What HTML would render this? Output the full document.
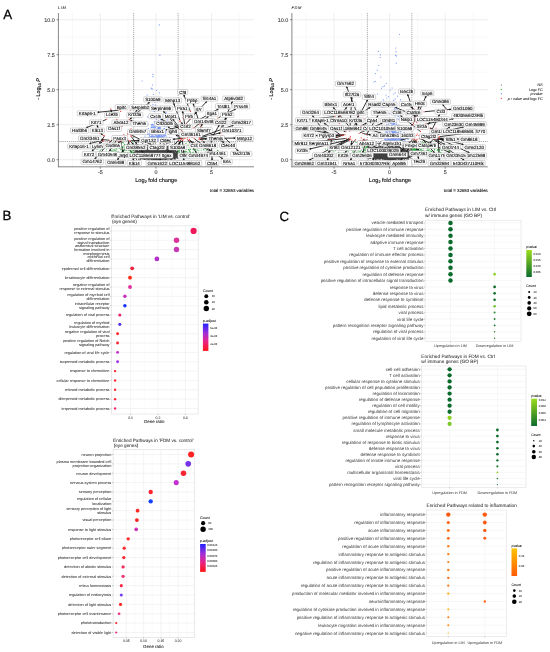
<!DOCTYPE html>
<html lang="en"><head><meta charset="utf-8"><title>Figure</title>
<style>html,body{margin:0;padding:0;background:#fff}svg{display:block}</style></head>
<body>
<svg width="550" height="652" viewBox="0 0 550 652" font-family="'Liberation Sans', sans-serif" text-rendering="geometricPrecision" stroke-width="0.05">
<rect width="550" height="652" fill="#fff"/>
<text x="3.3" y="18.8" font-size="13.3" fill="#000" stroke="#000" stroke-width="0.25">A</text>
<text x="2.5" y="220.0" font-size="13.3" fill="#000" stroke="#000" stroke-width="0.25">B</text>
<text x="279.6" y="220.5" font-size="13.3" fill="#000" stroke="#000" stroke-width="0.25">C</text>
<g>
<line x1="72.50" y1="13.0" x2="72.50" y2="166.8" stroke="#f1f1f1" stroke-width="0.5"/>
<line x1="128.10" y1="13.0" x2="128.10" y2="166.8" stroke="#f1f1f1" stroke-width="0.5"/>
<line x1="183.70" y1="13.0" x2="183.70" y2="166.8" stroke="#f1f1f1" stroke-width="0.5"/>
<line x1="239.30" y1="13.0" x2="239.30" y2="166.8" stroke="#f1f1f1" stroke-width="0.5"/>
<line x1="58.4" y1="142.20" x2="254.0" y2="142.20" stroke="#f1f1f1" stroke-width="0.5"/>
<line x1="58.4" y1="107.20" x2="254.0" y2="107.20" stroke="#f1f1f1" stroke-width="0.5"/>
<line x1="58.4" y1="72.20" x2="254.0" y2="72.20" stroke="#f1f1f1" stroke-width="0.5"/>
<line x1="58.4" y1="37.20" x2="254.0" y2="37.20" stroke="#f1f1f1" stroke-width="0.5"/>
<line x1="100.30" y1="13.0" x2="100.30" y2="166.8" stroke="#e6e6e6" stroke-width="0.7"/>
<line x1="155.90" y1="13.0" x2="155.90" y2="166.8" stroke="#e6e6e6" stroke-width="0.7"/>
<line x1="211.50" y1="13.0" x2="211.50" y2="166.8" stroke="#e6e6e6" stroke-width="0.7"/>
<line x1="58.4" y1="159.70" x2="254.0" y2="159.70" stroke="#e6e6e6" stroke-width="0.7"/>
<line x1="58.4" y1="124.70" x2="254.0" y2="124.70" stroke="#e6e6e6" stroke-width="0.7"/>
<line x1="58.4" y1="89.70" x2="254.0" y2="89.70" stroke="#e6e6e6" stroke-width="0.7"/>
<line x1="58.4" y1="54.70" x2="254.0" y2="54.70" stroke="#e6e6e6" stroke-width="0.7"/>
<line x1="58.4" y1="19.70" x2="254.0" y2="19.70" stroke="#e6e6e6" stroke-width="0.7"/>
<line x1="133.66" y1="13.0" x2="133.66" y2="166.8" stroke="#555" stroke-width="0.5" stroke-dasharray="1.2 0.9"/>
<line x1="178.14" y1="13.0" x2="178.14" y2="166.8" stroke="#555" stroke-width="0.5" stroke-dasharray="1.2 0.9"/>
<line x1="58.4" y1="141.50" x2="254.0" y2="141.50" stroke="#555" stroke-width="0.5" stroke-dasharray="1.2 0.9"/>
<path d="M141.6 154.1h0M142.3 156.2h0M161.5 153.2h0M157.3 157.4h0M173.8 151.3h0M146.7 153.6h0M170.2 158.9h0M159.1 156.2h0M143.6 155.6h0M139.3 156.5h0M149.2 154.4h0M153.2 155.3h0M154.8 157.6h0M137.6 152.0h0M177.8 157.2h0M162.3 148.1h0M167.6 158.8h0M142.0 152.3h0M164.9 154.9h0M156.2 157.2h0M159.2 157.9h0M162.5 153.1h0M162.8 151.8h0M152.3 157.3h0M158.0 155.2h0M159.2 154.8h0M158.8 154.1h0M152.5 157.0h0M158.0 155.5h0M151.2 155.9h0M168.9 155.2h0M146.8 155.7h0M168.9 156.2h0M160.9 157.1h0M174.0 153.4h0M163.0 150.2h0M165.3 145.7h0M146.2 156.2h0M153.4 155.4h0M147.9 156.9h0M155.1 157.8h0M134.6 152.5h0M151.0 148.4h0M165.1 158.1h0M162.7 157.8h0M150.3 158.0h0M150.3 153.3h0M158.1 158.9h0M146.8 147.3h0M147.1 153.6h0M137.1 141.8h0M137.6 152.8h0M154.4 151.5h0M165.3 155.5h0M175.1 151.5h0M161.8 149.0h0M147.8 154.9h0M152.2 157.7h0M141.4 152.1h0M135.1 155.7h0M155.9 158.5h0M147.5 157.6h0M139.8 155.5h0M155.8 158.9h0M152.5 156.5h0M170.1 153.8h0M164.0 155.4h0M159.8 153.7h0M176.5 152.2h0M147.1 157.2h0M133.7 154.3h0M149.0 147.2h0M162.1 154.4h0M158.6 154.2h0M145.7 157.2h0M168.6 158.8h0M152.0 153.0h0M156.5 158.7h0M153.4 158.8h0M156.4 156.9h0M147.2 154.2h0M144.0 149.0h0M152.8 156.2h0M156.6 158.9h0M154.3 156.5h0M145.7 151.8h0M141.1 152.5h0M162.5 149.0h0M172.9 155.8h0M140.2 153.7h0M145.1 152.5h0M164.0 147.1h0M151.3 156.0h0M162.9 151.8h0M161.6 147.6h0M170.2 155.7h0M144.9 147.1h0M153.1 157.6h0M136.9 154.5h0M176.8 157.7h0M158.1 156.5h0M157.4 156.9h0M137.3 154.5h0M145.4 147.0h0M160.6 158.7h0M146.4 157.1h0M146.8 152.9h0M146.5 157.1h0M170.0 149.9h0M174.1 146.4h0M148.9 157.2h0M140.0 159.4h0M169.7 157.0h0M160.6 152.9h0M154.3 157.7h0M154.3 154.0h0M136.3 151.1h0M145.8 158.5h0M136.3 151.2h0M156.4 158.6h0M158.4 151.9h0M145.9 153.9h0M155.2 157.0h0M155.9 156.4h0M145.4 156.6h0M149.1 158.8h0M144.6 152.8h0M165.4 151.9h0M158.0 151.0h0M164.2 156.5h0M163.1 156.0h0M160.7 157.6h0M154.6 155.8h0M161.9 153.8h0M164.2 154.5h0M163.7 157.9h0M136.2 156.7h0M152.9 156.6h0M158.4 158.5h0M140.8 158.5h0M159.1 155.8h0M156.9 155.1h0M143.6 157.1h0M174.0 154.8h0M161.3 153.6h0M149.5 157.5h0M153.8 159.1h0M161.7 150.9h0M147.7 154.6h0M154.6 148.3h0M159.7 150.2h0M175.0 149.7h0M158.1 150.9h0M155.1 157.7h0M154.2 159.4h0M145.4 153.6h0M172.2 155.6h0M147.8 153.0h0M149.9 149.9h0M171.9 155.4h0M155.4 154.6h0M159.7 155.0h0M155.8 148.7h0M172.5 155.7h0M169.9 153.6h0M148.9 158.2h0M152.8 157.8h0M143.4 154.7h0M149.5 155.5h0M147.0 156.4h0M155.3 158.9h0M162.5 157.5h0M136.7 148.9h0M151.3 157.4h0M148.3 158.7h0M150.0 158.5h0M149.5 154.4h0M145.3 154.8h0M155.1 156.0h0M171.9 151.4h0M150.0 155.5h0M141.6 154.5h0M156.1 156.4h0M159.9 159.0h0M141.4 156.1h0M151.5 159.1h0M149.3 152.8h0M146.6 155.0h0M145.2 150.3h0M161.2 157.4h0M141.7 152.8h0M147.9 156.1h0M144.3 151.2h0M149.2 152.7h0M166.7 156.1h0M175.4 153.4h0M168.9 154.7h0M152.0 155.0h0M163.1 156.8h0M164.6 155.9h0M152.6 155.7h0M144.1 152.2h0M169.5 152.2h0M136.4 154.6h0M151.0 153.8h0M162.9 156.7h0M148.5 155.3h0M150.1 156.6h0M160.1 152.7h0M149.2 157.1h0M162.9 156.9h0M141.3 156.8h0M172.5 154.5h0M169.4 154.3h0M160.1 157.8h0M159.9 157.7h0M167.9 151.0h0M156.1 156.1h0M136.2 156.4h0M139.8 145.4h0M141.4 156.6h0M149.2 148.1h0M163.9 151.2h0M163.5 148.9h0M172.0 155.5h0M150.7 150.3h0M150.1 157.2h0M167.2 158.9h0M159.4 154.3h0M159.9 159.0h0M168.6 152.2h0M157.7 157.8h0M133.8 153.9h0M161.7 157.3h0M157.6 151.4h0M157.1 156.4h0M165.1 151.4h0M135.4 154.2h0M154.3 148.8h0M147.9 152.3h0M147.7 159.2h0M175.8 154.6h0M142.0 157.6h0M173.0 158.1h0M169.1 158.0h0M161.2 151.2h0M159.7 156.9h0M154.5 149.4h0M149.4 157.7h0M177.6 154.5h0M158.0 157.7h0M154.8 157.3h0M162.1 155.0h0M159.6 156.1h0M149.2 157.7h0M152.1 155.6h0M151.4 153.5h0M144.6 153.4h0M145.7 153.5h0M164.1 153.2h0M142.7 153.3h0M144.0 157.5h0M176.8 158.0h0M148.7 156.2h0M146.4 157.8h0M142.4 154.1h0M161.8 151.4h0M170.0 154.7h0M145.2 151.2h0M159.2 157.3h0M154.0 156.4h0M164.0 153.7h0M156.9 156.8h0M152.1 157.7h0M143.4 154.8h0M158.2 150.2h0M150.0 155.1h0M141.2 151.1h0M160.1 151.8h0M166.3 158.2h0M152.7 157.4h0M135.4 154.5h0M150.7 156.7h0M168.0 154.9h0M149.4 158.4h0M169.9 156.4h0M159.9 155.8h0M150.5 157.2h0M156.4 153.0h0M143.1 148.2h0M150.1 157.5h0M172.5 149.0h0M142.0 156.3h0M151.1 157.1h0M149.9 148.9h0M136.2 154.5h0M151.5 159.1h0M170.5 142.4h0M150.4 155.1h0M155.0 154.6h0M156.6 158.8h0M149.5 158.5h0M149.4 157.4h0M154.6 153.1h0M153.9 158.2h0M174.0 146.6h0M144.1 156.7h0M148.6 150.3h0M163.2 154.7h0M143.6 155.8h0M154.2 157.8h0M171.2 152.4h0M156.0 155.4h0M161.3 157.9h0M144.2 159.4h0M151.1 153.6h0M151.8 154.7h0M144.1 149.6h0M158.7 155.8h0M157.5 157.0h0M156.3 159.6h0M152.7 155.4h0M172.9 152.2h0M146.3 154.3h0M148.1 158.5h0M177.9 153.5h0M161.6 154.9h0M167.2 147.4h0M160.8 152.6h0M158.6 158.5h0M154.4 155.0h0M168.5 153.4h0M146.7 147.4h0M163.2 157.4h0M154.0 156.4h0M157.5 151.9h0M143.9 151.4h0M148.8 157.2h0M171.4 155.2h0M152.7 157.1h0M142.6 155.5h0M171.1 156.6h0M155.8 150.6h0M151.6 151.2h0M153.2 153.3h0M137.0 155.7h0M168.3 156.5h0M140.1 155.6h0M144.8 150.7h0M157.2 156.5h0M157.1 154.0h0M160.6 150.7h0M147.7 158.1h0M152.8 159.2h0M152.6 152.5h0M158.8 157.1h0M143.4 158.0h0M154.2 150.7h0M168.5 154.2h0M158.1 156.0h0M154.6 158.2h0M145.6 154.7h0M151.6 157.6h0M160.1 156.1h0M147.9 149.1h0M167.0 156.6h0M162.4 146.5h0M136.2 153.8h0M163.8 153.7h0M164.3 156.7h0M163.2 155.2h0M151.8 158.7h0M175.7 155.5h0M157.0 155.7h0M156.6 153.9h0M148.9 154.4h0M153.4 158.5h0M153.5 158.1h0M147.9 148.9h0M165.7 155.0h0M162.2 154.2h0M158.2 155.0h0M149.3 158.4h0M158.8 153.9h0M161.0 156.6h0M172.0 154.7h0M155.6 158.7h0M155.0 154.4h0M153.9 155.6h0M171.5 148.4h0M157.7 151.2h0M166.1 158.0h0M176.8 152.6h0M157.7 153.6h0M149.1 157.3h0M165.1 154.1h0M151.2 154.1h0M167.9 152.9h0M153.2 152.2h0M158.6 155.3h0M146.3 154.6h0M157.4 155.4h0M156.6 158.3h0M145.6 152.6h0M165.6 157.2h0M163.0 156.6h0M141.3 145.3h0M157.5 152.6h0M145.4 157.3h0M148.2 155.6h0M154.6 156.6h0M148.9 157.9h0M156.2 157.4h0M150.0 157.4h0M151.4 152.7h0M167.4 157.8h0M166.9 157.6h0M140.4 157.5h0M151.8 156.2h0M141.8 148.8h0M154.6 152.2h0M140.1 154.2h0M146.0 152.1h0M158.1 152.3h0M145.6 156.1h0M167.4 149.4h0M158.6 158.8h0M145.9 158.5h0M162.5 158.9h0M158.3 152.0h0M170.5 158.1h0M156.8 153.7h0M140.3 155.2h0M170.9 146.7h0M142.0 149.9h0M152.1 151.4h0M177.1 156.6h0M146.1 154.1h0M149.4 155.3h0M147.5 158.3h0M152.6 156.4h0M158.9 158.3h0M170.5 154.5h0M136.7 154.6h0M168.1 148.1h0M164.3 157.2h0M159.3 154.2h0M155.7 151.7h0M146.0 150.0h0M163.1 153.1h0M151.5 151.9h0M157.8 157.0h0M151.8 156.3h0M171.3 155.1h0M162.0 158.0h0M141.5 154.7h0M154.6 157.2h0M151.7 150.6h0M163.5 156.6h0M143.0 156.8h0M148.3 149.5h0M153.5 154.4h0M159.1 145.2h0M150.8 152.6h0M160.3 157.1h0M164.0 157.0h0M163.4 156.6h0M149.9 157.5h0M154.6 156.0h0M149.9 156.7h0M162.4 157.3h0M163.7 157.8h0M143.9 156.5h0M152.7 158.2h0M146.9 153.1h0M177.5 150.0h0M135.2 152.2h0M157.1 158.6h0M159.3 158.0h0M156.1 155.3h0M163.9 157.3h0M170.2 156.1h0M160.9 151.2h0M163.1 149.2h0M161.3 158.1h0M141.0 154.1h0M158.0 158.8h0M157.6 154.6h0M144.1 150.8h0M148.8 155.6h0M164.4 157.0h0M146.1 152.0h0M155.3 153.3h0M158.3 157.5h0M148.6 155.4h0M144.0 158.6h0M163.4 155.1h0M163.9 158.0h0M153.9 156.5h0M143.4 147.6h0M160.4 154.1h0M165.8 152.9h0M150.9 156.1h0M173.4 150.2h0M140.8 159.0h0M165.2 152.0h0M149.7 154.5h0M157.9 152.6h0M152.9 159.1h0M141.1 155.0h0M162.0 157.7h0M175.0 157.7h0M153.0 144.2h0M160.0 156.6h0M147.4 157.5h0M139.6 146.4h0M160.0 152.8h0M177.6 151.4h0M155.8 150.5h0M152.8 152.5h0M136.6 154.1h0M157.0 150.4h0M157.8 152.9h0M157.8 156.7h0M158.5 158.6h0M170.5 152.1h0M160.7 154.0h0M137.2 152.0h0M163.8 158.1h0M169.3 153.3h0M149.8 155.0h0M150.5 155.0h0M153.1 152.4h0M158.5 156.8h0M149.9 159.0h0M170.8 155.7h0M168.5 141.9h0M154.9 154.9h0M150.4 157.2h0M136.6 153.3h0M142.5 154.6h0M145.5 152.6h0M147.5 155.7h0M150.7 149.1h0M155.2 152.8h0M167.1 156.8h0M150.0 152.2h0M150.6 157.0h0M155.8 154.4h0M165.7 149.2h0M150.8 157.8h0M165.3 156.2h0M153.0 152.0h0M147.1 154.6h0M146.0 156.9h0M167.6 156.8h0M145.2 150.4h0M167.8 156.1h0M151.3 155.5h0M158.7 154.9h0M140.7 154.3h0M164.3 151.9h0M155.5 155.8h0M153.5 151.0h0M153.9 159.0h0M147.3 153.4h0M171.7 152.7h0M149.9 158.6h0M159.3 157.6h0M150.4 150.9h0M152.6 158.6h0M141.7 156.0h0M159.1 157.0h0M173.3 146.1h0M142.5 152.7h0M167.6 158.5h0M168.2 149.5h0M154.3 156.6h0M161.5 158.8h0M172.3 154.3h0M167.5 158.0h0M155.5 157.2h0M149.5 153.4h0M177.3 148.4h0M150.1 151.4h0M147.6 154.7h0M148.1 154.6h0M177.0 156.4h0M141.4 157.0h0M156.8 157.3h0M150.6 154.0h0M155.9 153.9h0M146.8 156.1h0M143.8 154.4h0M141.8 156.7h0M160.8 158.6h0M153.3 150.5h0M163.5 155.2h0M153.8 157.2h0M161.0 155.3h0M164.6 150.1h0M174.5 156.5h0M145.4 152.5h0M154.3 158.5h0M156.2 153.1h0M154.9 154.3h0M158.4 153.9h0M146.7 154.8h0M163.5 155.2h0M161.1 157.4h0M148.5 154.0h0M163.3 154.8h0M143.4 153.6h0M172.9 150.3h0M168.1 157.4h0M143.6 147.7h0M151.6 154.1h0M171.1 153.9h0M149.2 157.3h0M161.5 154.8h0M144.4 157.2h0M161.9 154.8h0M153.1 156.0h0M154.0 153.0h0M175.9 153.9h0M153.3 154.0h0M142.9 157.3h0M156.0 157.3h0M157.7 158.3h0M142.4 155.8h0M172.5 146.1h0M157.7 157.2h0M157.4 156.2h0M151.3 157.1h0M134.2 148.8h0M151.8 154.2h0M154.0 155.2h0M154.6 155.7h0M170.3 157.9h0M153.5 155.9h0M146.6 158.6h0M153.5 153.2h0M168.3 148.3h0M144.6 153.4h0M139.2 153.8h0M157.3 155.8h0M166.1 155.6h0M157.2 154.1h0M152.3 147.2h0M146.0 157.2h0M161.3 157.5h0M153.4 157.5h0M168.0 155.4h0M165.9 157.0h0M171.9 156.6h0M170.8 154.4h0M146.8 148.6h0M151.3 158.8h0M161.6 153.5h0M148.2 158.2h0M144.2 156.6h0M141.0 155.2h0M150.1 158.2h0M146.6 150.5h0M173.1 150.5h0M140.3 156.3h0M143.7 152.0h0M168.0 153.3h0M161.5 157.9h0M158.4 159.4h0M164.5 151.7h0M138.7 151.8h0M160.3 158.7h0M177.7 155.8h0M150.4 155.7h0M157.1 155.6h0M145.5 157.0h0M147.7 156.7h0M158.9 156.9h0M135.6 156.7h0M157.2 152.3h0M147.0 157.0h0M159.3 156.1h0M146.9 150.9h0M159.5 153.5h0M156.6 155.9h0M140.0 146.6h0M151.1 156.9h0M158.0 154.7h0M148.9 155.7h0M155.2 153.8h0M169.6 157.7h0M162.5 148.0h0M165.6 155.3h0M167.5 150.5h0M158.1 156.7h0M169.8 150.6h0M145.1 157.9h0M151.9 147.8h0M160.2 155.4h0M153.3 156.6h0M141.6 156.4h0M157.0 153.3h0M163.1 157.8h0M148.7 149.9h0M149.0 159.0h0M147.0 156.0h0M168.7 156.6h0M163.3 154.7h0M156.8 154.6h0M159.6 156.3h0M156.5 158.7h0M160.1 153.3h0M148.7 159.0h0M154.8 158.2h0M147.7 155.3h0M148.6 155.9h0M167.4 153.9h0M143.3 157.1h0M163.2 155.9h0M170.5 150.7h0M164.8 152.0h0M150.0 156.7h0M154.8 157.3h0M147.3 153.2h0M168.3 155.6h0M169.6 158.6h0M141.2 154.6h0M167.5 155.0h0M136.4 147.8h0M151.3 157.9h0M158.0 149.8h0M155.2 148.7h0M142.6 153.3h0M142.5 158.3h0M163.4 154.0h0M158.6 155.8h0M166.6 143.8h0M147.6 149.8h0M163.6 150.9h0M159.8 155.5h0M158.1 158.9h0M144.5 150.3h0M171.8 156.3h0M162.9 151.1h0M172.1 158.5h0M155.3 157.8h0M158.3 150.3h0M144.4 158.3h0M162.7 157.8h0M158.2 151.9h0M151.1 153.6h0M154.8 156.3h0M145.0 147.6h0M171.4 153.5h0M157.5 155.1h0M142.5 158.7h0M165.3 153.7h0M155.6 155.9h0M148.3 157.2h0M159.4 158.7h0M145.7 156.4h0M139.7 153.1h0M140.2 153.2h0M163.2 156.4h0M170.2 158.8h0M156.3 158.0h0M147.1 156.7h0M154.4 155.0h0M145.0 152.0h0M150.8 158.1h0M164.2 156.4h0M150.3 158.0h0M138.6 154.1h0M145.5 151.8h0M173.5 156.8h0M168.4 157.7h0M166.3 156.1h0M140.4 157.8h0M161.8 158.9h0M160.1 149.2h0M145.9 154.5h0M154.9 150.6h0M145.3 156.9h0M146.2 156.7h0M147.5 155.6h0M143.2 155.0h0M145.0 155.6h0M176.2 156.1h0M146.8 151.7h0M151.3 146.7h0M149.8 153.9h0M158.9 150.7h0M166.5 157.0h0M167.9 156.6h0M154.9 152.7h0M159.4 158.2h0M165.5 150.0h0M140.4 152.1h0M155.6 153.1h0M151.7 152.9h0M162.2 158.1h0M147.4 150.2h0M153.6 152.9h0M148.8 158.4h0M169.4 154.0h0M160.1 154.6h0M145.7 154.7h0M171.0 155.3h0M144.1 152.7h0M150.3 151.3h0M161.3 154.9h0M146.8 154.8h0M143.9 154.0h0M147.0 147.9h0M155.9 156.5h0M173.7 151.5h0M154.7 153.6h0M177.1 153.0h0M160.3 151.2h0M143.4 150.1h0M145.9 157.8h0M161.7 152.7h0M164.2 158.9h0M151.0 156.4h0M149.1 154.3h0M168.1 147.5h0M161.1 154.5h0M161.0 148.3h0M157.5 154.9h0M155.2 158.0h0M176.6 152.9h0M151.4 158.5h0M135.5 144.7h0M158.6 158.2h0M173.8 157.8h0M153.4 151.8h0M150.1 154.2h0M145.8 156.9h0M156.0 155.5h0M165.9 157.6h0M155.2 157.1h0M142.2 157.3h0M170.7 151.6h0M146.2 151.8h0M146.0 155.7h0M141.9 156.4h0M161.8 149.0h0M165.7 159.0h0M160.6 152.6h0M164.4 148.3h0M148.6 151.1h0M144.6 156.5h0M158.2 157.8h0M170.3 156.5h0M147.4 149.1h0M160.5 158.3h0M162.5 158.7h0M152.3 157.3h0M167.5 155.2h0M143.0 155.4h0M158.5 153.9h0M147.9 152.7h0M164.1 157.8h0M156.9 157.6h0M141.1 146.5h0M169.3 154.5h0M163.3 150.7h0M158.8 158.6h0M160.9 157.0h0M162.7 153.0h0M152.0 155.3h0M162.5 152.0h0M159.1 158.6h0M139.8 152.3h0M154.3 156.3h0M164.4 158.3h0M171.1 155.7h0M159.2 156.0h0M166.1 150.5h0M148.0 152.7h0M153.1 153.9h0M144.4 157.8h0M158.5 158.6h0M148.7 156.1h0M134.2 152.5h0M142.2 156.8h0M148.0 157.8h0M155.2 157.5h0M163.3 158.1h0M164.9 152.0h0M157.2 151.6h0M158.9 157.0h0M158.6 158.8h0M152.3 158.2h0M164.9 151.8h0M161.4 158.7h0M158.0 157.3h0M151.4 157.1h0M144.9 158.2h0M143.2 155.8h0M152.6 158.9h0M159.6 155.4h0M167.7 154.1h0M142.3 153.0h0M149.1 149.0h0M153.8 155.2h0M159.8 151.1h0M160.5 154.0h0M156.5 157.1h0M154.5 149.5h0M134.2 148.8h0M165.0 151.1h0M163.3 154.5h0M169.7 153.0h0M149.4 156.2h0M149.9 156.9h0M177.3 146.5h0M144.0 153.3h0M160.4 156.3h0M155.6 159.5h0M166.3 158.9h0M172.5 159.0h0M154.1 155.9h0M152.0 148.9h0M146.9 156.6h0M148.5 151.1h0M153.3 156.5h0M163.6 157.7h0M157.5 158.4h0M163.6 151.0h0M141.9 147.7h0M158.5 158.6h0M163.9 151.7h0M162.9 155.7h0M154.2 158.7h0M162.7 159.0h0M149.9 158.2h0M160.7 155.4h0M146.9 150.3h0M141.4 154.0h0M141.9 146.3h0M158.4 152.3h0M169.2 158.3h0M144.7 154.5h0M161.7 157.8h0M141.1 142.5h0M152.7 153.9h0M159.8 153.9h0M144.2 157.6h0M152.1 157.8h0M159.8 156.9h0M140.0 152.6h0M152.8 154.3h0M156.3 158.9h0M149.7 159.2h0M170.9 154.1h0M152.2 156.1h0M152.9 157.9h0M152.6 156.6h0M158.4 158.4h0M156.9 158.1h0M146.2 156.4h0M160.2 152.6h0M147.9 150.4h0M156.8 158.2h0M165.3 152.4h0M161.7 155.9h0M153.0 156.3h0M156.5 155.1h0M149.7 151.2h0M159.8 158.0h0M162.2 153.3h0M148.5 155.7h0M171.6 158.0h0M151.3 152.4h0M157.9 152.4h0M167.6 156.6h0M147.4 155.2h0M149.4 155.3h0M167.9 150.0h0M162.3 154.4h0M155.8 155.3h0M163.8 148.2h0M151.7 157.8h0M140.0 151.2h0M155.3 151.2h0M163.7 155.4h0M158.8 155.4h0M152.6 151.7h0M142.4 151.5h0M158.0 157.3h0M160.1 153.1h0M140.8 156.4h0M167.8 157.4h0M166.8 156.1h0M166.2 154.5h0M157.7 157.4h0M160.1 157.9h0M176.0 143.5h0M147.8 153.4h0M152.6 156.6h0M143.9 154.2h0M150.2 152.4h0M158.2 157.6h0M162.5 157.1h0M151.3 154.1h0M147.2 156.2h0M144.8 148.7h0M170.6 159.3h0M159.2 158.2h0M157.7 152.7h0M143.8 155.8h0M147.1 157.2h0M160.9 157.7h0M140.8 158.3h0M178.0 156.6h0M167.7 148.6h0M164.5 150.1h0M163.3 158.1h0M160.2 155.5h0M167.1 156.2h0M150.7 155.8h0M152.1 150.7h0M143.3 156.9h0M138.8 154.2h0M148.9 153.6h0M167.0 157.2h0M160.6 158.7h0M176.7 156.1h0M151.3 154.9h0M166.1 152.2h0M150.5 157.4h0M175.7 157.6h0M152.5 150.8h0M159.7 154.8h0M155.1 155.3h0M147.8 153.4h0M154.3 150.1h0M173.0 145.1h0M157.9 157.1h0M135.0 152.3h0M163.0 147.7h0M152.1 159.3h0M152.7 153.8h0M138.0 154.1h0M156.4 151.5h0M156.5 157.9h0M143.4 155.0h0M147.0 158.0h0M151.1 155.0h0M149.2 156.8h0M153.1 155.6h0M169.0 158.6h0M163.9 155.4h0M153.4 159.4h0M159.2 153.0h0M145.1 151.2h0M161.7 149.0h0M153.3 151.9h0M140.9 156.1h0M165.6 150.5h0M156.1 152.7h0M159.0 158.4h0M135.8 150.1h0M149.9 157.4h0M136.9 157.5h0M156.9 159.2h0M153.4 148.9h0M155.1 157.5h0M155.4 157.8h0M152.9 159.1h0M153.0 157.0h0M161.4 158.0h0M153.3 152.2h0M149.9 154.4h0M141.5 153.3h0M157.1 155.8h0M146.0 153.3h0M166.0 159.4h0M162.6 156.5h0M157.7 158.3h0M156.9 150.6h0M155.4 157.2h0M174.1 155.9h0M155.5 151.0h0M154.0 153.3h0M148.4 153.0h0M163.8 158.6h0M168.2 148.7h0M151.7 158.0h0M167.3 151.3h0M173.4 154.3h0M148.1 151.5h0M144.7 154.2h0M171.1 151.6h0M148.2 157.9h0M149.7 153.8h0M167.7 158.8h0M157.1 156.0h0M147.2 147.6h0M154.1 152.6h0M153.5 157.6h0M172.5 153.0h0M148.0 152.0h0M176.6 151.7h0M154.0 159.2h0M140.9 149.5h0M155.2 159.2h0M168.0 149.5h0M166.2 158.4h0M167.6 158.6h0M154.0 157.4h0M151.1 157.3h0M137.3 153.7h0M163.5 158.1h0M156.2 158.8h0M163.6 156.1h0M146.8 157.8h0M165.8 157.1h0M163.9 150.2h0M136.5 150.0h0M161.7 157.6h0M174.7 142.8h0M164.2 152.8h0M150.9 156.7h0M146.7 156.9h0M152.6 157.8h0M155.4 156.1h0M147.9 155.5h0M163.8 156.1h0M168.9 155.9h0M153.0 153.7h0M157.0 157.7h0M161.6 153.6h0M173.7 158.1h0M169.8 151.6h0M146.3 150.6h0M143.7 155.6h0M150.2 148.9h0M157.4 154.8h0M171.4 158.7h0M157.8 158.0h0M134.9 149.3h0M156.8 156.1h0M169.3 157.1h0M136.5 148.9h0M162.6 154.0h0M171.6 154.6h0M173.2 156.1h0M147.4 149.2h0M156.1 156.7h0M166.5 155.5h0M164.8 157.9h0M163.9 156.3h0M151.0 156.4h0M143.1 154.4h0M152.0 158.9h0M159.1 155.3h0M156.3 154.6h0M170.7 157.3h0M149.7 146.5h0M157.2 156.2h0M153.0 153.4h0M151.7 154.7h0M175.7 146.9h0M164.4 154.0h0M164.9 150.2h0M156.2 159.2h0M174.1 152.1h0M150.2 158.3h0M160.0 157.0h0M142.9 149.6h0M162.4 156.2h0M153.1 159.0h0M147.1 150.2h0M174.8 150.3h0M158.7 156.1h0M174.5 154.3h0M165.5 158.2h0M176.4 145.5h0M175.5 150.5h0M152.8 157.9h0M169.1 157.4h0M152.0 158.4h0M166.5 154.8h0M154.4 149.7h0M152.2 158.3h0M145.1 157.1h0M151.8 159.1h0M166.7 156.8h0M163.4 151.8h0M149.4 158.2h0M164.2 152.6h0M153.4 158.4h0M135.4 150.3h0M148.3 157.5h0M144.7 155.0h0M158.0 156.4h0M176.8 153.0h0M157.1 158.8h0M156.3 152.7h0M155.7 155.6h0M151.1 151.1h0M167.9 151.2h0M139.5 146.7h0M155.1 152.4h0M158.4 158.3h0M156.2 157.3h0M168.2 152.2h0M138.2 146.8h0M172.5 144.7h0M170.9 154.5h0M150.8 154.5h0M156.2 152.4h0M154.4 156.2h0M147.5 153.8h0M142.4 155.7h0M139.3 154.7h0M147.8 158.2h0M151.8 152.8h0M148.9 157.3h0M163.1 157.3h0M158.1 156.5h0M148.8 158.0h0M142.7 153.8h0M148.5 156.0h0M152.8 155.8h0M136.9 155.6h0M147.2 154.1h0M154.5 156.2h0M169.5 155.3h0M147.6 156.1h0M171.4 155.9h0M140.7 152.0h0M155.1 152.7h0M139.4 154.9h0M170.6 152.8h0M162.9 153.8h0M168.3 150.0h0M154.2 156.5h0M160.9 158.5h0M140.1 155.4h0M161.5 155.0h0M159.8 157.3h0M141.3 155.4h0M147.5 154.9h0M148.3 156.2h0M158.3 158.1h0M146.3 159.0h0M157.3 154.2h0M148.4 156.0h0M135.4 153.6h0M158.5 145.5h0M151.3 155.5h0M139.6 155.6h0M161.7 155.3h0M145.0 156.0h0M141.3 156.5h0M174.2 156.7h0M158.0 159.6h0M159.8 156.0h0M162.0 153.0h0M162.9 159.3h0M165.5 156.9h0M172.5 154.4h0M134.3 149.7h0M156.6 154.8h0M176.3 149.7h0M160.1 153.2h0M153.6 153.0h0M156.3 156.4h0M152.7 155.7h0M139.2 150.8h0M136.3 142.6h0M148.6 159.3h0M152.6 157.8h0M168.5 155.8h0M154.2 150.9h0M166.5 150.7h0M146.8 154.5h0M149.4 149.1h0M156.1 150.9h0M165.5 154.9h0M147.1 155.8h0M136.3 150.8h0M136.8 154.6h0M151.0 157.3h0M171.6 154.7h0M145.1 157.8h0M156.1 159.1h0M149.3 158.2h0M155.6 154.6h0M145.8 154.7h0M137.7 152.9h0M166.6 155.4h0M147.5 146.9h0M155.4 156.7h0M162.0 157.1h0M154.6 158.9h0M154.0 158.0h0M163.7 156.5h0M156.8 155.9h0M160.8 152.5h0M157.6 157.9h0M140.4 156.7h0M146.0 153.0h0M136.9 151.8h0M158.4 151.7h0M156.0 157.3h0M156.1 152.7h0M146.2 155.7h0M149.9 150.9h0M151.7 155.2h0M141.0 153.5h0M158.3 150.1h0M168.4 157.2h0M150.0 154.8h0M142.9 154.7h0M154.8 159.1h0M155.5 158.6h0M164.8 155.6h0M145.9 149.1h0M161.9 154.2h0M146.0 153.4h0M151.7 152.3h0M155.7 157.9h0M140.1 153.8h0M173.1 153.9h0M161.0 157.0h0M140.9 153.6h0M154.3 157.9h0M148.1 157.4h0M140.0 150.1h0M155.4 154.0h0M146.7 154.0h0M155.8 157.2h0M137.0 156.3h0M169.0 153.3h0M150.3 148.6h0M160.8 155.3h0M152.9 156.2h0M162.3 154.9h0M150.3 155.3h0M151.7 157.5h0M144.7 152.1h0M169.9 146.7h0M142.5 155.9h0M149.0 155.1h0M175.4 158.9h0M144.0 154.2h0M151.5 156.8h0M157.4 152.6h0M168.2 157.3h0M145.1 146.9h0M156.6 153.3h0M160.3 158.5h0M153.6 153.4h0M153.6 157.7h0M160.3 155.6h0M154.6 157.3h0M136.5 157.5h0M171.5 154.8h0M164.5 154.5h0M158.9 153.4h0M154.0 158.4h0M139.1 153.2h0M142.7 156.5h0M170.5 156.7h0M145.2 155.8h0M148.0 154.0h0M165.3 158.3h0M157.0 153.9h0M158.7 153.5h0M155.3 159.5h0M153.6 157.3h0M146.7 154.7h0M146.5 153.0h0M143.6 157.6h0M164.1 156.8h0M162.6 152.9h0M141.2 151.4h0M167.2 157.5h0M156.0 158.5h0M153.9 152.9h0M164.8 153.4h0M171.0 152.3h0M145.8 154.4h0M149.7 157.7h0M159.8 153.8h0M139.4 150.4h0M168.1 147.8h0M143.0 158.8h0M155.1 156.4h0M172.2 154.8h0M155.6 147.3h0M137.0 154.0h0M154.3 157.6h0M155.7 152.9h0M155.6 156.5h0M143.9 154.5h0M143.4 153.2h0M167.6 155.7h0M150.1 156.9h0M167.6 149.2h0M161.1 151.6h0M160.7 154.5h0M162.6 157.7h0M156.6 155.7h0M174.7 144.3h0M151.4 157.9h0M142.9 149.3h0M140.2 153.9h0M175.0 151.6h0M171.5 155.8h0M170.3 155.2h0M156.3 156.6h0M148.4 157.8h0M143.5 151.6h0M154.2 157.8h0M156.4 150.0h0M164.6 157.0h0M149.6 150.4h0M168.6 159.0h0M171.6 155.8h0M151.6 158.5h0M146.1 158.5h0M163.4 154.1h0M140.9 154.7h0M148.8 155.8h0M160.4 152.3h0M160.3 152.7h0M176.5 156.9h0M154.2 152.6h0M158.2 157.3h0M135.9 147.8h0M145.5 157.9h0M161.3 157.6h0M155.5 159.0h0M141.2 151.9h0M160.6 158.7h0M154.3 158.4h0M146.6 153.1h0M160.3 157.7h0M172.9 152.6h0M159.3 152.2h0M159.0 157.2h0M147.1 155.7h0M174.7 156.5h0M177.0 151.5h0M143.1 154.5h0M152.1 156.7h0M144.9 152.3h0M166.8 156.2h0M170.7 156.0h0M154.0 159.2h0M161.7 157.7h0M148.1 157.6h0M149.0 152.3h0M162.8 154.7h0M151.7 152.7h0M162.9 157.0h0M167.5 154.2h0M158.7 156.4h0M151.8 157.3h0M149.0 157.4h0M147.9 148.4h0M160.9 156.5h0M142.8 153.3h0M147.8 158.0h0M159.4 158.3h0M176.4 148.9h0M174.3 146.1h0M167.4 158.4h0M154.3 157.8h0M168.6 157.4h0M158.9 147.6h0M134.9 157.6h0M156.3 150.9h0M155.2 155.0h0M150.9 157.5h0M155.8 153.8h0M135.1 149.1h0M149.1 150.7h0M169.6 153.9h0M142.2 154.2h0M153.6 156.3h0M148.9 151.1h0M163.9 158.3h0M141.9 153.3h0M169.6 151.1h0M169.4 153.6h0M145.4 154.3h0M162.6 151.3h0M160.4 159.4h0M158.3 149.8h0M157.9 153.5h0M153.2 152.4h0M160.4 157.5h0M151.8 152.1h0M153.2 154.9h0M164.1 146.1h0M142.5 150.2h0M154.4 155.6h0M160.1 155.6h0M153.0 157.1h0M147.5 150.9h0M135.1 157.6h0M170.0 150.6h0M148.4 152.9h0M160.4 158.1h0M162.2 158.5h0M136.0 154.4h0M153.9 158.2h0M139.8 155.1h0M164.4 156.4h0M152.3 157.0h0M138.2 146.7h0M161.2 157.5h0M141.0 149.9h0M136.4 147.2h0M164.0 155.4h0M148.2 156.9h0M155.0 159.0h0M162.4 155.9h0M174.7 152.9h0M167.9 154.6h0M150.8 158.9h0M142.0 155.2h0M165.4 156.8h0M160.7 151.2h0M157.7 156.3h0M162.4 153.6h0M140.7 157.4h0M140.1 155.0h0M147.4 157.9h0M151.8 156.2h0M164.2 158.2h0M165.2 149.3h0M160.6 157.7h0M150.5 152.9h0M167.6 151.0h0M166.3 157.7h0M166.7 159.1h0M161.5 156.7h0M166.2 150.7h0M148.2 157.9h0M174.4 155.7h0M136.2 143.5h0M150.4 156.9h0M142.9 155.0h0M177.4 158.2h0M171.9 158.9h0M163.6 145.7h0M154.9 152.3h0M165.0 156.1h0M142.8 156.4h0M175.2 152.9h0M160.2 156.8h0M154.3 158.1h0M151.8 159.2h0M157.3 155.5h0M142.1 156.3h0M145.2 153.0h0M155.9 157.7h0M149.0 157.3h0M160.5 156.8h0M166.5 156.2h0M153.1 153.0h0M147.6 149.3h0M160.0 158.4h0M153.7 156.3h0M171.9 151.1h0M149.7 153.6h0M171.5 152.2h0M161.6 156.8h0M152.3 153.2h0M174.7 154.6h0M166.0 155.6h0M175.7 151.0h0M156.1 157.6h0M141.2 146.6h0M149.7 158.4h0M149.8 152.4h0M143.9 156.5h0M163.9 156.7h0M151.7 155.0h0M150.3 151.4h0M138.5 155.3h0M154.5 154.8h0M164.1 155.8h0M145.9 156.0h0M160.1 152.6h0M159.6 157.9h0M170.7 151.4h0M171.9 151.6h0M145.5 153.2h0M164.7 156.7h0M144.4 152.3h0M156.3 159.6h0M165.0 154.6h0M135.4 156.8h0M143.1 151.5h0M154.0 152.6h0M166.8 155.9h0M149.2 155.0h0M140.7 153.5h0M147.6 155.6h0M153.8 155.8h0M160.9 157.7h0M176.2 155.4h0M155.5 156.2h0M170.0 158.9h0M160.3 157.6h0M147.8 159.0h0M176.5 145.5h0M161.3 158.0h0M157.4 159.0h0M138.0 144.6h0M161.6 154.9h0M157.5 150.6h0M142.4 153.2h0M153.5 158.9h0M168.5 152.3h0M173.9 155.2h0M148.8 150.0h0M167.4 154.9h0M166.1 158.5h0M159.4 151.7h0M140.8 150.3h0M153.2 154.1h0M153.3 143.7h0M137.1 153.9h0M138.4 154.6h0M159.3 157.1h0M150.2 150.5h0M167.5 152.3h0M165.5 151.9h0M169.6 149.6h0M170.0 148.7h0M151.4 152.5h0M144.6 157.2h0M161.8 154.6h0M151.2 147.1h0M145.8 156.7h0M163.1 153.1h0M162.7 158.6h0M156.9 158.7h0M147.6 154.3h0M161.4 155.7h0M143.5 150.7h0M167.8 155.9h0M141.5 155.3h0M144.3 153.5h0M152.7 156.6h0M152.0 147.0h0M177.8 146.5h0M142.8 151.8h0M169.1 155.6h0M149.3 152.9h0M144.7 155.4h0M157.1 156.2h0M154.7 146.7h0M164.6 154.8h0M152.5 157.8h0M143.2 154.5h0M149.0 158.7h0M149.9 153.5h0M143.9 157.2h0M152.8 158.4h0M155.9 153.0h0M158.0 146.3h0M145.6 155.3h0M154.9 156.3h0M148.0 155.8h0M145.8 157.1h0M146.6 151.9h0M145.4 155.8h0M147.2 156.1h0M156.6 157.6h0M175.3 150.0h0M145.2 155.0h0M162.3 153.5h0M140.9 156.1h0M174.3 153.5h0M170.2 153.9h0M155.5 154.4h0M139.4 155.3h0M166.2 154.9h0M152.1 152.3h0M146.5 157.8h0M160.8 155.7h0M153.0 152.6h0M145.3 151.8h0M146.3 154.6h0M161.1 150.2h0M159.0 157.6h0M156.9 156.9h0M151.7 156.4h0M141.8 156.3h0M140.9 150.9h0M149.9 149.8h0M152.2 157.7h0M139.0 156.4h0M165.2 157.4h0M155.7 152.5h0M152.5 156.6h0M141.6 156.4h0M161.0 157.8h0M169.1 156.0h0M167.9 155.3h0M164.3 156.7h0M153.7 158.5h0M146.6 154.0h0M151.4 153.7h0M161.7 153.2h0M138.7 153.9h0M162.3 147.8h0M151.9 154.3h0M161.5 149.5h0M140.6 157.1h0M150.2 157.7h0M153.1 149.1h0M165.7 154.2h0M136.2 148.4h0M158.9 158.0h0M148.5 149.6h0M168.3 151.7h0M152.3 153.7h0M174.1 149.5h0M157.8 151.0h0M146.0 158.3h0M145.0 154.1h0M156.9 152.3h0M158.6 155.9h0M143.6 154.4h0M164.9 158.5h0M154.5 159.4h0M171.1 155.6h0M161.4 159.1h0M154.4 151.3h0M161.1 157.4h0M142.9 154.2h0M146.8 148.0h0M150.2 153.3h0M151.1 155.6h0M158.2 152.4h0M149.1 149.6h0M171.6 155.1h0M142.7 156.4h0M155.6 154.0h0M157.6 153.6h0M145.8 144.6h0M168.7 155.5h0M148.1 155.4h0M134.1 157.1h0M167.1 153.9h0M145.1 157.3h0M154.3 154.2h0M165.8 157.4h0M153.2 157.1h0M152.1 155.5h0M151.1 151.5h0M158.9 159.0h0M169.1 153.6h0M149.0 155.0h0M153.6 153.1h0M161.0 155.7h0M134.2 152.6h0M173.4 149.1h0M136.0 154.7h0M138.9 157.6h0M154.8 159.0h0M164.4 150.0h0M156.1 157.3h0M160.8 157.4h0M157.8 156.9h0M154.0 152.4h0M148.5 157.3h0M154.0 159.3h0M155.7 159.3h0M154.4 152.1h0M150.5 158.4h0M155.2 157.1h0M166.8 157.1h0M149.5 154.5h0M141.4 149.3h0M162.3 153.2h0M174.4 150.2h0M152.8 157.7h0M173.5 158.1h0M149.1 154.0h0M157.2 156.6h0M140.5 151.5h0M143.9 155.0h0M148.9 153.8h0M152.9 154.9h0M163.8 158.8h0M145.8 155.0h0M161.2 155.2h0M147.5 156.6h0M167.9 151.7h0M164.8 157.6h0M148.2 154.0h0M133.9 152.3h0M161.5 153.4h0M152.7 152.2h0M161.0 158.5h0M152.6 151.5h0M155.9 158.2h0M163.9 154.2h0M151.3 153.1h0M150.0 158.6h0M156.0 156.7h0M156.9 158.8h0M149.3 154.6h0M147.3 157.5h0M134.4 148.7h0M152.3 151.4h0M161.8 157.9h0M157.2 158.7h0M134.5 149.5h0M156.6 157.8h0M143.5 155.9h0M166.1 155.6h0M154.1 156.4h0M177.7 153.4h0M150.5 154.2h0M153.4 156.8h0M165.4 151.6h0M172.6 156.8h0M161.5 156.6h0M152.5 158.8h0M148.6 150.0h0M162.4 158.1h0M148.7 156.1h0M155.9 159.2h0M162.7 155.9h0M162.2 151.7h0M153.6 153.3h0M141.8 146.2h0M160.5 152.6h0M165.6 157.0h0M142.2 154.1h0M160.2 156.3h0M144.2 158.5h0M151.5 158.4h0M153.5 157.6h0M147.8 155.7h0M175.3 147.6h0M157.3 154.1h0M148.6 157.9h0M170.9 152.8h0M161.6 153.1h0M151.8 155.1h0M135.4 153.1h0M177.1 157.1h0M148.7 158.7h0M157.8 152.4h0M166.3 155.6h0M160.7 159.0h0M160.3 155.7h0M162.4 155.0h0M157.5 156.4h0M168.9 154.9h0M146.9 156.4h0M142.2 157.2h0M150.0 147.8h0M176.6 153.6h0M158.3 156.4h0M162.8 155.2h0M155.7 157.0h0M162.6 156.6h0M153.7 150.6h0M139.5 153.5h0M160.5 152.2h0M156.6 150.9h0M151.0 157.6h0M160.9 154.1h0M142.9 157.6h0M155.5 157.2h0M160.0 156.9h0M154.9 152.3h0M152.2 155.4h0M150.3 158.3h0M149.3 155.6h0M158.3 157.6h0M164.9 154.8h0M145.7 153.5h0M156.5 159.2h0M149.2 156.4h0M150.0 157.7h0M173.3 154.3h0M154.3 158.8h0M166.8 150.3h0M175.2 155.1h0M157.4 159.0h0M157.9 156.1h0M151.4 154.3h0M143.2 154.8h0M144.1 157.0h0M160.9 152.3h0M168.9 156.6h0M161.6 154.6h0M153.8 142.3h0M144.5 152.5h0M159.1 149.4h0M140.3 155.7h0M163.0 157.8h0M140.9 151.1h0M161.9 154.9h0M155.1 153.7h0M161.6 157.0h0M148.7 158.0h0M152.4 157.6h0M154.6 155.6h0M149.7 152.4h0M160.3 143.4h0M153.0 155.4h0M153.2 153.7h0M153.5 159.1h0M157.0 157.2h0M139.3 147.9h0M143.4 156.4h0M151.8 158.6h0M138.4 142.1h0M152.7 155.1h0M161.2 154.9h0M150.8 156.7h0M158.2 155.4h0M173.7 146.1h0M176.0 151.4h0M165.5 157.0h0M148.7 157.3h0M157.6 156.3h0M174.1 158.9h0M163.9 157.8h0M161.5 158.0h0M154.6 158.3h0M151.5 154.2h0M140.1 157.5h0M151.1 156.6h0M158.5 152.0h0M177.6 154.0h0M154.7 158.8h0M159.1 158.6h0M168.6 158.7h0M162.8 158.7h0M150.5 155.1h0M153.6 156.6h0M145.7 157.5h0M159.9 149.9h0M152.7 158.1h0M166.1 147.1h0M146.0 150.0h0M161.1 157.0h0M152.1 154.5h0M164.4 152.9h0M141.5 153.4h0M163.2 151.4h0M163.9 152.5h0M169.1 150.0h0M151.4 151.4h0M144.7 156.8h0M153.2 148.3h0M137.4 150.5h0M162.8 151.0h0M143.8 153.7h0M153.7 154.5h0M163.1 152.7h0M156.7 158.1h0M168.5 148.3h0M152.6 157.7h0M164.4 144.3h0M157.4 159.4h0M141.7 154.6h0M159.2 156.5h0M143.2 157.7h0M156.4 156.4h0M147.2 158.0h0M159.3 157.6h0M144.0 157.2h0M157.8 159.2h0M165.2 157.3h0M138.4 154.8h0M154.6 157.8h0M153.9 153.8h0M160.7 158.0h0M171.8 153.0h0M149.5 156.8h0M146.4 157.5h0M155.1 155.4h0M157.2 148.1h0M154.1 153.8h0M147.4 154.2h0M153.3 159.3h0M165.9 154.4h0M176.0 149.3h0M146.7 156.1h0M164.3 156.2h0M163.3 150.1h0M164.6 149.2h0M143.8 155.5h0M146.1 153.9h0M174.5 151.9h0M149.0 155.2h0M147.6 152.5h0M155.3 159.1h0M149.3 150.6h0M160.0 147.2h0M140.2 152.4h0M159.0 156.0h0M164.4 154.6h0M157.6 158.4h0M169.6 156.7h0M162.3 156.4h0M174.0 149.0h0M155.0 158.8h0M151.2 156.6h0M165.4 153.6h0M157.1 156.8h0M151.5 153.2h0M154.8 155.9h0M163.8 157.6h0M152.3 158.7h0M147.6 158.0h0M160.5 153.6h0M145.2 150.1h0M161.5 158.1h0M161.7 158.9h0M160.5 157.3h0M163.7 150.4h0M137.5 154.1h0M167.4 156.5h0M149.1 152.5h0M151.9 154.4h0M159.3 158.2h0M154.4 158.7h0M149.7 155.2h0M170.8 156.2h0M147.7 156.0h0M154.0 158.7h0M149.1 157.1h0M152.5 153.0h0M139.6 151.8h0M173.5 152.3h0M165.4 150.4h0M157.3 158.2h0M173.2 155.4h0M149.2 151.8h0M154.1 153.0h0M163.2 153.7h0M169.5 153.5h0M172.1 152.2h0M145.1 155.1h0M147.4 155.1h0M144.0 156.4h0M150.3 149.2h0M153.7 156.1h0M159.5 157.7h0M167.6 154.6h0M133.8 153.8h0M146.8 159.0h0M150.6 158.3h0M151.2 150.5h0M157.7 155.6h0M137.7 150.3h0M151.2 155.2h0M156.6 159.3h0M150.8 156.1h0M149.5 150.7h0M176.9 152.3h0M164.2 152.5h0M145.9 156.0h0M173.1 157.3h0M169.5 152.3h0M156.9 156.6h0M165.9 148.9h0M140.4 152.2h0M143.4 158.0h0M161.8 159.2h0M157.5 158.7h0M147.5 158.1h0M173.0 158.2h0M154.6 157.2h0M158.9 153.4h0M146.1 155.4h0M159.3 154.9h0M168.5 155.8h0M154.1 156.5h0M157.5 159.4h0M149.4 155.7h0M142.1 153.9h0M149.3 147.3h0M150.8 153.6h0M163.1 154.3h0M155.3 153.6h0M144.5 154.0h0M173.9 153.7h0M138.6 152.0h0M138.4 154.9h0M148.2 158.0h0M154.8 145.2h0M157.4 156.0h0M151.1 155.7h0M146.9 150.7h0M152.4 153.0h0M162.5 149.6h0M165.1 150.4h0M171.3 152.2h0M174.1 150.2h0M160.0 158.2h0M158.4 156.5h0M161.2 149.9h0M140.5 151.4h0M148.4 155.9h0M162.1 152.1h0M159.2 150.9h0M143.1 155.5h0M170.3 156.5h0M168.2 149.8h0M159.4 158.5h0M139.6 157.9h0M151.6 158.2h0M155.0 156.1h0M136.2 143.0h0M169.5 154.3h0M164.5 152.9h0M157.4 158.4h0M173.5 155.6h0M135.9 153.5h0M161.8 150.8h0M146.5 153.6h0M145.4 155.5h0M157.3 152.1h0M174.7 155.1h0M142.2 156.6h0M162.4 157.9h0M177.7 147.6h0M146.6 155.8h0M144.2 150.9h0M146.9 154.2h0M169.9 155.6h0M158.7 158.9h0M166.4 154.1h0M169.4 154.0h0M147.5 153.7h0M161.1 155.2h0M146.4 152.8h0M166.1 151.3h0M145.9 158.4h0M160.2 158.3h0M161.9 154.7h0M162.5 158.5h0M142.3 149.6h0M159.1 155.9h0M168.4 156.9h0M163.7 157.0h0M166.4 155.9h0M155.7 158.4h0M158.5 155.3h0M158.8 155.2h0M151.6 155.7h0M165.7 156.5h0M164.2 157.3h0M175.6 155.1h0M165.9 154.9h0M167.3 155.1h0M156.4 150.0h0M146.4 157.8h0M155.8 153.4h0M161.6 158.2h0M142.7 155.3h0M155.6 156.4h0M156.1 151.5h0M148.9 155.5h0M142.5 151.3h0M139.7 153.5h0M156.5 155.6h0M150.1 153.9h0M135.9 153.5h0M161.4 152.9h0M149.0 151.2h0M150.5 157.1h0M155.7 159.1h0M168.8 156.1h0M153.6 158.4h0M172.9 157.8h0M170.3 151.8h0M164.9 153.1h0M145.8 156.5h0M141.0 155.9h0M152.8 157.9h0M174.6 149.0h0M160.4 151.3h0M152.1 158.2h0M157.8 156.1h0M170.5 152.8h0M170.9 153.5h0M167.0 149.0h0M160.8 158.5h0M164.1 149.4h0M174.6 153.4h0M156.6 159.3h0M142.6 156.2h0M156.7 159.3h0M139.2 151.9h0M140.0 154.1h0M159.2 152.9h0M164.2 157.6h0M153.2 154.9h0M167.4 158.1h0M175.3 154.2h0M160.0 156.1h0M166.4 155.7h0M149.1 154.8h0M158.4 150.6h0M158.0 158.1h0M161.0 150.2h0M169.6 152.8h0M136.0 157.9h0M144.2 151.8h0M143.3 155.2h0M165.7 154.9h0M138.8 148.2h0M171.5 155.2h0M151.8 155.1h0M167.0 153.5h0M135.5 150.6h0M143.8 156.9h0M172.4 156.0h0M170.0 155.7h0M148.0 158.2h0M157.4 156.0h0M162.4 155.8h0M174.0 151.8h0M160.6 150.8h0M155.5 159.5h0M168.5 155.9h0M151.6 158.4h0M166.6 153.3h0M162.2 155.7h0M160.9 149.7h0M163.9 158.7h0M141.0 156.9h0M136.0 156.5h0M139.8 152.7h0M155.6 154.9h0M154.3 153.3h0M158.2 149.7h0M145.1 159.0h0M134.4 154.5h0M155.2 150.2h0M137.5 153.8h0M151.7 152.7h0M145.7 149.6h0M156.8 157.1h0M147.7 151.4h0M152.1 159.0h0M169.7 156.6h0M144.2 150.4h0M161.8 146.3h0M161.3 154.0h0M159.8 158.6h0M155.4 156.9h0M161.4 154.2h0M159.1 156.0h0M156.5 154.3h0M162.6 157.4h0M142.9 156.7h0M153.5 156.6h0M161.2 154.7h0M155.7 152.8h0M158.3 155.1h0M155.2 153.4h0M153.4 157.6h0M134.3 155.9h0M154.8 156.8h0M150.1 153.3h0M162.3 155.4h0M172.0 142.0h0M156.3 159.3h0M172.6 155.4h0M142.8 156.2h0M155.9 150.0h0M151.5 150.0h0M168.9 149.0h0M163.5 159.2h0M161.7 159.0h0M174.9 156.7h0M144.2 155.3h0M163.0 157.9h0M143.6 156.9h0M162.0 153.7h0M165.0 157.2h0M165.5 155.9h0M138.5 159.2h0M142.4 154.4h0M167.4 157.0h0M157.7 155.1h0M153.7 150.8h0M147.7 153.0h0M141.0 155.5h0M160.9 156.8h0M148.0 157.3h0M159.4 153.7h0M154.9 157.6h0M152.9 154.4h0M161.5 155.4h0M151.0 155.9h0M136.5 157.4h0M172.1 157.4h0M149.6 156.5h0M141.7 155.5h0M158.4 158.5h0M143.9 150.6h0M154.5 156.3h0M151.4 154.1h0M145.0 156.4h0M165.3 146.6h0M152.1 155.3h0M149.4 153.9h0M166.9 157.5h0M147.8 155.2h0M149.9 156.9h0M160.7 150.9h0M165.4 150.2h0M141.1 149.9h0M164.3 154.6h0M137.6 155.3h0M152.0 151.1h0M144.0 149.9h0M162.3 153.9h0M172.5 157.2h0M147.8 155.8h0M161.2 148.6h0M148.1 153.3h0M157.7 158.2h0M177.6 157.0h0M150.5 156.9h0M162.8 148.4h0M159.3 151.2h0M162.4 154.6h0M157.9 156.5h0M160.3 156.1h0M157.2 157.3h0M152.5 157.2h0M152.2 158.3h0M174.3 156.8h0M149.7 158.0h0M173.9 158.0h0M158.3 156.3h0M173.0 151.8h0M162.1 154.4h0M145.8 152.5h0M152.5 153.7h0M148.4 156.5h0M158.8 148.5h0M145.8 154.9h0M169.8 154.6h0M154.2 155.4h0M160.0 158.7h0M145.4 147.3h0M143.8 156.2h0M152.4 156.4h0M164.6 144.2h0M149.7 156.6h0M168.0 148.7h0M148.6 154.8h0M151.6 158.1h0M150.8 157.3h0M157.8 156.2h0M156.0 155.2h0M170.0 155.1h0M169.0 146.3h0M176.8 153.8h0M151.4 151.0h0M163.1 146.9h0M156.8 153.4h0M157.4 152.6h0M172.1 156.6h0M158.2 158.9h0M174.8 147.8h0M163.5 153.6h0M146.1 154.3h0M156.9 157.9h0M149.4 158.0h0M155.4 158.8h0M146.0 151.3h0M171.0 152.0h0M158.5 155.5h0M160.4 152.4h0M145.1 158.0h0M140.0 153.8h0M167.0 152.7h0M135.0 151.4h0M157.2 152.6h0M142.9 156.6h0M151.0 155.0h0M154.8 156.5h0M144.2 155.2h0M151.7 147.2h0M169.1 151.6h0M161.4 158.3h0M168.2 145.7h0M156.6 159.3h0M162.7 155.3h0M148.2 154.3h0M159.9 158.6h0M151.3 150.3h0M155.4 158.5h0M146.5 154.9h0M168.9 156.3h0M147.1 156.8h0M166.8 154.5h0M145.5 156.9h0M142.4 151.1h0M135.1 149.1h0M152.4 151.9h0M149.7 148.7h0M172.4 157.6h0M147.3 149.7h0M160.0 155.0h0M164.5 151.4h0M137.7 154.9h0M168.2 145.7h0M140.9 158.7h0M156.3 158.0h0M159.4 155.9h0M147.2 156.2h0M156.1 155.8h0M167.6 153.2h0M158.3 158.0h0M151.9 156.9h0M158.1 158.0h0M163.9 152.5h0M154.2 148.1h0M144.5 152.0h0M172.9 156.2h0M165.5 154.5h0M150.1 154.1h0M162.0 150.8h0M156.8 156.3h0M161.3 157.1h0M151.4 147.2h0M150.8 158.3h0M174.2 152.1h0M152.6 157.3h0M171.5 154.1h0M153.2 152.0h0M163.8 148.0h0M164.5 153.6h0M153.5 157.0h0M160.5 153.6h0M164.4 154.0h0M137.4 151.6h0M160.4 156.4h0M150.3 156.2h0M158.3 154.5h0M162.9 158.2h0M144.1 153.4h0M146.1 153.8h0M163.4 153.9h0M142.5 158.0h0M164.1 157.6h0M165.5 147.2h0M134.6 153.9h0M161.9 156.7h0M160.1 158.6h0M166.9 150.6h0M139.9 149.8h0M145.8 155.7h0M135.5 149.3h0M159.7 153.6h0M173.6 154.3h0M146.0 151.7h0M165.3 154.1h0M146.0 156.6h0M144.1 156.0h0M151.4 158.5h0M169.0 158.4h0M161.4 146.7h0M143.4 155.5h0M165.6 156.2h0M161.9 154.2h0M165.9 153.3h0M166.1 154.6h0M146.6 156.0h0M155.2 159.4h0M156.5 155.0h0M173.1 147.3h0M144.0 156.8h0M153.4 155.4h0M159.5 152.0h0M140.8 155.2h0M170.0 155.7h0M155.7 156.7h0M153.8 157.3h0M175.4 154.9h0M157.2 153.7h0M149.0 155.7h0M156.9 155.6h0M142.0 153.6h0M160.9 153.8h0M159.5 153.2h0M151.6 157.2h0M159.0 152.6h0M154.1 158.8h0M156.0 156.3h0M162.1 157.2h0M159.4 151.7h0M157.2 154.0h0M150.4 156.8h0M136.2 156.0h0M156.7 155.8h0M153.3 153.6h0M166.9 157.9h0M157.5 155.6h0M143.8 157.7h0M161.5 154.7h0M165.9 157.2h0M161.6 150.5h0M150.2 150.1h0M152.5 154.7h0M177.7 155.1h0M165.9 154.8h0M165.7 157.3h0M168.6 155.7h0M168.6 152.3h0M167.2 146.8h0M145.9 156.2h0M145.2 155.9h0M159.1 157.2h0M157.3 157.6h0M160.5 155.0h0M162.0 152.0h0M158.3 158.8h0M145.2 155.3h0M157.9 148.2h0M159.0 157.3h0M159.2 153.6h0M162.3 156.9h0M147.5 155.6h0M135.1 157.3h0M167.3 150.2h0M162.6 155.0h0M135.8 146.4h0M154.6 158.9h0M147.0 155.7h0M143.4 155.9h0M154.2 153.4h0M164.6 157.9h0M153.8 154.1h0M142.7 154.2h0M160.8 157.4h0M149.2 157.9h0M150.0 155.6h0M154.3 154.8h0M158.2 155.3h0M165.8 153.8h0M177.3 153.9h0M156.0 157.9h0M158.3 158.2h0M141.2 154.1h0M143.5 155.4h0M163.3 156.3h0M142.0 154.7h0M163.8 157.0h0M177.2 158.1h0M153.0 153.8h0M165.3 153.2h0M137.3 153.9h0M158.8 155.8h0M137.4 152.1h0M167.6 150.5h0M150.2 148.5h0M159.9 156.1h0M165.8 156.5h0M150.8 150.9h0M171.1 156.8h0M167.1 150.5h0M172.2 150.2h0M148.5 157.0h0M146.9 149.4h0M142.0 158.6h0M171.5 157.3h0M166.7 150.5h0M148.2 156.8h0M151.4 155.8h0M171.7 154.6h0M159.6 151.1h0M156.2 159.1h0M160.7 158.0h0M141.5 154.8h0M153.1 158.1h0M174.3 156.1h0M156.8 156.8h0M146.6 156.2h0M137.1 155.7h0M139.2 153.1h0M159.2 154.4h0M150.5 153.5h0M156.3 154.9h0M149.0 155.9h0M147.1 145.4h0M164.3 155.9h0M157.7 156.2h0M158.5 149.3h0M154.2 158.6h0M159.0 158.0h0M168.5 156.9h0M163.8 149.1h0M145.0 154.0h0M134.1 154.4h0M149.6 156.7h0M167.0 152.0h0M166.1 157.3h0M142.7 153.0h0M164.7 157.5h0M154.9 158.7h0M170.2 152.6h0M169.7 155.5h0M144.3 153.3h0M173.4 150.9h0M165.6 159.0h0M162.7 156.3h0M160.7 151.6h0M136.8 156.0h0M158.0 153.6h0M152.9 150.4h0M166.6 158.2h0M172.8 146.8h0M140.5 157.2h0M140.3 154.3h0M154.0 156.7h0M165.5 157.0h0M165.4 151.8h0M163.3 143.7h0M152.4 156.2h0M155.1 154.4h0M142.7 152.3h0M168.7 150.1h0M160.8 155.2h0M166.9 151.2h0M160.9 153.4h0M134.3 145.5h0M159.6 156.3h0M154.5 159.0h0M157.9 157.3h0M158.4 157.2h0M170.5 148.1h0M150.2 148.8h0M137.6 150.3h0M160.1 154.9h0M165.4 157.3h0M169.3 156.9h0M167.0 152.8h0M149.8 151.4h0M144.0 155.9h0M160.6 155.3h0M163.9 156.4h0M155.8 154.6h0M146.3 157.7h0M162.8 155.3h0M166.6 148.8h0M142.3 149.6h0M174.5 158.8h0M166.0 149.2h0M169.1 152.5h0M142.5 146.4h0M158.1 157.3h0M156.4 149.3h0M140.8 153.2h0M149.9 158.5h0M163.6 155.5h0M171.9 157.2h0M159.1 150.6h0M152.8 158.8h0M134.0 156.4h0M169.7 157.0h0M161.3 158.4h0M147.7 156.4h0M165.2 157.1h0M157.0 146.5h0M157.3 153.6h0M160.8 155.8h0M164.7 157.6h0M138.5 153.8h0M164.9 146.8h0M167.4 154.9h0M151.9 155.3h0M166.4 154.3h0M170.5 155.0h0M159.8 158.6h0M157.0 152.6h0M160.3 158.3h0M162.5 156.1h0M174.8 155.4h0M160.4 152.8h0M162.6 147.3h0M166.4 156.5h0M146.9 157.1h0M168.9 150.7h0M168.5 156.2h0M152.2 149.3h0M162.7 156.2h0M145.3 152.6h0M160.2 153.4h0M166.8 154.9h0M142.9 149.1h0M150.8 156.6h0M140.7 153.0h0M164.6 157.4h0M161.7 155.3h0M161.8 155.8h0M171.8 155.1h0M139.4 153.9h0M151.1 151.6h0M165.9 158.4h0M153.5 157.9h0M155.3 158.2h0M148.6 155.6h0M144.7 149.3h0M139.8 152.7h0M166.1 156.0h0M156.8 149.0h0M141.5 154.3h0M167.2 156.9h0M136.2 152.9h0M143.3 156.9h0M160.4 154.4h0M151.4 154.9h0M156.2 156.2h0M152.7 149.4h0M139.3 157.4h0M150.3 157.8h0M144.0 156.7h0M148.2 157.3h0M165.6 157.4h0M160.0 153.9h0M145.4 152.4h0M146.9 152.8h0M142.7 145.3h0M147.2 150.9h0M169.2 156.0h0M140.8 152.8h0M162.3 151.8h0M157.4 153.9h0M166.1 153.8h0M136.5 159.3h0M152.2 153.3h0M159.3 157.3h0M164.2 157.1h0M152.5 150.6h0M160.0 157.2h0M136.3 151.5h0M151.1 158.4h0M160.3 158.5h0M154.2 152.4h0M163.1 157.8h0M136.1 153.9h0M140.3 150.2h0M147.9 158.7h0M154.8 151.1h0M163.8 158.7h0M152.0 157.5h0M147.2 151.3h0M147.8 156.2h0M167.0 158.8h0M168.3 155.1h0M172.7 155.8h0M150.1 156.6h0M156.3 158.4h0M159.5 152.1h0M157.0 154.8h0M165.6 158.9h0M150.5 153.5h0M161.0 157.8h0M140.3 148.7h0M145.8 154.2h0M152.1 153.2h0M147.2 155.6h0M169.3 156.5h0M162.0 154.6h0M160.2 154.9h0M153.0 157.4h0M156.8 159.0h0M155.6 158.2h0M160.2 158.9h0M165.3 157.0h0M156.2 159.2h0M145.4 151.2h0M154.7 158.5h0M163.9 151.9h0M145.6 154.7h0M172.8 157.9h0M142.3 154.3h0M150.8 154.2h0M145.1 154.3h0M156.6 157.5h0M137.4 156.1h0M140.8 145.0h0M161.7 149.6h0M175.6 154.0h0M167.2 157.3h0M141.9 153.9h0M151.3 155.8h0M174.2 158.1h0M142.9 155.5h0M142.6 151.9h0M147.3 154.7h0M168.9 151.6h0M159.9 155.3h0M177.5 155.4h0M161.3 157.3h0M144.3 153.7h0M150.3 154.0h0M162.0 156.3h0M160.8 153.6h0M169.8 157.9h0M147.8 154.6h0M151.1 158.8h0M171.9 146.9h0M154.2 152.6h0M145.8 156.6h0M155.9 152.5h0M147.7 159.2h0M151.6 156.7h0M137.8 156.3h0M163.1 155.7h0M173.5 155.0h0M170.6 154.1h0M136.8 155.7h0M143.5 154.3h0M154.1 156.4h0M155.8 158.5h0M139.1 151.3h0M141.9 152.0h0M168.2 155.5h0M144.3 156.4h0M155.6 155.8h0M153.9 158.9h0M162.2 158.1h0M156.3 158.6h0M154.0 159.1h0M137.4 147.7h0M153.3 156.0h0M175.4 154.1h0M151.1 154.3h0M157.6 158.0h0M155.9 157.8h0M157.5 158.0h0M162.3 155.0h0M160.7 157.1h0M177.3 154.4h0M143.7 153.9h0M173.0 151.9h0M153.2 155.7h0M153.3 159.3h0M165.1 158.0h0M168.2 157.3h0M150.0 156.2h0M168.2 154.9h0M149.3 155.6h0M161.5 158.3h0M154.9 156.6h0M141.9 158.1h0M146.4 158.2h0M133.7 157.3h0M158.5 155.0h0M173.6 152.6h0M151.7 156.0h0M165.3 157.0h0M150.5 155.7h0M147.9 149.8h0M139.6 150.6h0M162.2 157.8h0M163.0 155.9h0M155.4 154.1h0M144.7 152.4h0M146.6 153.6h0M164.4 154.3h0M156.5 155.4h0M153.1 152.4h0M161.0 155.2h0M151.4 159.4h0M157.4 159.6h0M152.7 153.5h0M168.6 154.0h0M176.7 152.8h0M166.9 147.0h0M165.0 156.3h0M159.8 149.7h0M168.7 153.4h0M167.2 157.7h0M165.5 155.1h0M171.3 151.0h0M149.6 153.7h0M159.5 155.2h0M156.8 157.1h0M139.3 154.1h0M156.9 149.0h0M152.5 157.6h0M165.3 158.4h0M159.7 159.3h0M157.0 157.4h0M161.3 157.0h0M143.3 153.5h0M150.4 155.7h0M155.8 157.5h0M155.9 159.3h0M161.0 158.6h0M159.2 154.7h0M148.6 150.8h0M170.6 151.5h0M146.3 156.3h0M160.6 158.8h0M162.6 153.8h0M166.3 157.0h0M150.1 158.4h0M153.1 154.8h0M168.3 153.6h0M149.4 153.6h0M158.3 158.5h0M161.7 156.1h0M164.6 154.3h0M165.2 149.8h0M161.2 158.5h0M161.6 156.6h0M155.6 153.4h0M156.4 154.7h0M174.1 151.7h0M148.6 145.4h0M162.2 158.7h0M145.1 158.6h0M152.8 145.6h0M139.0 152.3h0M162.2 150.8h0M156.3 153.7h0M153.0 148.7h0M157.1 154.7h0M162.7 156.5h0M144.1 155.4h0M155.2 154.4h0M166.2 155.5h0M152.5 156.4h0M156.2 157.7h0M145.5 152.1h0M157.6 155.3h0M154.4 159.1h0M164.4 153.2h0M170.2 156.5h0M172.6 153.7h0M150.3 152.8h0M154.5 158.9h0M143.5 148.8h0M150.8 155.9h0M165.2 155.6h0M155.1 153.9h0M146.9 155.0h0M151.0 157.3h0M164.9 156.9h0M162.3 156.7h0M154.2 156.7h0M138.1 151.5h0M158.0 152.5h0M153.2 155.6h0M152.9 158.6h0M168.0 152.1h0M166.7 156.9h0M165.2 151.0h0M152.2 158.8h0M177.5 145.8h0M169.2 156.9h0M171.1 155.4h0M146.6 156.0h0M166.0 156.1h0M165.8 149.5h0M152.9 152.8h0M154.6 156.3h0M153.8 156.7h0M177.7 147.7h0M140.3 145.7h0M163.5 155.5h0M142.0 155.2h0M157.1 154.6h0M165.8 154.2h0M148.7 157.8h0M155.0 154.6h0M153.4 154.8h0M137.8 153.1h0M155.4 156.6h0M140.2 150.8h0M161.8 151.9h0M150.1 158.6h0M163.2 151.3h0M160.2 157.8h0M153.1 157.0h0M149.4 157.8h0M154.9 153.3h0M146.4 155.9h0M167.5 152.2h0M151.1 158.0h0M157.4 157.5h0M167.5 155.0h0M168.1 157.5h0M148.9 149.7h0M145.0 156.1h0M164.3 157.6h0M145.9 156.1h0M155.9 156.5h0M168.2 146.1h0M156.3 155.2h0M170.6 152.7h0M167.5 154.7h0M142.7 152.8h0M146.8 153.1h0M154.5 156.1h0M150.3 153.5h0M171.6 153.6h0M162.5 150.2h0M175.2 151.8h0M166.4 157.3h0M153.5 156.3h0M157.6 158.4h0M175.6 156.1h0M148.9 158.0h0M173.2 146.6h0M158.0 159.4h0M152.0 157.0h0M150.5 157.8h0M160.5 157.7h0M171.3 156.8h0M145.7 153.7h0M168.7 152.9h0M165.8 157.8h0M137.9 151.5h0M157.9 157.3h0M149.9 153.9h0M161.0 158.7h0M149.2 158.4h0M136.5 153.0h0M147.2 156.3h0M151.8 154.4h0M162.1 156.4h0M151.0 158.3h0M149.7 155.1h0M158.5 158.2h0M160.7 156.5h0M159.9 156.8h0M147.3 156.4h0M148.1 157.1h0M150.1 157.7h0M165.5 156.1h0M145.2 155.9h0M133.8 150.4h0M172.4 152.5h0M145.3 155.6h0M167.4 143.0h0M137.6 151.3h0M140.7 149.6h0M142.0 148.8h0M161.0 148.2h0M158.6 153.5h0M156.6 157.1h0M165.1 154.7h0M140.6 153.9h0M157.3 159.5h0M137.4 156.7h0M156.6 159.5h0M163.5 147.2h0M155.2 156.4h0M156.2 156.2h0M159.8 158.4h0M140.5 154.4h0M153.8 156.4h0M155.5 155.3h0M159.7 152.3h0M134.4 154.6h0M160.4 151.0h0M146.4 157.4h0M154.0 155.1h0M144.0 142.0h0M135.8 153.7h0M175.3 148.5h0M148.3 156.0h0M150.2 154.4h0M162.6 150.4h0M161.5 157.8h0M155.5 157.9h0M157.6 158.9h0M150.2 152.3h0M160.5 156.1h0M157.5 154.6h0M175.3 156.7h0M151.9 151.0h0M159.9 158.0h0M153.0 155.9h0M159.1 153.9h0M161.4 157.6h0M176.8 154.8h0M159.4 159.6h0M165.0 149.5h0M142.6 149.2h0M139.2 151.2h0M146.1 157.5h0M169.4 154.0h0M146.2 152.7h0M148.1 154.0h0M166.8 156.3h0M165.2 158.1h0M161.5 159.2h0M153.3 159.0h0M140.7 152.6h0M152.3 153.7h0M173.1 153.4h0M157.8 159.0h0M152.6 159.2h0M166.6 158.6h0M160.7 156.2h0M149.3 155.5h0M159.2 146.8h0M161.9 157.1h0M155.0 155.9h0M171.4 156.8h0M168.3 149.8h0M133.7 150.0h0M169.3 157.1h0M165.1 149.6h0M162.3 157.9h0M159.6 156.9h0M143.2 154.5h0M147.5 145.3h0M150.2 153.5h0M143.4 156.7h0M160.4 153.1h0M146.3 157.2h0M161.7 156.2h0M141.3 152.0h0M158.3 151.2h0M149.5 154.1h0M159.5 158.1h0M161.4 158.6h0M145.6 156.3h0M157.9 158.5h0M152.7 153.2h0M164.6 155.0h0M159.5 153.5h0M159.9 158.4h0M150.3 156.2h0M143.4 150.0h0M170.6 150.9h0M170.5 153.4h0M168.4 157.2h0M160.5 150.0h0M156.5 158.7h0M162.0 156.1h0M168.1 150.3h0M146.7 156.3h0M161.1 153.0h0M169.5 153.1h0M176.6 148.1h0M149.7 158.7h0M169.8 156.3h0M165.9 158.3h0M167.8 155.6h0M153.2 157.4h0M139.5 151.6h0M143.0 150.4h0M154.3 157.8h0M155.7 158.4h0M166.9 156.6h0M154.1 156.3h0M161.9 151.8h0M137.9 155.8h0M161.5 153.7h0M145.6 152.1h0M143.9 156.3h0M150.6 157.5h0M145.7 154.2h0M161.1 156.4h0M169.9 153.6h0M169.3 154.7h0M169.1 153.2h0M157.7 158.1h0M170.2 156.5h0M167.4 152.9h0M171.4 154.3h0M172.1 154.4h0M164.9 159.4h0M142.9 157.6h0M148.5 150.6h0M149.4 156.4h0M143.2 152.5h0M166.6 151.6h0M139.6 152.7h0M163.4 155.3h0M154.0 159.3h0M162.1 152.8h0M160.5 157.8h0M154.0 151.1h0M166.1 158.6h0M164.7 154.1h0M147.7 152.8h0M134.0 158.5h0M161.3 156.4h0M154.0 156.1h0M147.1 155.3h0M160.4 155.3h0M160.3 155.8h0M166.5 154.3h0M151.0 154.3h0M160.4 156.4h0M154.9 158.7h0M150.2 156.9h0M165.2 155.8h0M151.3 151.2h0M140.2 154.6h0M135.1 153.8h0M138.4 154.1h0M167.1 156.3h0M146.3 157.3h0M155.9 158.2h0M153.1 153.4h0M162.2 151.2h0M171.0 149.5h0M153.3 154.4h0M166.6 151.2h0M155.9 150.6h0M160.9 153.9h0M154.4 154.9h0M162.2 157.1h0M157.2 158.9h0M152.5 158.2h0M154.7 154.7h0M165.0 155.0h0M140.7 158.9h0M172.5 155.4h0M160.9 157.5h0M156.6 157.8h0M164.3 155.6h0M144.9 154.6h0M150.8 157.2h0M161.8 149.2h0M144.6 156.5h0M149.8 157.8h0M164.5 156.9h0M168.4 155.6h0M166.0 156.9h0M134.0 148.6h0M160.8 156.8h0M143.2 156.0h0M170.7 153.5h0M152.9 154.5h0M142.3 146.0h0M151.6 151.8h0M163.6 159.2h0M161.7 153.8h0M168.9 154.2h0M155.7 159.0h0M166.8 158.3h0M153.1 154.7h0M141.4 153.0h0M167.9 156.5h0M160.9 154.4h0M161.2 156.2h0M158.2 150.6h0M162.4 155.4h0M145.2 159.3h0M144.6 152.8h0M177.0 157.2h0M161.7 151.0h0M159.1 154.1h0M155.9 158.4h0M158.1 158.9h0M160.7 157.7h0M156.6 154.6h0M155.4 153.9h0M148.5 157.9h0M162.1 154.6h0M167.8 157.8h0M145.5 147.4h0M169.9 154.9h0M142.9 153.4h0M156.7 154.8h0M172.2 155.8h0M151.5 149.8h0M139.4 154.7h0M144.1 152.6h0M165.0 154.4h0M168.9 148.3h0M153.8 153.2h0M172.3 152.7h0M139.4 157.5h0M166.5 149.4h0M151.5 156.4h0M140.0 150.4h0M167.5 146.5h0M168.9 151.8h0M167.5 158.3h0M162.0 157.3h0M167.8 155.4h0M158.2 151.2h0M160.9 156.1h0M145.1 156.0h0M165.8 154.1h0M146.9 158.7h0M148.8 151.8h0M145.7 157.9h0M161.5 155.9h0M148.3 154.2h0M166.8 156.7h0M147.5 159.0h0M138.4 157.2h0M146.3 152.7h0M144.5 151.9h0M167.7 153.4h0M169.9 154.1h0M160.2 153.4h0M155.0 155.7h0M177.8 155.2h0M174.1 147.7h0M150.0 155.8h0M167.6 157.1h0M170.1 155.4h0M140.1 156.5h0M173.4 149.4h0M142.4 155.7h0M162.5 150.8h0M162.0 147.9h0M156.1 153.5h0M156.0 156.9h0M151.0 158.3h0M176.9 146.3h0M157.3 152.2h0M166.6 151.5h0M148.2 146.8h0M156.9 157.2h0M168.4 150.0h0M161.4 153.4h0M150.9 153.7h0M156.5 157.9h0M140.4 156.5h0M161.4 151.1h0M166.7 154.0h0M158.3 154.7h0M151.4 154.6h0M161.6 151.9h0M154.0 159.0h0M153.9 154.6h0M142.8 151.2h0M148.1 153.6h0M145.3 151.7h0M152.6 155.3h0M158.0 157.2h0M136.1 158.4h0M147.9 152.5h0M171.3 151.0h0M151.7 150.0h0M151.6 154.5h0M171.0 149.2h0M157.8 152.1h0M169.5 155.6h0M149.1 148.7h0M149.7 157.3h0M158.0 156.3h0M155.1 155.3h0M135.7 150.9h0M156.3 151.9h0M164.8 154.3h0M154.3 158.3h0M163.0 158.0h0M150.1 148.3h0M172.3 154.5h0M142.7 155.5h0M160.2 156.8h0M135.7 153.4h0M157.2 157.7h0M171.1 158.5h0M141.8 152.1h0M156.2 154.6h0M142.3 150.4h0M136.7 152.8h0M142.3 155.9h0M152.0 157.0h0M157.7 157.5h0M155.6 153.9h0M140.9 152.3h0M165.3 159.0h0M152.7 157.7h0M149.3 153.1h0M142.0 155.4h0M166.2 154.6h0M164.3 154.9h0M143.5 159.0h0M168.0 153.6h0M148.3 156.9h0M164.3 150.2h0M164.2 157.1h0M154.6 152.1h0M154.2 157.9h0M178.0 154.1h0M165.7 153.9h0M147.3 154.6h0M153.2 158.8h0M165.6 153.4h0M165.8 142.1h0M155.7 155.7h0M165.2 153.5h0M144.7 153.6h0M158.1 152.3h0M141.5 154.9h0M165.1 157.8h0M159.9 153.8h0M157.9 159.2h0M151.7 158.1h0M150.2 154.4h0M162.9 156.3h0M146.8 149.5h0M142.1 157.2h0M159.4 157.6h0M135.5 154.1h0M138.7 156.2h0M177.4 158.3h0M151.8 156.3h0M176.5 154.1h0M158.2 146.0h0M140.4 157.1h0M151.7 152.0h0M151.8 152.4h0M169.2 151.2h0M160.7 155.9h0M151.8 149.5h0M157.9 155.4h0M159.8 152.5h0M142.1 152.3h0M146.6 154.4h0M138.4 149.4h0M154.4 157.5h0M172.0 152.1h0M151.3 155.7h0M149.9 152.4h0M156.2 154.6h0M147.7 154.1h0M153.8 150.9h0M168.8 153.8h0M168.9 157.6h0M140.1 151.4h0M169.8 155.2h0M154.0 157.1h0M165.3 155.3h0M159.9 155.1h0M160.0 153.0h0M157.7 158.6h0M136.6 155.1h0M161.7 153.4h0M154.0 157.3h0M156.5 157.8h0M145.5 154.7h0M167.9 154.4h0M148.4 157.5h0M146.2 153.7h0M159.7 150.8h0M153.5 156.9h0M152.0 155.8h0M153.6 156.1h0M141.0 154.9h0M176.5 154.7h0M165.0 155.6h0M160.7 153.9h0M153.1 156.3h0M152.4 156.8h0M163.9 156.5h0M171.1 157.4h0M158.3 154.5h0M140.1 157.7h0M160.2 156.4h0M158.2 149.4h0M154.1 152.2h0M151.1 158.5h0M136.4 150.7h0M168.7 155.2h0M136.2 146.5h0M160.6 157.6h0M170.8 149.6h0M155.6 155.4h0M165.9 154.0h0M177.0 155.8h0M171.6 149.3h0M151.8 156.3h0M167.8 150.6h0M152.4 157.3h0M145.6 156.1h0M141.5 156.0h0M164.4 152.5h0M163.2 155.6h0M139.6 156.4h0M159.7 152.1h0M151.4 154.5h0M153.6 150.8h0M164.9 155.5h0M148.7 155.0h0M159.4 158.5h0M167.0 156.9h0M154.2 157.7h0M169.0 148.0h0M148.9 158.1h0M144.8 155.0h0M156.9 157.7h0M173.9 152.7h0M162.4 147.2h0M149.0 156.5h0M151.3 147.6h0M145.5 150.4h0M151.8 156.3h0M160.6 150.0h0M177.5 152.9h0M163.1 156.1h0M169.2 149.0h0M162.5 150.3h0M166.9 156.1h0M157.0 156.5h0M169.9 154.3h0M156.4 153.7h0M171.8 151.8h0M165.9 155.9h0M149.3 157.7h0M160.3 157.9h0M168.7 156.7h0M156.8 151.5h0M166.3 158.0h0M151.4 156.0h0M149.5 157.3h0M167.7 156.7h0M154.3 155.6h0M157.5 159.2h0M167.9 154.3h0M140.3 158.1h0M157.9 155.4h0M160.7 158.3h0M161.8 157.9h0M162.1 152.6h0M160.4 156.0h0M167.2 157.6h0M153.8 155.7h0M154.8 158.4h0M156.2 152.9h0M160.8 150.7h0M164.9 157.9h0M146.2 154.8h0M171.8 152.7h0M163.9 159.0h0M168.2 154.6h0M143.4 152.6h0M161.0 155.2h0M140.5 158.1h0M154.8 157.1h0M145.0 157.2h0M142.3 157.4h0M151.5 152.8h0M136.1 154.4h0M142.9 153.3h0M145.1 149.8h0M152.4 158.6h0M141.4 148.7h0M150.0 152.7h0M159.4 149.4h0M166.4 152.7h0M143.7 151.8h0M167.8 157.5h0M142.0 158.8h0M151.8 154.1h0M155.5 157.6h0M175.6 151.4h0M147.0 152.2h0M175.0 147.4h0M170.8 155.1h0M169.8 151.1h0M152.8 154.7h0M159.2 157.1h0M152.6 158.4h0M144.8 157.7h0M169.2 147.6h0M159.1 156.9h0M164.6 155.1h0M152.0 157.3h0M152.1 155.6h0M141.2 155.3h0M138.6 154.8h0M144.6 154.4h0M150.1 154.4h0M139.3 150.7h0M170.5 156.4h0M177.1 156.9h0M175.5 147.4h0M144.8 152.5h0M159.5 149.6h0M167.4 152.0h0M164.8 154.5h0M162.5 159.0h0M139.8 154.9h0M171.5 159.1h0M144.3 158.3h0M170.8 155.5h0M161.7 158.0h0M162.9 151.8h0M152.9 158.9h0M151.5 157.7h0M146.4 152.8h0M145.8 158.6h0M169.0 153.5h0M138.3 155.1h0M152.1 154.9h0M161.8 154.4h0M150.9 151.8h0M152.8 154.0h0M153.2 155.6h0M159.9 148.2h0M142.3 153.2h0M155.8 156.5h0M164.0 154.6h0M177.9 155.8h0M154.5 157.5h0M154.0 156.3h0M171.5 159.0h0M175.5 153.8h0M135.8 147.3h0M159.4 159.1h0M171.2 153.3h0M174.6 146.6h0M156.4 158.1h0M165.5 155.7h0M154.5 152.8h0M146.5 154.1h0M164.1 154.4h0M167.7 151.6h0M146.7 157.7h0M162.2 157.7h0M164.1 158.0h0M173.6 155.3h0M161.4 158.2h0M143.1 155.9h0M151.3 158.1h0M143.6 150.1h0M139.8 154.7h0M158.4 154.6h0M162.8 157.6h0M157.7 155.6h0M151.9 158.1h0M170.5 152.7h0M166.3 154.8h0M135.7 153.2h0M157.0 155.3h0M143.6 154.3h0M161.4 154.3h0M144.1 154.9h0M176.8 153.9h0M161.5 153.4h0M166.9 156.1h0M154.7 157.5h0M149.2 150.4h0M156.6 157.2h0M162.0 155.0h0M161.5 157.3h0M139.9 148.5h0M155.9 156.8h0M157.5 156.9h0M156.3 154.1h0M173.9 153.4h0M164.5 152.4h0M151.1 155.6h0M161.1 154.9h0M155.8 158.0h0M169.6 155.4h0M163.7 156.0h0M152.2 155.6h0M162.0 157.8h0M137.4 155.5h0M154.1 158.4h0M176.1 153.0h0M152.2 153.4h0M146.9 155.0h0M159.9 155.7h0M144.6 155.4h0M155.4 143.0h0M162.6 156.6h0M141.1 155.8h0M162.7 157.1h0M145.9 146.6h0M138.2 152.2h0M155.9 159.0h0M142.9 155.8h0M150.3 158.6h0M135.7 148.6h0M155.7 156.9h0M154.0 159.0h0M148.6 153.4h0M149.0 155.6h0M149.5 157.9h0M139.3 156.5h0M140.2 157.5h0M164.7 151.5h0M141.2 154.3h0M154.4 159.1h0M150.1 153.1h0M170.8 155.7h0M140.6 156.1h0M138.9 154.3h0M164.6 157.0h0M168.6 152.3h0M143.3 150.5h0M157.8 156.7h0M159.6 149.3h0M164.5 152.3h0M155.0 149.6h0M166.3 153.0h0M150.4 157.2h0M159.0 155.0h0M144.1 150.6h0M171.2 155.1h0M155.7 152.7h0M166.3 153.1h0M166.6 154.4h0M156.8 152.4h0M174.4 153.3h0M156.6 155.5h0M162.5 153.3h0M145.4 154.0h0M164.4 154.5h0M150.1 152.3h0M157.0 154.6h0M151.4 156.4h0M146.1 156.7h0M171.5 159.4h0M159.9 152.1h0M154.7 155.3h0M152.2 156.5h0M137.7 151.3h0M149.0 152.2h0M143.6 157.1h0M146.1 158.8h0M147.0 154.1h0M177.1 153.8h0M149.9 156.2h0M156.9 156.0h0M174.4 158.0h0M160.7 153.8h0M144.7 151.6h0M158.0 154.7h0M138.7 154.9h0M154.1 157.3h0M154.4 158.9h0M175.4 151.4h0M154.3 157.5h0M157.7 159.0h0M145.3 154.3h0M142.3 151.4h0M150.3 157.2h0M158.9 158.2h0M167.6 155.8h0M145.9 157.1h0M163.5 158.3h0M164.3 155.7h0M142.1 152.7h0M172.6 152.8h0M156.5 156.6h0M164.2 153.4h0M160.2 155.9h0M158.8 157.5h0M158.6 153.1h0M171.8 155.2h0M154.9 154.2h0M144.1 155.0h0M158.7 152.1h0M163.3 155.5h0M172.5 150.6h0M163.4 150.2h0M136.8 149.6h0M162.7 152.8h0M156.0 156.4h0M141.7 150.8h0M159.1 155.5h0M160.1 156.9h0M160.4 154.7h0M170.3 154.3h0M174.5 150.1h0M143.3 150.7h0M156.6 152.8h0M154.2 150.9h0M160.6 150.1h0M144.8 156.8h0M150.6 156.9h0M166.7 152.4h0M165.0 152.5h0M150.5 156.6h0M173.4 153.4h0M172.9 151.3h0M151.3 155.5h0M162.0 154.0h0M150.5 157.3h0M149.8 153.7h0M157.3 156.8h0M160.9 149.8h0M160.1 158.0h0M141.1 149.6h0M141.3 152.7h0M171.5 155.5h0M138.8 157.7h0M168.1 150.2h0M133.9 154.0h0M146.5 154.3h0M159.2 157.3h0M159.3 153.4h0M146.5 154.8h0M161.6 159.1h0M165.4 153.0h0M162.6 157.6h0M168.6 156.2h0M136.3 149.9h0M150.1 154.4h0M152.1 158.3h0M154.4 156.1h0M165.9 154.6h0M169.5 155.8h0M139.6 156.7h0M142.1 153.8h0M165.5 154.9h0M155.0 157.5h0M138.7 153.4h0M156.9 156.3h0M169.4 157.4h0M155.2 151.2h0M155.0 153.5h0M170.4 151.5h0M154.6 158.4h0M158.2 159.5h0M150.0 150.4h0M161.9 146.2h0M134.4 157.4h0M149.9 155.7h0M174.9 155.3h0M149.7 158.2h0M147.6 155.5h0M156.3 154.1h0M150.6 155.3h0M156.8 159.1h0M146.2 157.3h0M154.4 153.9h0M156.7 159.4h0M167.7 153.1h0M139.9 152.8h0M172.5 153.0h0M160.8 156.0h0M159.6 151.3h0M168.9 156.9h0M142.5 150.2h0M152.8 156.6h0M157.5 153.9h0M141.9 155.9h0M152.3 154.5h0M143.5 154.7h0M166.9 158.0h0M165.2 150.0h0M147.3 159.2h0M148.7 155.9h0M150.9 158.2h0M150.0 154.7h0M164.9 155.5h0M142.8 143.5h0M147.6 156.2h0M152.4 158.1h0M151.2 154.5h0M168.7 150.8h0M171.1 157.9h0M158.7 152.9h0M165.3 149.9h0M162.2 156.2h0M146.7 157.9h0M150.1 158.9h0M171.1 156.2h0M168.8 154.3h0M152.0 155.2h0M144.3 155.5h0M156.1 154.6h0M160.3 154.8h0M156.6 158.2h0M141.7 154.1h0M166.6 156.9h0M153.6 155.4h0M149.4 156.7h0M155.7 155.7h0M151.2 157.6h0M160.6 157.9h0M172.0 157.2h0M152.1 155.0h0M142.9 149.6h0M166.4 157.4h0M157.0 157.7h0M155.8 149.1h0M172.4 156.7h0M170.7 149.3h0M163.5 149.3h0M138.3 151.2h0M172.2 147.8h0M136.7 148.0h0M151.1 156.5h0M164.6 153.1h0M170.7 150.5h0M162.4 157.5h0M142.5 149.5h0M165.1 150.9h0M147.3 155.3h0M142.6 149.2h0M162.0 156.6h0M156.4 159.1h0M151.9 155.3h0M169.0 142.9h0M160.5 155.8h0M156.5 157.2h0M171.6 154.9h0M144.9 153.7h0M150.1 155.4h0M163.6 153.8h0M155.2 159.3h0M150.1 152.2h0M150.9 148.0h0M167.7 152.6h0M169.6 157.6h0M149.9 151.8h0M168.9 150.1h0M156.9 158.4h0M160.3 154.1h0M142.8 149.6h0M143.6 153.5h0M154.9 157.5h0M136.5 147.9h0M143.9 152.2h0M157.5 153.5h0M168.5 156.6h0M167.6 158.3h0M175.9 153.0h0M155.2 155.0h0M151.1 151.3h0M173.9 153.9h0M161.3 158.8h0M159.5 159.1h0M155.9 157.5h0M160.7 153.9h0M166.3 158.2h0M163.5 150.3h0" stroke="#262626" stroke-width="1.15" stroke-linecap="round" fill="none" opacity="0.88"/>
<path d="M116.3 151.7h0M132.9 142.9h0M119.6 148.4h0M129.9 144.6h0M130.4 146.6h0M131.1 151.9h0M132.2 152.1h0M104.1 153.7h0M127.5 152.7h0M124.6 147.3h0M128.3 153.6h0M122.0 147.4h0M129.6 154.1h0M131.3 149.0h0M99.2 155.7h0M111.6 150.7h0M121.8 154.2h0M126.2 150.5h0M109.8 147.1h0M92.6 149.3h0M122.9 153.1h0M109.9 154.8h0M108.0 147.3h0M125.8 149.3h0M132.5 150.0h0M123.0 147.8h0M130.3 149.8h0M133.0 145.2h0M91.1 147.7h0M128.1 153.6h0M129.3 150.5h0M97.0 148.9h0M122.7 146.8h0M114.1 146.2h0M129.3 146.4h0M127.0 144.3h0M132.9 149.3h0M122.5 142.5h0M130.5 151.7h0M110.3 147.5h0M130.8 147.6h0M118.1 151.2h0M121.3 152.9h0M133.4 149.5h0M129.5 148.2h0M125.7 147.6h0M101.8 155.8h0M133.0 152.8h0M102.1 149.4h0M123.9 145.8h0M124.6 144.4h0M119.4 146.5h0M124.7 150.2h0M124.0 152.2h0M133.5 152.4h0M125.4 153.8h0M116.8 154.8h0M123.4 151.6h0M133.4 147.5h0M132.3 148.3h0M133.1 148.3h0M119.9 147.8h0M113.2 154.2h0M121.8 152.3h0M120.7 149.3h0M123.5 142.8h0M123.1 150.0h0M106.6 149.7h0M132.9 150.0h0M112.3 150.0h0M99.6 151.2h0M129.6 148.0h0M113.9 149.9h0M133.4 150.4h0M126.6 147.2h0M124.5 149.3h0M128.1 148.1h0M116.5 148.9h0M124.7 147.5h0M129.7 148.7h0M125.4 152.3h0M114.6 150.1h0M120.9 149.7h0M102.3 148.9h0M116.2 148.9h0M128.8 150.1h0M100.5 150.9h0M104.2 153.9h0M115.8 150.3h0M116.7 149.0h0M119.9 152.4h0M113.1 151.6h0M112.0 151.6h0M126.2 147.5h0M131.7 148.8h0M130.2 152.1h0M112.8 143.0h0M133.4 149.4h0M132.8 152.0h0M130.7 151.0h0M133.6 150.2h0M129.0 149.6h0M209.1 155.5h0M190.3 152.3h0M190.0 151.6h0M179.5 150.8h0M186.0 151.4h0M188.4 149.4h0M179.5 152.5h0M178.7 151.3h0M189.6 151.1h0M178.9 147.5h0M184.6 148.8h0M178.9 148.4h0M179.0 149.7h0M189.0 153.3h0M183.8 147.5h0M219.7 153.4h0M193.2 152.0h0M178.6 144.5h0M198.8 150.7h0M179.7 146.7h0M189.3 149.9h0M183.7 152.0h0M185.2 152.1h0M201.3 154.1h0M195.9 149.9h0M182.6 153.0h0M189.9 154.3h0M186.0 143.4h0M178.6 149.9h0M201.7 146.7h0M197.5 150.0h0M203.7 149.5h0M217.9 150.4h0M217.4 150.7h0M205.1 148.5h0M191.0 145.9h0M197.3 154.7h0M182.9 145.2h0M182.5 146.1h0M190.1 145.0h0M187.9 145.0h0M189.8 153.2h0M193.8 146.2h0M204.4 155.1h0M182.7 144.3h0M198.7 153.6h0M191.9 154.5h0M194.1 147.9h0M200.9 153.1h0M183.3 152.2h0M178.7 153.5h0M188.8 149.8h0M190.3 152.6h0M204.0 150.0h0M180.0 149.4h0M181.3 145.5h0M184.1 146.4h0M190.3 152.7h0M207.0 150.5h0M187.0 152.0h0M192.8 152.5h0M191.5 147.4h0M183.9 149.0h0M190.5 149.6h0M210.7 154.6h0M179.8 142.8h0M195.7 149.4h0M180.6 149.0h0M193.1 149.5h0M196.4 147.0h0M192.6 146.5h0M211.7 145.7h0M201.3 150.0h0M210.8 150.5h0M189.9 142.8h0M183.5 149.9h0M178.1 152.8h0M194.0 149.7h0M191.2 146.5h0M198.2 153.0h0M186.2 149.4h0M179.1 151.3h0M178.8 148.9h0M193.0 154.0h0M183.7 147.7h0" stroke="#18a528" stroke-width="1.15" stroke-linecap="round" fill="none" opacity="0.95"/>
<path d="M157.0 139.3h0M157.1 141.1h0M160.4 137.9h0M166.5 106.3h0M157.6 138.1h0M160.3 140.8h0M155.2 141.2h0M156.8 125.0h0M152.4 132.2h0M162.6 137.1h0M150.8 139.4h0M160.8 139.8h0M149.8 138.9h0M150.8 140.1h0M155.0 131.9h0M163.0 137.6h0M159.6 140.8h0M160.1 140.5h0M150.3 132.2h0M159.3 132.7h0M157.0 137.9h0M156.6 138.4h0M153.8 141.2h0M152.3 134.7h0M162.1 139.7h0M162.3 134.0h0M147.9 124.0h0M156.0 122.2h0M148.5 134.0h0M154.7 138.7h0M155.8 123.8h0M154.3 141.2h0M160.1 137.7h0M155.9 140.7h0M151.9 126.0h0M155.8 139.9h0M161.2 139.0h0M155.7 141.2h0M157.8 136.4h0M157.2 128.9h0M168.4 134.3h0M148.7 139.2h0M158.9 133.9h0M152.7 140.6h0M150.0 141.4h0M157.0 135.5h0M156.6 132.6h0M156.0 131.7h0M157.0 134.3h0M160.2 115.5h0M158.0 141.2h0M164.9 133.9h0M152.1 131.3h0M165.7 139.1h0M152.0 139.3h0M163.0 138.3h0M152.1 138.3h0M159.2 135.6h0M149.4 135.6h0M161.8 138.3h0M151.4 136.7h0M163.9 141.5h0M153.5 133.0h0M155.0 141.4h0M155.9 140.8h0M158.3 136.0h0M157.8 137.9h0M157.4 136.1h0M151.1 127.7h0M154.3 121.3h0M155.4 139.9h0M157.3 137.7h0M158.2 134.4h0M171.3 138.0h0M153.0 141.1h0M159.0 134.3h0M156.4 140.1h0M160.2 132.2h0M149.4 141.2h0M157.9 136.3h0M151.5 137.5h0M160.3 140.3h0M167.7 138.4h0M155.0 139.4h0M153.4 137.4h0M159.2 137.5h0M147.5 141.3h0M166.4 137.1h0M165.6 131.1h0M158.7 139.2h0M158.0 132.4h0M154.6 111.2h0M158.5 128.3h0M159.3 134.6h0M156.9 123.3h0M149.0 138.2h0M152.9 137.9h0M152.8 137.2h0M152.6 127.7h0M151.5 127.4h0M155.5 138.7h0M157.1 138.7h0M154.8 139.2h0M158.0 130.6h0M159.1 127.4h0M163.1 138.3h0M156.3 132.2h0M158.2 131.5h0M157.3 125.7h0M154.7 140.6h0M159.1 136.0h0M152.1 136.9h0M160.0 133.7h0M153.8 136.2h0M145.2 132.6h0M160.2 130.0h0M158.9 141.1h0M157.7 124.9h0M161.6 141.3h0M158.9 129.3h0M160.5 133.0h0M158.2 133.0h0M162.7 122.2h0M160.2 128.4h0M145.0 136.1h0M160.5 119.6h0M152.0 135.4h0M153.3 124.9h0M149.9 136.9h0M157.0 138.9h0M148.7 141.2h0M167.6 131.9h0M159.9 136.5h0M163.7 137.6h0M165.7 140.7h0M145.8 139.6h0M155.4 127.0h0M160.0 140.0h0M159.4 140.9h0M155.9 137.0h0M153.9 138.1h0M166.4 140.5h0M155.8 134.3h0M162.5 137.3h0M159.4 139.1h0M149.8 139.6h0M164.9 135.3h0M150.1 131.3h0M159.4 138.7h0M161.0 134.7h0M154.0 139.1h0M159.3 129.5h0M163.5 132.7h0M162.6 131.2h0M155.0 134.3h0M154.6 137.7h0M155.1 140.6h0M159.4 131.6h0M164.3 139.8h0M147.3 116.9h0M162.1 110.4h0M161.1 138.1h0M155.8 135.3h0M154.7 140.5h0M153.9 140.2h0M164.4 136.2h0M165.2 123.8h0M158.6 136.0h0M158.9 137.6h0M160.5 134.0h0M157.4 141.4h0M154.9 133.8h0M156.9 132.9h0M161.3 133.3h0M161.2 137.6h0M162.3 140.1h0M157.4 141.3h0M158.6 136.8h0M160.6 138.4h0M161.3 140.5h0M155.4 122.8h0M156.7 132.7h0M160.8 137.4h0M156.6 140.6h0M154.5 140.7h0M149.8 134.3h0M155.0 138.6h0M151.4 126.0h0M152.8 126.1h0M154.1 111.4h0M151.8 132.4h0M152.7 124.4h0M157.9 137.0h0M151.0 134.3h0M152.7 138.7h0M159.2 128.5h0M151.6 138.3h0M158.6 129.1h0M148.4 128.7h0M155.7 140.9h0M156.4 137.7h0M154.9 140.1h0M166.2 126.8h0M159.6 139.4h0M153.0 138.8h0M157.7 128.8h0M157.1 139.1h0M164.8 135.6h0M150.1 136.9h0M165.7 135.7h0M156.4 126.2h0M156.7 136.1h0M159.6 137.6h0M149.9 131.1h0M163.6 121.7h0M152.5 139.8h0M164.9 114.9h0M159.1 127.8h0M166.3 141.0h0M154.5 126.9h0M150.3 139.8h0M162.4 137.7h0M153.1 138.3h0M155.5 125.0h0M157.1 141.2h0M146.0 138.5h0M170.0 123.2h0M156.0 139.9h0M142.5 138.5h0M162.0 138.1h0M157.5 139.3h0M146.4 137.9h0M162.0 132.9h0M162.0 135.4h0M159.2 110.0h0M152.2 133.9h0M161.0 140.9h0M159.0 137.2h0M159.4 133.1h0M158.3 130.0h0M149.3 137.7h0M163.0 139.0h0M148.1 140.6h0M155.5 104.8h0M160.6 139.9h0M158.6 120.8h0M151.6 131.9h0M157.6 109.0h0M157.8 133.2h0M162.4 136.4h0M163.9 133.1h0M154.5 140.7h0M156.1 140.9h0M158.3 137.1h0M167.7 119.9h0M151.9 141.0h0M168.6 139.4h0M149.5 137.3h0M153.5 139.9h0M157.6 140.2h0M158.3 129.4h0M151.9 117.0h0M152.6 138.6h0M153.2 141.2h0M174.0 139.4h0M164.6 141.0h0M164.2 131.5h0M160.1 127.3h0M147.0 98.6h0M159.8 136.0h0M169.6 137.4h0M158.9 135.3h0M152.0 134.2h0M163.3 140.6h0M157.0 138.0h0M164.5 126.5h0M165.1 139.4h0M161.6 137.1h0M154.8 126.7h0M153.5 127.4h0M159.2 136.9h0M154.9 141.1h0M154.7 133.7h0M163.6 135.3h0M150.7 141.4h0M157.6 141.3h0M157.9 140.0h0M151.9 137.6h0M150.0 130.8h0M156.0 141.2h0M153.2 138.5h0M154.3 126.1h0M151.0 136.8h0M152.3 132.4h0M152.3 139.8h0M160.2 140.7h0M160.8 137.2h0M157.2 140.8h0M161.9 139.2h0M153.1 129.8h0M158.9 129.1h0M163.5 128.8h0M155.3 116.1h0M151.1 141.2h0M160.7 138.9h0M158.5 135.3h0M150.7 140.9h0M149.1 137.0h0M160.4 140.5h0M152.8 137.5h0M157.4 138.9h0M157.4 140.4h0M150.4 134.2h0M163.8 134.5h0M163.1 136.7h0M157.0 131.5h0M154.5 136.3h0M159.2 135.9h0M155.1 138.1h0M165.3 132.9h0M161.6 138.7h0M159.1 139.9h0M153.2 137.9h0M162.4 121.6h0M155.2 139.6h0M154.5 129.0h0M156.8 139.1h0M167.2 140.7h0M150.6 131.9h0M157.2 140.3h0M150.4 140.1h0M154.7 138.7h0M165.8 140.9h0M147.4 124.8h0M156.9 130.2h0M163.5 131.4h0M160.5 128.1h0M150.5 133.3h0M148.9 133.9h0M161.8 139.2h0M165.9 112.4h0M157.4 131.2h0M156.6 119.2h0M147.4 134.4h0M161.9 136.8h0M154.0 127.1h0M162.3 138.1h0M146.2 129.4h0M164.8 140.0h0M155.4 139.6h0M159.1 140.2h0M151.7 124.7h0M157.8 138.0h0M157.9 138.8h0M160.3 134.5h0M154.5 122.8h0M159.7 132.0h0M158.0 123.6h0M149.9 134.3h0M165.2 134.1h0M161.9 137.2h0M163.3 140.3h0M159.2 136.6h0M159.5 140.7h0M159.8 130.1h0M164.6 128.5h0M152.3 140.1h0M152.6 130.0h0M159.4 135.8h0M151.3 141.0h0M161.2 123.0h0M158.1 138.4h0M166.3 139.2h0M151.0 136.9h0M160.9 135.1h0M151.6 139.3h0M161.1 136.0h0M161.3 132.2h0M158.0 140.0h0M162.1 133.2h0M154.9 140.2h0M153.8 141.1h0M168.6 131.9h0M157.2 137.2h0M158.2 115.5h0M154.9 139.9h0M153.0 136.2h0M152.5 139.9h0M143.7 131.7h0M153.4 134.3h0M160.0 141.1h0M155.4 139.6h0M155.1 127.8h0M163.1 132.6h0M155.9 135.9h0M150.4 139.9h0M154.4 140.0h0M155.9 135.8h0M159.7 135.0h0M161.6 139.4h0M161.7 141.2h0M154.3 140.6h0M159.8 130.0h0M162.6 140.3h0M153.3 127.6h0M165.6 131.9h0M150.0 131.1h0M145.6 139.9h0M145.0 139.4h0M158.0 127.4h0M157.4 140.6h0M150.1 141.5h0M151.6 136.2h0M150.6 139.8h0M161.9 139.7h0M153.3 130.3h0M152.4 137.8h0M151.7 138.9h0M152.2 134.2h0M162.0 138.1h0M159.4 24.9h0M159.9 55.2h0M152.9 74.4h0M152.9 76.7h0M142.1 81.0h0M152.5 85.1h0M151.3 88.2h0M152.2 88.9h0M159.4 92.8h0M147.2 95.0h0M153.3 94.3h0M152.9 104.3h0M156.5 90.5h0M150.2 97.8h0M158.0 100.2h0M154.6 101.9h0" stroke="#2258f8" stroke-width="1.2" stroke-linecap="round" fill="none" opacity="0.62"/>
<path d="M210.6 151.1L189.8 140.9M97.5 112.3L117.9 110.3M137.4 110.0L131.2 116.2M149.6 102.2L129.5 119.4M163.4 111.2L179.1 129.0M111.4 112.2L110.9 109.6M131.6 117.7L129.7 119.3M161.0 119.0L179.2 128.5M97.1 125.2L99.7 132.8M132.3 121.0L130.7 120.5M167.9 126.5L181.2 137.6M86.2 127.8L106.0 119.6M100.8 133.3L103.0 135.2M165.6 130.1L179.4 126.9M101.3 139.5L109.1 140.2M139.5 140.4L131.1 140.7M173.0 139.3L183.4 138.2M89.4 143.7L103.1 140.1M99.3 143.7L104.3 136.3M118.1 142.8L120.9 141.4M133.4 144.7L130.4 141.1M151.4 144.7L131.4 135.2M92.0 151.2L102.6 141.5M109.4 151.2L118.8 136.6M122.7 152.2L120.9 140.7M143.1 152.8L131.5 136.9M169.6 152.8L182.8 140.2M94.8 158.9L112.8 139.1M117.5 159.9L129.4 141.7M133.5 160.2L127.9 139.9M159.8 160.2L178.6 140.3M183.8 94.8L190.1 110.8M173.7 103.2L179.8 120.1M193.2 103.7L199.8 124.1M206.8 101.3L186.9 122.8M232.4 101.3L220.9 128.6M182.6 111.2L184.9 125.7M196.3 112.0L190.4 119.0M218.4 109.0L196.0 121.4M235.7 109.0L218.5 117.7M172.8 119.2L181.8 130.7M208.5 116.3L194.4 127.5M226.2 117.7L220.9 132.5M202.3 124.0L197.4 132.9M219.2 125.2L211.2 138.8M233.4 125.2L200.2 137.0M182.7 124.0L180.4 121.9M198.9 132.8L196.9 134.0M220.5 132.8L199.9 137.8M175.9 134.7L180.3 138.4M206.8 138.9L199.7 139.6M235.4 138.1L200.8 138.4M192.5 142.8L189.8 139.9M204.6 142.8L202.6 141.0M224.1 142.8L202.0 127.5M178.8 144.7L181.2 139.4M183.9 152.8L182.4 141.0M196.4 152.8L187.7 139.6M238.4 151.1L222.8 136.0M184.0 160.2L179.1 141.2M212.1 160.2L211.1 135.9M222.8 158.9L194.6 139.0" stroke="#111" stroke-width="0.85" fill="none"/>
<path d="M210.6 151.1L208.9 151.1L209.6 149.7ZM97.5 112.3L98.9 111.3L99.1 112.9ZM137.4 110.0L136.9 111.6L135.8 110.4ZM149.6 102.2L149.0 103.7L147.9 102.5ZM163.4 111.2L165.0 111.8L163.8 112.9ZM111.4 112.2L110.4 110.8L111.9 110.5ZM131.6 117.7L131.0 119.2L130.0 118.0ZM161.0 119.0L162.7 119.0L162.0 120.5ZM97.1 125.2L98.4 126.4L96.9 126.9ZM132.3 121.0L130.6 121.3L131.2 119.8ZM167.9 126.5L169.6 126.9L168.5 128.1ZM86.2 127.8L87.3 126.5L87.9 128.0ZM100.8 133.3L102.5 133.7L101.4 134.9ZM165.6 130.1L166.9 129.0L167.2 130.5ZM101.3 139.5L102.8 138.9L102.7 140.5ZM139.5 140.4L138.0 141.2L137.9 139.6ZM173.0 139.3L174.4 138.3L174.6 139.9ZM89.4 143.7L90.7 142.5L91.1 144.0ZM99.3 143.7L99.5 142.0L100.8 142.9ZM118.1 142.8L119.1 141.5L119.8 142.9ZM133.4 144.7L131.8 144.0L133.0 143.0ZM151.4 144.7L149.7 144.7L150.4 143.3ZM92.0 151.2L92.5 149.6L93.6 150.8ZM109.4 151.2L109.5 149.6L110.9 150.4ZM122.7 152.2L121.6 150.9L123.2 150.6ZM143.1 152.8L141.6 152.1L142.9 151.2ZM169.6 152.8L170.1 151.2L171.2 152.4ZM94.8 158.9L95.2 157.3L96.4 158.4ZM117.5 159.9L117.6 158.3L119.0 159.1ZM133.5 160.2L132.4 159.0L133.9 158.6ZM159.8 160.2L160.2 158.6L161.4 159.7ZM183.8 94.8L185.1 95.8L183.6 96.4ZM173.7 103.2L175.0 104.3L173.5 104.8ZM193.2 103.7L194.4 104.8L192.9 105.3ZM206.8 101.3L206.4 103.0L205.2 101.9ZM232.4 101.3L232.6 103.0L231.1 102.4ZM182.6 111.2L183.7 112.6L182.1 112.9ZM196.3 112.0L196.0 113.7L194.7 112.7ZM218.4 109.0L217.5 110.4L216.7 109.0ZM235.7 109.0L234.8 110.3L234.0 108.9ZM172.8 119.2L174.4 119.8L173.1 120.8ZM208.5 116.3L207.8 117.9L206.8 116.6ZM226.2 117.7L226.5 119.3L225.0 118.8ZM202.3 124.0L202.3 125.6L200.9 124.9ZM219.2 125.2L219.1 126.9L217.7 126.1ZM233.4 125.2L232.3 126.5L231.7 125.0ZM182.7 124.0L181.0 123.6L182.2 122.4ZM198.9 132.8L197.9 134.3L197.2 132.9ZM220.5 132.8L219.2 134.0L218.8 132.4ZM175.9 134.7L177.6 135.0L176.5 136.2ZM206.8 138.9L205.4 139.8L205.2 138.2ZM235.4 138.1L233.9 138.9L233.9 137.3ZM192.5 142.8L190.9 142.3L192.1 141.2ZM204.6 142.8L203.0 142.4L204.1 141.2ZM224.1 142.8L222.4 142.7L223.3 141.3ZM178.8 144.7L178.7 143.0L180.2 143.6ZM183.9 152.8L182.9 151.5L184.5 151.3ZM196.4 152.8L194.9 152.0L196.2 151.2ZM238.4 151.1L236.7 150.6L237.8 149.4ZM184.0 160.2L182.8 159.0L184.4 158.6ZM212.1 160.2L211.2 158.8L212.8 158.7ZM222.8 158.9L221.1 158.7L222.0 157.4Z" fill="#111" stroke="#111" stroke-width="0.3"/>
<path d="M189.1 140.6h0M118.6 110.2h0M120.7 111.4h0M130.7 116.7h0M129.0 119.8h0M179.5 129.5h0M110.8 108.9h0M129.2 119.7h0M179.9 128.8h0M99.9 133.5h0M116.8 119.4h0M130.1 120.2h0M181.7 138.0h0M106.7 119.3h0M103.6 135.6h0M122.1 126.5h0M131.0 128.7h0M180.1 126.8h0M109.8 140.3h0M118.3 141.2h0M130.4 140.7h0M184.1 138.2h0M103.8 139.9h0M104.7 135.8h0M121.5 141.1h0M130.0 140.6h0M130.8 134.9h0M103.1 141.0h0M119.2 136.0h0M120.8 140.0h0M131.1 136.4h0M183.3 139.7h0M113.3 138.5h0M129.8 141.1h0M127.7 139.3h0M179.1 139.8h0M190.4 111.4h0M180.1 120.8h0M200.0 124.8h0M186.4 123.3h0M220.6 129.2h0M185.0 126.4h0M189.9 119.5h0M195.3 121.7h0M217.8 118.0h0M182.2 131.3h0M182.9 117.8h0M193.9 127.9h0M220.7 133.2h0M197.1 133.5h0M210.9 139.4h0M199.5 137.2h0M179.9 121.4h0M196.3 134.3h0M199.3 138.0h0M180.8 138.9h0M187.5 137.3h0M199.0 139.6h0M200.1 138.4h0M189.4 139.4h0M202.1 140.5h0M201.5 127.1h0M181.5 138.8h0M182.3 140.3h0M187.3 139.0h0M222.3 135.5h0M178.9 140.6h0M211.1 135.2h0M194.1 138.6h0M127.8 134.6h0M123.8 134.5h0M130.7 134.9h0M127.4 133.3h0M131.8 130.8h0M130.1 110.2h0M193.9 135.8h0M192.0 137.2h0M185.2 138.2h0M191.5 132.8h0M188.0 134.4h0" stroke="#ee2a24" stroke-width="1.15" stroke-linecap="round" fill="none" opacity="0.95"/>
<rect x="204.93" y="151.25" width="22.54" height="5.1" rx="0.9" fill="#fff" stroke="#a8a8a8" stroke-width="0.5"/>
<text x="216.20" y="155.35" font-size="4.45" text-anchor="middle" fill="#000" stroke="#000" stroke-width="0.1" >Gm14461</text>
<rect x="77.27" y="110.75" width="20.07" height="5.1" rx="0.9" fill="#fff" stroke="#a8a8a8" stroke-width="0.5"/>
<text x="87.30" y="114.85" font-size="4.45" text-anchor="middle" fill="#000" stroke="#000" stroke-width="0.1" >Krtap6-1</text>
<rect x="115.15" y="104.65" width="12.89" height="5.1" rx="0.9" fill="#fff" stroke="#a8a8a8" stroke-width="0.5"/>
<text x="121.60" y="108.75" font-size="4.45" text-anchor="middle" fill="#000" stroke="#000" stroke-width="0.1" >Bpifc</text>
<rect x="129.79" y="104.65" width="20.81" height="5.1" rx="0.9" fill="#fff" stroke="#a8a8a8" stroke-width="0.5"/>
<text x="140.20" y="108.75" font-size="4.45" text-anchor="middle" fill="#000" stroke="#000" stroke-width="0.1" >Serpinb2</text>
<rect x="143.63" y="96.85" width="18.34" height="5.1" rx="0.9" fill="#fff" stroke="#a8a8a8" stroke-width="0.5"/>
<text x="152.80" y="100.95" font-size="4.45" text-anchor="middle" fill="#000" stroke="#000" stroke-width="0.1" >S100a9</text>
<rect x="149.36" y="105.95" width="23.29" height="5.1" rx="0.9" fill="#fff" stroke="#a8a8a8" stroke-width="0.5"/>
<text x="161.00" y="110.05" font-size="4.45" text-anchor="middle" fill="#000" stroke="#000" stroke-width="0.1" >Serpinb9b</text>
<rect x="104.44" y="112.35" width="15.12" height="5.1" rx="0.9" fill="#fff" stroke="#a8a8a8" stroke-width="0.5"/>
<text x="112.00" y="116.45" font-size="4.45" text-anchor="middle" fill="#000" stroke="#000" stroke-width="0.1" >Lce3b</text>
<rect x="126.74" y="112.35" width="16.11" height="5.1" rx="0.9" fill="#fff" stroke="#a8a8a8" stroke-width="0.5"/>
<text x="134.80" y="116.45" font-size="4.45" text-anchor="middle" fill="#000" stroke="#000" stroke-width="0.1" >Krt33a</text>
<rect x="148.64" y="113.75" width="14.13" height="5.1" rx="0.9" fill="#fff" stroke="#a8a8a8" stroke-width="0.5"/>
<text x="155.70" y="117.85" font-size="4.45" text-anchor="middle" fill="#000" stroke="#000" stroke-width="0.1" >Cxcl5</text>
<rect x="89.38" y="119.95" width="13.64" height="5.1" rx="0.9" fill="#fff" stroke="#a8a8a8" stroke-width="0.5"/>
<text x="96.20" y="124.05" font-size="4.45" text-anchor="middle" fill="#000" stroke="#000" stroke-width="0.1" >Krt71</text>
<rect x="111.95" y="119.95" width="18.09" height="5.1" rx="0.9" fill="#fff" stroke="#a8a8a8" stroke-width="0.5"/>
<text x="121.00" y="124.05" font-size="4.45" text-anchor="middle" fill="#000" stroke="#000" stroke-width="0.1" >Abca12</text>
<rect x="130.98" y="121.25" width="16.85" height="5.1" rx="0.9" fill="#fff" stroke="#a8a8a8" stroke-width="0.5"/>
<text x="139.40" y="125.35" font-size="4.45" text-anchor="middle" fill="#000" stroke="#000" stroke-width="0.1" >Them5</text>
<rect x="154.81" y="121.25" width="19.58" height="5.1" rx="0.9" fill="#fff" stroke="#a8a8a8" stroke-width="0.5"/>
<text x="164.60" y="125.35" font-size="4.45" text-anchor="middle" fill="#000" stroke="#000" stroke-width="0.1" >Cd300lb</text>
<rect x="70.43" y="128.05" width="18.34" height="5.1" rx="0.9" fill="#fff" stroke="#a8a8a8" stroke-width="0.5"/>
<text x="79.60" y="132.15" font-size="4.45" text-anchor="middle" fill="#000" stroke="#000" stroke-width="0.1" >Hsd3b6</text>
<rect x="90.33" y="128.05" width="14.13" height="5.1" rx="0.9" fill="#fff" stroke="#a8a8a8" stroke-width="0.5"/>
<text x="97.40" y="132.15" font-size="4.45" text-anchor="middle" fill="#000" stroke="#000" stroke-width="0.1" >Klk13</text>
<rect x="106.56" y="126.35" width="14.87" height="5.1" rx="0.9" fill="#fff" stroke="#a8a8a8" stroke-width="0.5"/>
<text x="114.00" y="130.45" font-size="4.45" text-anchor="middle" fill="#000" stroke="#000" stroke-width="0.1" >Oas1f</text>
<rect x="127.57" y="129.35" width="20.07" height="5.1" rx="0.9" fill="#fff" stroke="#a8a8a8" stroke-width="0.5"/>
<text x="137.60" y="133.45" font-size="4.45" text-anchor="middle" fill="#000" stroke="#000" stroke-width="0.1" >Gm9457</text>
<rect x="149.79" y="129.35" width="15.62" height="5.1" rx="0.9" fill="#fff" stroke="#a8a8a8" stroke-width="0.5"/>
<text x="157.60" y="133.45" font-size="4.45" text-anchor="middle" fill="#000" stroke="#000" stroke-width="0.1" >Bbox1</text>
<rect x="78.53" y="135.95" width="22.54" height="5.1" rx="0.9" fill="#fff" stroke="#a8a8a8" stroke-width="0.5"/>
<text x="89.80" y="140.05" font-size="4.45" text-anchor="middle" fill="#000" stroke="#000" stroke-width="0.1" >Gm33461</text>
<rect x="111.79" y="135.45" width="15.62" height="5.1" rx="0.9" fill="#fff" stroke="#a8a8a8" stroke-width="0.5"/>
<text x="119.60" y="139.55" font-size="4.45" text-anchor="middle" fill="#000" stroke="#000" stroke-width="0.1" >Panx3</text>
<rect x="139.68" y="137.45" width="17.84" height="5.1" rx="0.9" fill="#fff" stroke="#a8a8a8" stroke-width="0.5"/>
<text x="148.60" y="141.55" font-size="4.45" text-anchor="middle" fill="#000" stroke="#000" stroke-width="0.1" >Gpr132</text>
<rect x="158.41" y="137.45" width="14.38" height="5.1" rx="0.9" fill="#fff" stroke="#a8a8a8" stroke-width="0.5"/>
<text x="165.60" y="141.55" font-size="4.45" text-anchor="middle" fill="#000" stroke="#000" stroke-width="0.1" >Cidec</text>
<rect x="67.63" y="143.85" width="22.54" height="5.1" rx="0.9" fill="#fff" stroke="#a8a8a8" stroke-width="0.5"/>
<text x="78.90" y="147.95" font-size="4.45" text-anchor="middle" fill="#000" stroke="#000" stroke-width="0.1" >Krtap16-1</text>
<rect x="90.54" y="143.85" width="13.72" height="5.1" rx="0.9" fill="#fff" stroke="#a8a8a8" stroke-width="0.5"/>
<text x="97.40" y="147.95" font-size="4.45" text-anchor="middle" fill="#000" stroke="#000" stroke-width="0.1" >Ly6m</text>
<rect x="104.03" y="143.05" width="17.34" height="5.1" rx="0.9" fill="#fff" stroke="#a8a8a8" stroke-width="0.5"/>
<text x="112.70" y="147.15" font-size="4.45" text-anchor="middle" fill="#000" stroke="#000" stroke-width="0.1" >Gsdma</text>
<rect x="124.43" y="144.85" width="22.54" height="5.1" rx="0.9" fill="#fff" stroke="#a8a8a8" stroke-width="0.5"/>
<text x="135.70" y="148.95" font-size="4.45" text-anchor="middle" fill="#000" stroke="#000" stroke-width="0.1" >Gm38552</text>
<rect x="148.03" y="144.85" width="18.34" height="5.1" rx="0.9" fill="#fff" stroke="#a8a8a8" stroke-width="0.5"/>
<text x="157.20" y="148.95" font-size="4.45" text-anchor="middle" fill="#000" stroke="#000" stroke-width="0.1" >Ctag2l2</text>
<rect x="82.18" y="151.45" width="13.64" height="5.1" rx="0.9" fill="#fff" stroke="#a8a8a8" stroke-width="0.5"/>
<text x="89.00" y="155.55" font-size="4.45" text-anchor="middle" fill="#000" stroke="#000" stroke-width="0.1" >Krt72</text>
<rect x="96.33" y="151.45" width="22.54" height="5.1" rx="0.9" fill="#fff" stroke="#a8a8a8" stroke-width="0.5"/>
<text x="107.60" y="155.55" font-size="4.45" text-anchor="middle" fill="#000" stroke="#000" stroke-width="0.1" >Gm40548</text>
<rect x="116.90" y="152.45" width="12.40" height="5.1" rx="0.9" fill="#fff" stroke="#a8a8a8" stroke-width="0.5"/>
<text x="123.10" y="156.55" font-size="4.45" text-anchor="middle" fill="#000" stroke="#000" stroke-width="0.1" >Jmjd</text>
<rect x="128.05" y="153.05" width="34.09" height="5.1" rx="0.9" fill="#fff" stroke="#a8a8a8" stroke-width="0.5"/>
<text x="145.10" y="157.15" font-size="4.45" text-anchor="middle" fill="#000" stroke="#000" stroke-width="0.1" >LOC118568777</text>
<rect x="160.38" y="153.05" width="12.65" height="5.1" rx="0.9" fill="#fff" stroke="#a8a8a8" stroke-width="0.5"/>
<text x="166.70" y="157.15" font-size="4.45" text-anchor="middle" fill="#000" stroke="#000" stroke-width="0.1" >Itgax</text>
<rect x="81.03" y="159.15" width="22.54" height="5.1" rx="0.9" fill="#fff" stroke="#a8a8a8" stroke-width="0.5"/>
<text x="92.30" y="163.25" font-size="4.45" text-anchor="middle" fill="#000" stroke="#000" stroke-width="0.1" >Gm14762</text>
<rect x="105.67" y="160.15" width="20.07" height="5.1" rx="0.9" fill="#fff" stroke="#a8a8a8" stroke-width="0.5"/>
<text x="115.70" y="164.25" font-size="4.45" text-anchor="middle" fill="#000" stroke="#000" stroke-width="0.1" >Gm6498</text>
<rect x="127.23" y="160.45" width="14.13" height="5.1" rx="0.9" fill="#fff" stroke="#a8a8a8" stroke-width="0.5"/>
<text x="134.30" y="164.55" font-size="4.45" text-anchor="middle" fill="#000" stroke="#000" stroke-width="0.1" >Klk14</text>
<rect x="145.93" y="160.45" width="22.54" height="5.1" rx="0.9" fill="#fff" stroke="#a8a8a8" stroke-width="0.5"/>
<text x="157.20" y="164.55" font-size="4.45" text-anchor="middle" fill="#000" stroke="#000" stroke-width="0.1" >Gm51622</text>
<rect x="177.74" y="89.45" width="9.92" height="5.1" rx="0.9" fill="#fff" stroke="#a8a8a8" stroke-width="0.5"/>
<text x="182.70" y="93.55" font-size="4.45" text-anchor="middle" fill="#000" stroke="#000" stroke-width="0.1" >Cfd</text>
<rect x="163.78" y="97.85" width="17.84" height="5.1" rx="0.9" fill="#fff" stroke="#a8a8a8" stroke-width="0.5"/>
<text x="172.70" y="101.95" font-size="4.45" text-anchor="middle" fill="#000" stroke="#000" stroke-width="0.1" >Mmp13</text>
<rect x="185.60" y="98.35" width="13.39" height="5.1" rx="0.9" fill="#fff" stroke="#a8a8a8" stroke-width="0.5"/>
<text x="192.30" y="102.45" font-size="4.45" text-anchor="middle" fill="#000" stroke="#000" stroke-width="0.1" >Ppbp</text>
<rect x="201.10" y="96.05" width="16.61" height="5.1" rx="0.9" fill="#fff" stroke="#a8a8a8" stroke-width="0.5"/>
<text x="209.40" y="100.15" font-size="4.45" text-anchor="middle" fill="#000" stroke="#000" stroke-width="0.1" >Slc4a1</text>
<rect x="222.70" y="96.05" width="21.80" height="5.1" rx="0.9" fill="#fff" stroke="#a8a8a8" stroke-width="0.5"/>
<text x="233.60" y="100.15" font-size="4.45" text-anchor="middle" fill="#000" stroke="#000" stroke-width="0.1" >Atp6v0d2</text>
<rect x="175.51" y="105.95" width="13.39" height="5.1" rx="0.9" fill="#fff" stroke="#a8a8a8" stroke-width="0.5"/>
<text x="182.20" y="110.05" font-size="4.45" text-anchor="middle" fill="#000" stroke="#000" stroke-width="0.1" >Pira1</text>
<rect x="194.11" y="106.75" width="9.18" height="5.1" rx="0.9" fill="#fff" stroke="#a8a8a8" stroke-width="0.5"/>
<text x="198.70" y="110.85" font-size="4.45" text-anchor="middle" fill="#000" stroke="#000" stroke-width="0.1" >Il7r</text>
<rect x="215.47" y="103.65" width="15.86" height="5.1" rx="0.9" fill="#fff" stroke="#a8a8a8" stroke-width="0.5"/>
<text x="223.40" y="107.75" font-size="4.45" text-anchor="middle" fill="#000" stroke="#000" stroke-width="0.1" >Tcstb1</text>
<rect x="232.78" y="103.65" width="16.85" height="5.1" rx="0.9" fill="#fff" stroke="#a8a8a8" stroke-width="0.5"/>
<text x="241.20" y="107.75" font-size="4.45" text-anchor="middle" fill="#000" stroke="#000" stroke-width="0.1" >Prss46</text>
<rect x="163.14" y="113.85" width="15.12" height="5.1" rx="0.9" fill="#fff" stroke="#a8a8a8" stroke-width="0.5"/>
<text x="170.70" y="117.95" font-size="4.45" text-anchor="middle" fill="#000" stroke="#000" stroke-width="0.1" >Mcpt1</text>
<rect x="183.54" y="113.85" width="10.91" height="5.1" rx="0.9" fill="#fff" stroke="#a8a8a8" stroke-width="0.5"/>
<text x="189.00" y="117.95" font-size="4.45" text-anchor="middle" fill="#000" stroke="#000" stroke-width="0.1" >Pirb</text>
<rect x="205.55" y="111.05" width="12.90" height="5.1" rx="0.9" fill="#fff" stroke="#a8a8a8" stroke-width="0.5"/>
<text x="212.00" y="115.15" font-size="4.45" text-anchor="middle" fill="#000" stroke="#000" stroke-width="0.1" >Itga1</text>
<rect x="220.51" y="112.35" width="13.39" height="5.1" rx="0.9" fill="#fff" stroke="#a8a8a8" stroke-width="0.5"/>
<text x="227.20" y="116.45" font-size="4.45" text-anchor="middle" fill="#000" stroke="#000" stroke-width="0.1" >Pira2</text>
<rect x="192.53" y="118.65" width="22.54" height="5.1" rx="0.9" fill="#fff" stroke="#a8a8a8" stroke-width="0.5"/>
<text x="203.80" y="122.75" font-size="4.45" text-anchor="middle" fill="#000" stroke="#000" stroke-width="0.1" >Gm14548</text>
<rect x="213.61" y="119.95" width="14.38" height="5.1" rx="0.9" fill="#fff" stroke="#a8a8a8" stroke-width="0.5"/>
<text x="220.80" y="124.05" font-size="4.45" text-anchor="middle" fill="#000" stroke="#000" stroke-width="0.1" >Ccl22</text>
<rect x="229.93" y="119.95" width="22.54" height="5.1" rx="0.9" fill="#fff" stroke="#a8a8a8" stroke-width="0.5"/>
<text x="241.20" y="124.05" font-size="4.45" text-anchor="middle" fill="#000" stroke="#000" stroke-width="0.1" >Gm52817</text>
<rect x="178.81" y="124.25" width="13.38" height="5.1" rx="0.9" fill="#fff" stroke="#a8a8a8" stroke-width="0.5"/>
<text x="185.50" y="128.35" font-size="4.45" text-anchor="middle" fill="#000" stroke="#000" stroke-width="0.1" >Ccrl2</text>
<rect x="195.38" y="127.55" width="16.85" height="5.1" rx="0.9" fill="#fff" stroke="#a8a8a8" stroke-width="0.5"/>
<text x="203.80" y="131.65" font-size="4.45" text-anchor="middle" fill="#000" stroke="#000" stroke-width="0.1" >Slamf7</text>
<rect x="220.53" y="127.55" width="22.54" height="5.1" rx="0.9" fill="#fff" stroke="#a8a8a8" stroke-width="0.5"/>
<text x="231.80" y="131.65" font-size="4.45" text-anchor="middle" fill="#000" stroke="#000" stroke-width="0.1" >Gm10371</text>
<rect x="166.87" y="129.35" width="11.66" height="5.1" rx="0.9" fill="#fff" stroke="#a8a8a8" stroke-width="0.5"/>
<text x="172.70" y="133.45" font-size="4.45" text-anchor="middle" fill="#000" stroke="#000" stroke-width="0.1" >Ighd</text>
<rect x="179.73" y="132.15" width="22.54" height="5.1" rx="0.9" fill="#fff" stroke="#a8a8a8" stroke-width="0.5"/>
<text x="191.00" y="136.25" font-size="4.45" text-anchor="middle" fill="#000" stroke="#000" stroke-width="0.1" >Gm36161</text>
<rect x="207.01" y="135.45" width="17.59" height="5.1" rx="0.9" fill="#fff" stroke="#a8a8a8" stroke-width="0.5"/>
<text x="215.80" y="139.55" font-size="4.45" text-anchor="middle" fill="#000" stroke="#000" stroke-width="0.1" >Themis</text>
<rect x="235.58" y="135.45" width="17.84" height="5.1" rx="0.9" fill="#fff" stroke="#a8a8a8" stroke-width="0.5"/>
<text x="244.50" y="139.55" font-size="4.45" text-anchor="middle" fill="#000" stroke="#000" stroke-width="0.1" >Mmp12</text>
<rect x="188.95" y="143.05" width="11.90" height="5.1" rx="0.9" fill="#fff" stroke="#a8a8a8" stroke-width="0.5"/>
<text x="194.90" y="147.15" font-size="4.45" text-anchor="middle" fill="#000" stroke="#000" stroke-width="0.1" >Ccl2</text>
<rect x="197.57" y="143.05" width="20.07" height="5.1" rx="0.9" fill="#fff" stroke="#a8a8a8" stroke-width="0.5"/>
<text x="207.60" y="147.15" font-size="4.45" text-anchor="middle" fill="#000" stroke="#000" stroke-width="0.1" >Gm8618</text>
<rect x="219.57" y="143.05" width="16.85" height="5.1" rx="0.9" fill="#fff" stroke="#a8a8a8" stroke-width="0.5"/>
<text x="228.00" y="147.15" font-size="4.45" text-anchor="middle" fill="#000" stroke="#000" stroke-width="0.1" >Clec4d</text>
<rect x="168.43" y="144.85" width="18.34" height="5.1" rx="0.9" fill="#fff" stroke="#a8a8a8" stroke-width="0.5"/>
<text x="177.60" y="148.95" font-size="4.45" text-anchor="middle" fill="#000" stroke="#000" stroke-width="0.1" >S100a8</text>
<rect x="177.88" y="153.05" width="12.64" height="5.1" rx="0.9" fill="#fff" stroke="#a8a8a8" stroke-width="0.5"/>
<text x="184.20" y="157.15" font-size="4.45" text-anchor="middle" fill="#000" stroke="#000" stroke-width="0.1" >Olfr9</text>
<rect x="186.93" y="153.05" width="22.54" height="5.1" rx="0.9" fill="#fff" stroke="#a8a8a8" stroke-width="0.5"/>
<text x="198.20" y="157.15" font-size="4.45" text-anchor="middle" fill="#000" stroke="#000" stroke-width="0.1" >Gm34974</text>
<rect x="230.55" y="151.25" width="21.30" height="5.1" rx="0.9" fill="#fff" stroke="#a8a8a8" stroke-width="0.5"/>
<text x="241.20" y="155.35" font-size="4.45" text-anchor="middle" fill="#000" stroke="#000" stroke-width="0.1" >Tas2r135</text>
<rect x="167.65" y="160.45" width="34.09" height="5.1" rx="0.9" fill="#fff" stroke="#a8a8a8" stroke-width="0.5"/>
<text x="184.70" y="164.55" font-size="4.45" text-anchor="middle" fill="#000" stroke="#000" stroke-width="0.1" >LOC115488162</text>
<rect x="205.51" y="160.45" width="13.39" height="5.1" rx="0.9" fill="#fff" stroke="#a8a8a8" stroke-width="0.5"/>
<text x="212.20" y="164.55" font-size="4.45" text-anchor="middle" fill="#000" stroke="#000" stroke-width="0.1" >Ctla4</text>
<rect x="221.12" y="159.15" width="11.16" height="5.1" rx="0.9" fill="#fff" stroke="#a8a8a8" stroke-width="0.5"/>
<text x="226.70" y="163.25" font-size="4.45" text-anchor="middle" fill="#000" stroke="#000" stroke-width="0.1" >Icos</text>
<line x1="58.4" y1="13.0" x2="58.4" y2="167.20000000000002" stroke="#606060" stroke-width="0.75"/>
<line x1="58.0" y1="166.8" x2="254.0" y2="166.8" stroke="#606060" stroke-width="0.75"/>
<line x1="56.5" y1="159.70" x2="58.4" y2="159.70" stroke="#444" stroke-width="0.6"/>
<text x="54.90" y="161.65" font-size="5.45" text-anchor="end" fill="#454545" stroke="#454545" stroke-width="0.12" >0.0</text>
<line x1="56.5" y1="124.70" x2="58.4" y2="124.70" stroke="#444" stroke-width="0.6"/>
<text x="54.90" y="126.65" font-size="5.45" text-anchor="end" fill="#454545" stroke="#454545" stroke-width="0.12" >2.5</text>
<line x1="56.5" y1="89.70" x2="58.4" y2="89.70" stroke="#444" stroke-width="0.6"/>
<text x="54.90" y="91.65" font-size="5.45" text-anchor="end" fill="#454545" stroke="#454545" stroke-width="0.12" >5.0</text>
<line x1="56.5" y1="54.70" x2="58.4" y2="54.70" stroke="#444" stroke-width="0.6"/>
<text x="54.90" y="56.65" font-size="5.45" text-anchor="end" fill="#454545" stroke="#454545" stroke-width="0.12" >7.5</text>
<line x1="56.5" y1="19.70" x2="58.4" y2="19.70" stroke="#444" stroke-width="0.6"/>
<text x="54.90" y="21.65" font-size="5.45" text-anchor="end" fill="#454545" stroke="#454545" stroke-width="0.12" >10.0</text>
<line x1="100.30" y1="166.8" x2="100.30" y2="168.70000000000002" stroke="#444" stroke-width="0.6"/>
<text x="100.30" y="174.30" font-size="5.45" text-anchor="middle" fill="#454545" stroke="#454545" stroke-width="0.12" >-5</text>
<line x1="155.90" y1="166.8" x2="155.90" y2="168.70000000000002" stroke="#444" stroke-width="0.6"/>
<text x="155.90" y="174.30" font-size="5.45" text-anchor="middle" fill="#454545" stroke="#454545" stroke-width="0.12" >0</text>
<line x1="211.50" y1="166.8" x2="211.50" y2="168.70000000000002" stroke="#444" stroke-width="0.6"/>
<text x="211.50" y="174.30" font-size="5.45" text-anchor="middle" fill="#454545" stroke="#454545" stroke-width="0.12" >5</text>
<text x="58.00" y="8.70" font-size="4.0" text-anchor="start" fill="#222" stroke="#222" font-style="italic" letter-spacing="0.55">LIM</text>
<g fill="#111" stroke="#111" stroke-width="0.12"><text x="135.17" y="181.9" font-size="5.65">Log</text><text x="144.69" y="183.0" font-size="3.7">2</text><text x="148.22" y="181.9" font-size="5.65">fold change</text></g>
<g transform="translate(39.50 89.0) rotate(-90)" fill="#111" stroke="#111" stroke-width="0.16"><text x="-10.87" y="0" font-size="5.5">- Log</text><text x="1.77" y="1.1" font-size="3.6">10</text><text x="7.20" y="0" font-size="5.5" font-style="italic">P</text></g>
<text x="254.00" y="191.50" font-size="4.36" text-anchor="end" fill="#111" stroke="#111" stroke-width="0.1" >total = 32653 variables</text>
</g>
<g>
<line x1="306.20" y1="13.0" x2="306.20" y2="166.8" stroke="#f1f1f1" stroke-width="0.5"/>
<line x1="361.80" y1="13.0" x2="361.80" y2="166.8" stroke="#f1f1f1" stroke-width="0.5"/>
<line x1="417.40" y1="13.0" x2="417.40" y2="166.8" stroke="#f1f1f1" stroke-width="0.5"/>
<line x1="473.00" y1="13.0" x2="473.00" y2="166.8" stroke="#f1f1f1" stroke-width="0.5"/>
<line x1="291.9" y1="142.20" x2="487.8" y2="142.20" stroke="#f1f1f1" stroke-width="0.5"/>
<line x1="291.9" y1="107.20" x2="487.8" y2="107.20" stroke="#f1f1f1" stroke-width="0.5"/>
<line x1="291.9" y1="72.20" x2="487.8" y2="72.20" stroke="#f1f1f1" stroke-width="0.5"/>
<line x1="291.9" y1="37.20" x2="487.8" y2="37.20" stroke="#f1f1f1" stroke-width="0.5"/>
<line x1="334.00" y1="13.0" x2="334.00" y2="166.8" stroke="#e6e6e6" stroke-width="0.7"/>
<line x1="389.60" y1="13.0" x2="389.60" y2="166.8" stroke="#e6e6e6" stroke-width="0.7"/>
<line x1="445.20" y1="13.0" x2="445.20" y2="166.8" stroke="#e6e6e6" stroke-width="0.7"/>
<line x1="291.9" y1="159.70" x2="487.8" y2="159.70" stroke="#e6e6e6" stroke-width="0.7"/>
<line x1="291.9" y1="124.70" x2="487.8" y2="124.70" stroke="#e6e6e6" stroke-width="0.7"/>
<line x1="291.9" y1="89.70" x2="487.8" y2="89.70" stroke="#e6e6e6" stroke-width="0.7"/>
<line x1="291.9" y1="54.70" x2="487.8" y2="54.70" stroke="#e6e6e6" stroke-width="0.7"/>
<line x1="291.9" y1="19.70" x2="487.8" y2="19.70" stroke="#e6e6e6" stroke-width="0.7"/>
<line x1="367.36" y1="13.0" x2="367.36" y2="166.8" stroke="#555" stroke-width="0.5" stroke-dasharray="1.2 0.9"/>
<line x1="411.84" y1="13.0" x2="411.84" y2="166.8" stroke="#555" stroke-width="0.5" stroke-dasharray="1.2 0.9"/>
<line x1="291.9" y1="141.50" x2="487.8" y2="141.50" stroke="#555" stroke-width="0.5" stroke-dasharray="1.2 0.9"/>
<path d="M403.1 154.7h0M383.5 158.9h0M381.8 157.5h0M394.5 158.4h0M377.3 154.3h0M387.1 157.8h0M375.1 153.3h0M400.5 156.5h0M379.3 153.0h0M387.7 157.5h0M386.5 152.7h0M385.0 157.0h0M380.0 150.9h0M393.6 158.1h0M387.2 152.7h0M384.1 155.0h0M382.8 150.4h0M389.3 157.2h0M383.8 150.2h0M396.3 156.9h0M401.0 157.8h0M396.1 150.8h0M399.2 146.7h0M409.0 157.2h0M400.8 158.3h0M401.2 156.5h0M401.0 155.4h0M369.0 155.8h0M367.5 151.9h0M376.0 147.8h0M403.7 153.4h0M381.9 149.5h0M390.3 155.4h0M391.6 153.0h0M392.2 157.1h0M382.2 152.4h0M389.9 147.3h0M376.1 156.4h0M377.4 156.1h0M389.4 159.2h0M391.0 156.6h0M394.7 152.2h0M378.0 157.8h0M385.4 153.4h0M375.2 156.0h0M382.2 149.2h0M406.2 150.4h0M392.5 151.8h0M387.0 155.2h0M380.1 146.7h0M380.3 154.2h0M374.9 157.8h0M388.7 157.5h0M387.6 149.6h0M399.6 155.8h0M378.1 154.8h0M388.3 149.8h0M406.1 158.7h0M392.9 155.6h0M403.1 151.7h0M388.7 154.5h0M388.3 157.4h0M385.6 156.1h0M395.9 158.0h0M384.7 156.9h0M371.6 155.3h0M392.4 150.0h0M380.9 156.9h0M408.8 153.1h0M380.5 156.2h0M378.6 151.9h0M398.6 155.5h0M374.9 150.4h0M400.9 156.2h0M390.4 153.4h0M386.2 158.4h0M370.1 152.4h0M382.1 157.1h0M383.5 154.6h0M396.3 152.0h0M373.7 156.2h0M369.3 147.1h0M383.0 155.1h0M395.8 154.8h0M392.5 158.9h0M408.5 154.7h0M385.0 156.0h0M386.2 158.1h0M375.1 158.6h0M401.6 156.9h0M383.3 155.2h0M389.6 152.8h0M393.1 154.3h0M388.5 155.5h0M369.8 155.5h0M392.0 158.9h0M379.0 146.4h0M409.6 147.0h0M406.4 153.3h0M407.7 151.7h0M405.5 155.6h0M387.5 152.6h0M375.2 150.7h0M387.8 151.5h0M392.7 156.7h0M405.6 156.3h0M389.7 159.7h0M390.5 153.0h0M394.5 152.7h0M392.8 154.7h0M392.5 157.8h0M381.9 151.8h0M395.1 149.7h0M393.6 156.9h0M405.5 156.8h0M368.4 156.2h0M374.4 154.2h0M396.6 150.0h0M372.0 150.7h0M378.6 158.8h0M396.8 156.7h0M399.3 155.6h0M381.2 158.4h0M389.0 156.7h0M376.8 151.7h0M388.7 153.9h0M386.9 157.5h0M369.1 156.3h0M383.9 154.3h0M400.6 147.6h0M387.7 157.1h0M391.8 152.1h0M405.2 153.4h0M395.7 155.5h0M377.8 151.8h0M374.1 152.3h0M380.9 156.7h0M400.1 158.5h0M401.3 155.7h0M407.8 152.4h0M395.0 156.2h0M383.1 155.6h0M367.9 153.5h0M403.2 153.2h0M388.6 147.9h0M376.9 143.1h0M400.9 150.8h0M388.4 155.0h0M370.3 154.3h0M382.4 155.0h0M392.7 158.4h0M398.9 153.9h0M386.3 157.2h0M382.1 152.4h0M371.3 154.3h0M401.4 149.9h0M389.4 155.6h0M392.5 150.4h0M401.6 150.1h0M387.4 158.2h0M385.8 147.8h0M381.8 156.4h0M385.4 156.9h0M400.6 154.8h0M405.1 156.0h0M392.7 155.6h0M397.1 152.7h0M391.0 157.2h0M389.1 159.5h0M393.7 156.3h0M383.3 156.1h0M395.9 157.8h0M392.5 158.5h0M394.0 151.9h0M376.4 153.6h0M380.8 156.2h0M386.3 157.4h0M387.1 151.0h0M396.0 157.7h0M389.7 156.9h0M398.2 153.6h0M368.3 159.0h0M406.2 157.6h0M373.3 155.6h0M401.4 158.7h0M387.0 158.5h0M403.8 155.4h0M401.1 148.7h0M384.6 158.4h0M399.7 152.3h0M405.7 157.2h0M391.5 156.1h0M392.9 158.0h0M377.5 153.4h0M396.3 157.5h0M381.3 158.5h0M393.5 157.7h0M398.3 157.5h0M407.1 150.2h0M410.3 156.9h0M389.1 157.8h0M397.8 157.7h0M377.1 148.6h0M403.5 147.8h0M389.2 158.6h0M381.3 158.4h0M381.5 153.3h0M376.6 154.0h0M397.6 149.6h0M394.6 153.9h0M401.1 155.1h0M390.5 149.5h0M385.2 154.5h0M404.6 157.1h0M401.6 154.3h0M391.2 158.2h0M391.9 154.8h0M382.4 157.5h0M383.9 154.9h0M389.7 155.2h0M395.8 158.1h0M388.2 155.2h0M392.8 156.2h0M375.8 155.1h0M383.7 156.8h0M372.9 151.9h0M395.6 158.3h0M405.6 154.8h0M384.8 152.9h0M370.0 149.5h0M393.6 155.0h0M383.6 150.4h0M396.8 154.8h0M390.3 157.1h0M396.5 156.0h0M385.0 152.8h0M395.8 152.3h0M388.4 156.0h0M379.5 153.5h0M389.5 156.0h0M396.0 155.7h0M370.6 154.6h0M384.1 154.1h0M400.2 154.6h0M385.1 154.4h0M390.5 151.6h0M382.3 151.4h0M393.5 153.1h0M381.9 154.6h0M378.3 149.6h0M378.7 154.2h0M380.7 154.1h0M382.7 158.3h0M375.4 157.3h0M401.0 152.2h0M377.8 158.3h0M384.2 154.7h0M390.3 158.0h0M382.4 155.0h0M392.2 155.9h0M387.3 155.6h0M390.0 157.9h0M368.9 145.7h0M399.8 151.0h0M396.6 150.6h0M393.2 157.6h0M380.9 154.1h0M377.0 157.8h0M391.0 156.8h0M391.4 159.1h0M402.2 156.9h0M402.6 158.0h0M391.3 153.3h0M391.0 152.1h0M389.7 153.4h0M387.6 154.2h0M393.8 144.5h0M370.3 143.1h0M395.7 154.6h0M381.1 155.0h0M393.8 157.2h0M391.6 158.0h0M398.5 156.7h0M403.6 152.6h0M384.6 155.2h0M389.9 158.7h0M393.0 158.5h0M391.8 151.2h0M370.9 156.8h0M404.8 151.3h0M408.9 150.8h0M397.0 154.8h0M374.4 156.8h0M395.7 155.3h0M393.3 158.1h0M382.6 154.0h0M388.4 156.6h0M373.8 157.8h0M385.1 147.0h0M372.6 153.7h0M398.4 150.6h0M395.6 154.5h0M403.8 148.7h0M381.9 154.3h0M378.9 155.7h0M386.2 158.9h0M397.4 156.4h0M392.6 154.0h0M372.9 155.2h0M397.8 158.3h0M383.2 153.4h0M410.8 158.0h0M388.3 149.6h0M386.1 158.6h0M373.5 152.4h0M392.6 158.3h0M385.0 156.2h0M375.0 157.9h0M397.8 156.6h0M394.7 156.0h0M388.1 158.8h0M397.7 149.7h0M387.6 150.2h0M375.4 152.6h0M385.2 156.0h0M375.1 158.4h0M391.8 159.0h0M398.6 151.8h0M373.2 156.2h0M406.9 152.3h0M395.6 155.1h0M387.7 156.6h0M378.6 153.0h0M396.5 154.0h0M392.8 156.2h0M380.1 154.5h0M405.0 155.8h0M381.0 156.1h0M375.9 153.9h0M401.3 159.0h0M384.0 157.2h0M388.8 155.0h0M390.1 155.9h0M385.2 158.3h0M396.4 155.6h0M370.4 156.6h0M385.5 157.0h0M383.2 151.2h0M397.2 157.8h0M388.6 150.5h0M392.5 156.2h0M369.3 150.8h0M395.0 149.5h0M396.6 157.6h0M376.1 157.3h0M377.9 153.8h0M375.3 155.5h0M402.6 149.9h0M386.3 156.7h0M389.4 159.4h0M389.3 148.8h0M368.1 152.0h0M389.0 153.9h0M392.9 157.8h0M408.8 156.5h0M372.3 156.2h0M394.1 153.6h0M396.4 155.7h0M393.5 155.4h0M403.2 157.3h0M382.6 158.0h0M402.3 156.6h0M408.6 155.0h0M395.9 153.9h0M383.6 155.8h0M402.4 153.8h0M382.0 154.4h0M388.5 156.0h0M395.9 150.3h0M410.5 154.3h0M395.0 157.0h0M394.1 157.0h0M385.2 153.7h0M381.2 148.8h0M385.9 154.0h0M387.5 156.0h0M388.7 157.0h0M375.1 152.4h0M380.6 151.9h0M401.0 153.9h0M373.5 152.3h0M379.8 154.5h0M386.1 152.8h0M375.7 157.8h0M387.8 158.0h0M392.4 157.6h0M401.2 155.8h0M379.4 147.1h0M410.0 156.8h0M373.2 144.9h0M379.3 157.3h0M387.9 157.2h0M401.2 156.9h0M407.2 148.9h0M377.8 156.7h0M381.5 158.5h0M387.4 159.2h0M403.3 156.9h0M394.7 153.5h0M409.4 154.6h0M376.6 155.3h0M382.8 150.5h0M400.2 156.3h0M390.3 156.3h0M388.5 150.1h0M389.8 158.8h0M385.8 154.7h0M401.5 156.5h0M375.1 155.1h0M388.4 152.8h0M407.9 157.9h0M397.0 156.1h0M383.1 151.6h0M387.1 156.6h0M386.1 144.6h0M367.4 145.7h0M399.8 153.6h0M384.0 155.8h0M382.6 157.2h0M395.4 155.4h0M382.5 146.5h0M398.3 157.8h0M385.2 154.1h0M385.1 155.4h0M379.9 153.7h0M390.3 153.0h0M391.8 157.8h0M405.2 148.7h0M396.6 156.4h0M398.0 155.8h0M378.9 156.7h0M403.3 155.9h0M383.6 153.4h0M396.5 157.5h0M372.0 155.9h0M394.4 156.2h0M383.9 149.1h0M391.3 150.9h0M387.9 150.6h0M376.6 157.1h0M393.3 152.4h0M389.2 154.4h0M382.0 147.1h0M401.6 155.4h0M385.9 157.3h0M378.4 153.5h0M377.0 156.9h0M408.6 153.5h0M389.5 156.6h0M405.1 157.8h0M372.8 148.1h0M390.3 158.9h0M392.7 158.4h0M396.3 157.5h0M396.7 158.7h0M385.8 159.0h0M401.7 150.4h0M376.6 156.0h0M396.0 153.1h0M387.5 157.7h0M396.1 155.4h0M376.3 159.2h0M403.1 145.9h0M387.5 155.3h0M374.9 156.1h0M388.8 153.5h0M377.9 151.4h0M399.0 153.7h0M395.6 155.2h0M372.1 156.3h0M381.9 158.0h0M385.6 156.0h0M392.8 158.6h0M382.6 156.2h0M394.8 154.0h0M382.9 156.1h0M397.7 154.5h0M391.8 157.3h0M394.5 156.4h0M383.8 157.0h0M403.4 150.9h0M388.7 159.2h0M387.1 158.0h0M376.5 152.6h0M367.4 157.5h0M387.1 155.9h0M398.4 153.4h0M378.1 157.3h0M402.6 157.2h0M377.7 157.0h0M389.3 159.5h0M379.9 156.7h0M392.3 156.6h0M377.6 148.2h0M394.1 156.4h0M390.0 159.3h0M388.8 157.5h0M396.5 153.6h0M373.9 152.2h0M395.2 154.1h0M369.8 150.1h0M382.4 152.2h0M388.8 156.0h0M397.7 156.0h0M396.6 151.9h0M401.4 158.0h0M374.7 153.1h0M392.3 157.9h0M388.4 155.4h0M400.0 157.5h0M406.2 153.1h0M391.3 154.8h0M404.6 159.3h0M381.8 157.3h0M404.9 151.0h0M396.8 154.1h0M373.0 153.1h0M389.8 155.7h0M409.3 154.6h0M369.9 152.6h0M379.4 155.3h0M396.8 158.0h0M402.9 154.3h0M379.5 156.2h0M394.6 148.5h0M377.5 155.7h0M411.3 145.9h0M385.1 158.1h0M405.7 156.2h0M386.3 155.9h0M379.7 156.7h0M380.6 153.3h0M398.6 158.2h0M387.3 158.5h0M376.3 149.8h0M398.6 153.6h0M383.8 158.3h0M390.8 150.9h0M393.0 153.6h0M387.4 155.7h0M390.3 158.9h0M386.0 158.7h0M387.4 159.0h0M390.6 155.6h0M376.1 153.8h0M406.9 157.5h0M372.6 154.3h0M392.2 156.3h0M398.1 155.5h0M396.1 158.1h0M393.4 151.9h0M392.5 154.8h0M385.7 155.2h0M405.9 150.2h0M384.6 151.6h0M381.0 157.9h0M379.0 153.3h0M386.3 158.9h0M385.2 157.6h0M387.5 159.5h0M383.7 154.4h0M375.3 153.0h0M379.6 152.5h0M391.9 159.3h0M394.1 154.6h0M387.1 150.0h0M379.3 151.3h0M383.2 153.9h0M407.4 155.0h0M406.0 152.9h0M382.0 154.7h0M384.7 157.9h0M393.6 156.2h0M385.5 154.5h0M380.9 157.0h0M393.4 153.7h0M382.7 158.1h0M392.2 153.0h0M407.5 148.4h0M377.9 148.7h0M386.8 154.9h0M373.9 151.2h0M397.8 156.0h0M382.7 153.8h0M369.3 151.7h0M376.6 152.3h0M377.9 154.8h0M396.9 156.5h0M395.2 159.0h0M377.4 153.4h0M368.2 156.1h0M391.9 154.7h0M397.0 157.5h0M372.3 149.6h0M395.3 157.4h0M392.5 159.0h0M374.8 153.1h0M401.4 153.6h0M405.0 155.9h0M383.3 154.0h0M383.2 153.2h0M403.0 151.5h0M386.5 157.4h0M391.7 146.8h0M385.9 157.8h0M389.0 157.7h0M384.5 157.6h0M371.5 152.4h0M399.7 151.0h0M400.9 144.0h0M374.4 151.9h0M409.2 153.0h0M394.8 155.2h0M368.7 153.0h0M397.1 150.9h0M388.9 156.9h0M394.4 157.0h0M395.2 156.6h0M397.9 152.0h0M387.3 156.7h0M370.3 156.6h0M392.0 157.9h0M399.5 155.5h0M390.0 157.8h0M405.4 158.5h0M372.7 153.2h0M405.0 155.5h0M393.9 154.1h0M394.6 156.1h0M387.3 158.5h0M386.6 152.6h0M393.1 158.3h0M371.1 156.4h0M385.6 149.1h0M391.2 159.2h0M389.3 150.4h0M372.6 149.8h0M409.4 156.4h0M398.2 150.1h0M391.7 159.1h0M386.6 156.1h0M384.4 156.3h0M378.1 150.0h0M404.5 155.3h0M404.2 155.2h0M378.0 158.7h0M393.9 159.5h0M382.9 152.6h0M385.6 152.8h0M395.2 158.7h0M375.2 145.2h0M369.1 154.1h0M388.0 158.4h0M392.2 158.5h0M401.0 155.8h0M389.0 156.1h0M409.7 154.2h0M377.1 157.0h0M384.9 156.9h0M392.2 156.0h0M392.3 152.8h0M410.4 155.0h0M384.5 153.8h0M378.9 153.4h0M382.3 142.1h0M374.9 152.9h0M381.9 156.3h0M385.9 152.2h0M375.9 152.6h0M387.9 157.3h0M398.9 152.9h0M384.7 155.7h0M406.1 150.6h0M376.4 155.1h0M391.1 157.6h0M408.9 145.4h0M386.9 154.9h0M391.7 154.1h0M409.2 157.1h0M379.1 153.4h0M397.0 156.0h0M375.2 155.3h0M381.9 154.3h0M394.1 152.3h0M375.9 151.4h0M385.9 157.2h0M407.9 154.0h0M387.0 158.9h0M390.4 157.3h0M403.3 149.0h0M389.3 151.5h0M378.1 152.6h0M382.1 155.7h0M390.6 156.1h0M381.7 157.5h0M399.6 154.1h0M400.0 148.9h0M383.5 158.3h0M398.1 157.6h0M390.7 157.2h0M381.8 156.0h0M382.4 147.7h0M400.4 156.5h0M392.4 157.9h0M397.9 157.4h0M385.7 156.4h0M389.2 157.2h0M391.2 158.9h0M374.1 156.9h0M398.4 153.6h0M410.3 153.9h0M394.5 154.8h0M399.3 154.1h0M387.5 156.7h0M391.2 153.5h0M387.6 155.8h0M396.5 149.8h0M406.6 153.7h0M384.3 157.8h0M369.6 145.0h0M396.6 152.7h0M370.4 156.4h0M404.6 153.3h0M397.7 153.8h0M385.3 152.9h0M383.7 155.9h0M382.7 157.2h0M372.8 156.9h0M394.7 157.9h0M410.0 155.9h0M406.2 155.7h0M380.4 153.7h0M398.7 154.6h0M382.0 152.7h0M387.5 156.5h0M396.1 153.8h0M407.4 149.1h0M385.7 151.9h0M391.8 149.4h0M398.1 156.9h0M394.7 151.1h0M397.6 153.0h0M392.2 156.1h0M376.5 150.4h0M405.0 148.7h0M399.0 145.7h0M392.1 153.3h0M375.2 159.5h0M384.6 158.3h0M385.1 159.3h0M397.5 158.2h0M389.2 158.3h0M385.2 159.3h0M382.5 151.9h0M388.0 157.6h0M389.6 154.2h0M396.7 155.8h0M380.7 151.1h0M401.4 154.1h0M371.3 157.3h0M391.5 153.2h0M385.5 158.4h0M401.4 150.9h0M380.9 151.4h0M397.8 155.3h0M396.8 157.2h0M398.1 157.8h0M410.7 150.5h0M399.6 153.9h0M405.5 151.5h0M375.3 155.8h0M387.1 157.4h0M387.9 155.4h0M397.8 158.3h0M378.5 158.3h0M398.3 152.3h0M380.4 154.3h0M397.1 153.3h0M386.0 157.2h0M382.0 156.6h0M386.4 154.5h0M386.4 157.6h0M381.4 156.5h0M379.8 151.4h0M393.3 154.3h0M393.8 158.5h0M388.5 156.7h0M380.8 158.1h0M386.4 155.4h0M402.0 158.9h0M404.0 152.7h0M407.5 156.1h0M390.7 146.3h0M399.2 151.5h0M393.0 154.4h0M394.6 159.0h0M395.0 157.7h0M388.4 146.6h0M376.3 156.1h0M396.8 146.0h0M399.6 156.7h0M404.8 154.1h0M382.9 146.2h0M394.9 159.3h0M411.8 154.8h0M400.6 154.4h0M396.4 157.3h0M400.9 155.4h0M396.9 157.4h0M389.6 156.2h0M408.4 152.6h0M408.3 154.9h0M370.0 157.9h0M397.2 150.2h0M390.1 155.4h0M386.7 158.0h0M401.7 143.1h0M376.2 155.8h0M393.2 158.9h0M369.3 151.7h0M395.1 158.7h0M378.1 148.5h0M389.7 154.0h0M393.3 151.1h0M405.3 153.9h0M384.1 154.1h0M403.2 156.5h0M388.7 159.0h0M374.2 149.3h0M404.6 155.7h0M388.1 149.1h0M397.0 153.0h0M402.1 154.3h0M380.7 150.7h0M387.3 158.9h0M387.6 152.0h0M376.2 156.3h0M384.2 151.6h0M386.6 158.2h0M373.6 158.8h0M392.4 158.5h0M381.6 157.5h0M390.1 150.5h0M369.0 152.4h0M393.0 157.3h0M386.7 158.4h0M379.3 157.3h0M389.6 155.8h0M377.8 155.1h0M399.6 151.8h0M398.1 156.7h0M400.0 154.0h0M399.5 157.9h0M390.2 153.9h0M382.5 142.2h0M389.5 156.9h0M388.9 155.7h0M396.8 154.3h0M398.6 147.8h0M380.8 156.2h0M394.8 158.0h0M398.7 157.8h0M380.5 150.3h0M401.1 149.0h0M403.1 152.0h0M391.7 157.9h0M406.2 147.3h0M378.8 156.6h0M380.2 154.3h0M386.6 153.8h0M408.4 154.8h0M393.7 144.8h0M388.4 151.3h0M382.6 156.6h0M377.4 155.8h0M376.3 152.9h0M393.8 158.1h0M374.0 154.1h0M394.0 154.6h0M377.1 156.8h0M368.8 154.6h0M388.3 157.8h0M381.4 151.9h0M389.6 157.2h0M379.5 152.8h0M406.5 152.8h0M399.4 156.2h0M402.3 154.5h0M402.5 154.7h0M381.1 156.3h0M390.1 158.1h0M377.7 157.2h0M385.4 156.1h0M370.0 151.6h0M392.2 154.0h0M393.8 152.5h0M403.0 146.0h0M389.0 158.3h0M393.9 158.1h0M386.5 150.6h0M408.4 149.1h0M399.9 147.2h0M386.1 157.6h0M390.1 156.0h0M382.4 151.0h0M386.1 154.2h0M384.1 155.5h0M376.8 151.7h0M387.5 158.0h0M392.3 158.8h0M382.2 152.5h0M392.9 158.6h0M381.4 151.0h0M400.3 155.4h0M390.0 156.2h0M387.0 159.3h0M398.8 157.2h0M396.7 157.3h0M372.6 153.2h0M396.6 151.8h0M396.6 158.8h0M411.0 153.3h0M392.8 156.3h0M407.1 148.7h0M390.6 153.8h0M402.4 154.0h0M397.4 155.8h0M409.9 153.5h0M372.1 149.8h0M406.4 153.5h0M401.7 151.9h0M390.2 153.2h0M385.8 152.2h0M393.1 154.2h0M382.9 155.1h0M389.8 158.9h0M387.3 153.0h0M388.2 157.7h0M388.2 152.6h0M392.4 159.1h0M383.1 152.9h0M394.4 159.2h0M387.7 157.4h0M392.1 157.9h0M380.9 152.7h0M405.0 152.5h0M388.1 157.0h0M402.2 155.6h0M408.9 147.3h0M401.7 151.7h0M382.5 154.6h0M398.4 155.3h0M389.3 152.4h0M378.3 155.8h0M386.4 158.2h0M391.7 152.6h0M376.3 153.0h0M387.3 159.1h0M405.1 151.9h0M379.0 158.0h0M379.3 151.5h0M368.4 151.6h0M386.9 143.9h0M392.1 157.3h0M405.1 158.5h0M395.6 156.3h0M403.1 152.2h0M385.7 153.6h0M382.3 154.9h0M397.2 148.8h0M395.2 158.5h0M379.9 150.0h0M389.4 147.3h0M388.6 158.1h0M385.9 153.4h0M400.3 156.7h0M401.9 152.6h0M393.8 157.9h0M399.3 155.0h0M384.8 151.8h0M406.4 152.4h0M380.7 157.5h0M377.3 155.3h0M376.8 152.2h0M395.4 155.3h0M393.3 158.0h0M391.3 158.9h0M382.4 153.3h0M391.8 157.7h0M384.8 154.6h0M385.8 156.5h0M384.1 157.1h0M384.1 159.2h0M387.5 158.6h0M392.6 152.7h0M387.8 153.7h0M372.1 155.8h0M396.3 154.7h0M383.7 154.0h0M395.5 157.6h0M403.7 154.7h0M396.4 155.5h0M376.3 153.3h0M383.2 152.6h0M372.7 151.9h0M382.8 156.1h0M389.7 149.9h0M369.9 154.6h0M376.5 150.6h0M381.2 154.5h0M392.9 152.0h0M396.8 153.5h0M398.2 148.0h0M400.2 157.0h0M409.3 155.2h0M404.2 155.7h0M404.2 155.3h0M394.9 159.0h0M411.1 145.3h0M368.0 150.7h0M397.1 158.3h0M393.4 151.1h0M390.3 158.1h0M404.1 153.2h0M385.5 159.4h0M395.7 156.1h0M384.3 152.3h0M376.0 156.2h0M390.8 151.6h0M373.6 153.8h0M389.7 152.6h0M408.0 151.9h0M370.3 153.2h0M370.4 151.6h0M379.5 143.7h0M392.1 155.6h0M396.1 154.8h0M376.4 155.0h0M388.8 152.5h0M390.7 156.7h0M391.3 157.6h0M410.1 154.8h0M392.1 158.9h0M377.3 152.0h0M376.3 152.4h0M390.2 157.3h0M386.7 158.9h0M396.5 156.6h0M386.9 158.7h0M376.5 158.2h0M386.6 155.3h0M392.1 157.7h0M388.8 157.6h0M399.8 157.8h0M387.6 157.8h0M383.0 153.2h0M408.2 152.3h0M399.3 155.5h0M394.4 157.8h0M385.1 155.2h0M407.5 153.1h0M400.2 155.1h0M370.1 149.6h0M385.6 153.5h0M384.6 157.3h0M393.3 155.6h0M383.9 145.4h0M373.3 157.7h0M383.9 153.0h0M401.6 154.2h0M384.4 153.7h0M400.8 155.3h0M398.9 153.5h0M379.0 157.9h0M382.9 154.4h0M373.4 156.0h0M392.9 156.4h0M377.1 158.8h0M377.2 157.4h0M383.8 155.4h0M398.6 154.8h0M395.7 157.4h0M394.3 153.9h0M379.1 158.1h0M382.3 154.5h0M374.9 147.0h0M386.6 153.3h0M404.4 152.7h0M383.8 148.3h0M400.2 153.5h0M390.6 152.5h0M392.6 154.1h0M402.9 156.4h0M403.1 153.9h0M395.7 151.2h0M380.6 151.6h0M386.7 157.4h0M396.3 152.0h0M405.0 155.2h0M376.6 145.0h0M406.2 153.3h0M375.8 154.6h0M392.2 155.7h0M393.4 156.7h0M378.4 157.3h0M406.0 151.0h0M388.3 156.4h0M392.2 150.7h0M410.6 152.6h0M396.5 151.3h0M376.7 154.5h0M381.9 154.3h0M409.4 142.2h0M394.1 156.5h0M394.6 156.0h0M402.2 152.3h0M390.6 147.8h0M391.0 158.7h0M401.2 152.6h0M402.9 155.5h0M394.2 157.3h0M374.4 156.9h0M390.5 154.6h0M402.8 154.0h0M388.7 154.7h0M391.6 154.9h0M375.6 151.7h0M384.1 154.8h0M387.8 158.6h0M396.8 152.8h0M380.6 157.7h0M398.4 157.6h0M377.0 155.9h0M390.9 156.1h0M411.8 148.2h0M380.0 158.0h0M371.5 152.5h0M393.9 153.1h0M384.1 155.1h0M403.6 148.8h0M379.5 154.5h0M388.0 156.8h0M391.7 157.6h0M395.5 154.8h0M380.0 158.4h0M398.5 157.8h0M393.3 155.6h0M385.1 157.4h0M392.9 148.8h0M393.9 155.4h0M402.6 149.7h0M389.8 159.7h0M406.0 148.3h0M387.6 154.5h0M388.2 154.2h0M395.4 147.6h0M370.9 148.5h0M378.9 149.8h0M402.2 156.2h0M378.8 157.4h0M396.3 153.5h0M395.9 155.7h0M407.5 155.9h0M374.9 149.0h0M405.9 155.9h0M394.6 149.1h0M390.0 156.0h0M380.0 155.7h0M393.3 157.6h0M393.5 157.2h0M377.5 156.5h0M402.9 150.6h0M403.8 156.4h0M384.4 155.3h0M378.4 155.4h0M377.9 156.4h0M391.5 148.2h0M392.7 158.6h0M373.3 155.1h0M381.2 156.1h0M374.2 158.2h0M390.7 158.1h0M382.5 156.4h0M393.3 152.9h0M397.9 151.3h0M402.9 150.9h0M374.1 150.4h0M369.7 148.9h0M409.1 154.9h0M404.9 154.2h0M405.3 155.2h0M387.1 159.0h0M388.0 155.1h0M394.5 153.8h0M385.9 157.0h0M391.3 159.4h0M397.4 155.9h0M395.9 152.5h0M372.5 152.3h0M381.6 154.3h0M400.6 149.6h0M399.1 150.1h0M383.5 153.2h0M384.5 154.6h0M384.0 155.9h0M381.6 151.3h0M374.5 150.2h0M389.9 155.8h0M380.3 151.5h0M384.8 152.1h0M389.7 157.0h0M390.7 157.7h0M371.9 149.9h0M401.7 155.4h0M377.9 156.9h0M389.2 158.1h0M401.4 153.7h0M387.7 155.8h0M378.7 150.9h0M376.5 153.5h0M383.5 153.5h0M375.3 157.3h0M398.1 157.0h0M392.3 158.8h0M386.8 148.7h0M393.3 156.5h0M397.0 158.3h0M385.4 156.6h0M389.3 145.5h0M391.2 155.9h0M373.6 147.8h0M375.2 148.7h0M385.3 158.6h0M387.4 157.8h0M385.2 158.8h0M389.9 155.3h0M384.8 147.7h0M384.0 157.2h0M386.9 156.0h0M398.6 157.6h0M377.8 148.3h0M369.0 153.8h0M380.6 158.1h0M396.2 154.0h0M390.4 156.1h0M381.1 155.8h0M410.2 156.4h0M399.6 157.7h0M379.2 153.3h0M385.8 158.9h0M393.0 155.8h0M378.8 154.9h0M394.0 158.8h0M383.2 158.2h0M380.3 159.1h0M403.6 152.4h0M388.2 148.8h0M387.4 156.2h0M395.7 150.3h0M373.8 157.2h0M397.1 152.3h0M380.4 143.3h0M385.5 154.5h0M399.6 152.9h0M387.4 156.6h0M386.8 157.1h0M398.9 156.1h0M381.0 157.4h0M399.8 154.9h0M396.6 151.5h0M393.6 152.9h0M388.4 155.1h0M373.6 152.8h0M371.5 149.7h0M404.1 152.7h0M405.3 148.2h0M383.4 153.3h0M369.9 155.1h0M378.2 152.9h0M379.1 157.3h0M374.3 143.4h0M388.0 155.6h0M380.8 153.5h0M387.6 147.6h0M396.1 152.1h0M410.3 147.1h0M374.0 156.6h0M398.0 153.6h0M394.1 154.3h0M398.4 153.7h0M385.7 158.8h0M383.5 156.9h0M396.6 157.5h0M383.9 155.6h0M386.9 153.7h0M392.1 151.9h0M409.9 156.1h0M395.8 157.1h0M380.1 157.2h0M386.7 149.4h0M393.8 158.9h0M399.0 151.8h0M386.6 154.0h0M404.6 156.0h0M382.3 150.2h0M396.5 155.7h0M407.0 159.0h0M392.2 153.3h0M389.9 153.7h0M396.3 158.1h0M378.5 143.9h0M379.7 155.6h0M397.3 155.5h0M377.8 156.4h0M375.7 157.7h0M387.7 159.1h0M383.6 155.3h0M373.4 158.3h0M392.3 155.5h0M375.1 155.3h0M383.3 155.2h0M408.5 149.8h0M392.7 154.8h0M379.8 151.6h0M383.5 150.5h0M384.4 157.7h0M383.6 157.0h0M406.0 151.6h0M376.5 156.0h0M391.0 155.5h0M397.2 155.5h0M397.0 157.8h0M393.1 153.5h0M378.1 155.0h0M396.3 153.6h0M373.6 150.1h0M403.4 155.1h0M401.5 157.2h0M397.9 156.9h0M386.5 155.5h0M394.3 157.7h0M388.4 154.6h0M397.7 149.7h0M373.8 152.2h0M406.7 158.2h0M378.7 158.0h0M392.4 158.8h0M404.4 154.8h0M376.7 149.1h0M406.1 150.4h0M394.5 154.1h0M379.7 156.7h0M403.2 153.8h0M396.4 159.2h0M385.7 154.4h0M391.2 158.8h0M381.7 158.5h0M371.0 153.6h0M380.5 155.8h0M381.7 155.0h0M376.3 153.2h0M393.3 158.0h0M389.3 157.8h0M386.2 156.0h0M391.3 158.3h0M380.7 156.6h0M408.6 155.1h0M393.7 153.3h0M391.5 152.9h0M375.9 156.2h0M396.2 158.1h0M388.7 157.5h0M394.8 151.8h0M380.7 150.3h0M395.6 156.8h0M376.4 155.8h0M383.0 151.1h0M382.6 156.1h0M394.7 157.9h0M394.7 158.8h0M384.0 155.3h0M392.7 155.5h0M383.2 155.7h0M378.7 152.0h0M403.9 148.8h0M391.3 153.8h0M406.0 151.2h0M385.3 156.9h0M386.9 157.3h0M397.9 146.4h0M405.3 157.8h0M399.9 150.1h0M377.5 156.4h0M394.8 156.7h0M388.8 156.3h0M377.5 151.5h0M387.1 145.4h0M392.3 151.3h0M409.6 146.4h0M379.3 156.7h0M385.6 154.6h0M373.9 155.3h0M385.5 156.1h0M371.7 157.4h0M368.2 157.0h0M382.3 155.2h0M380.0 157.5h0M395.1 157.5h0M402.6 152.9h0M388.5 156.1h0M386.0 157.2h0M395.1 156.0h0M375.3 151.5h0M380.3 151.2h0M403.1 156.2h0M394.2 154.7h0M387.0 156.3h0M392.8 153.7h0M386.4 156.1h0M387.8 153.5h0M381.3 150.4h0M386.3 157.5h0M390.9 159.3h0M377.1 147.7h0M367.9 149.1h0M369.8 149.0h0M395.6 151.8h0M377.9 150.5h0M384.5 157.7h0M381.8 151.3h0M391.3 152.6h0M375.3 155.3h0M394.7 144.9h0M369.8 151.1h0M385.1 156.6h0M373.0 157.3h0M380.4 155.4h0M395.6 156.9h0M381.1 156.4h0M393.8 155.1h0M369.8 155.9h0M395.2 147.5h0M386.9 156.6h0M382.7 148.3h0M381.0 155.4h0M370.5 152.9h0M401.4 151.0h0M393.1 157.4h0M388.9 158.1h0M403.7 157.3h0M408.5 151.8h0M386.2 157.8h0M377.1 154.5h0M394.5 154.6h0M382.8 156.5h0M373.4 155.2h0M402.3 152.0h0M383.7 157.6h0M387.5 154.3h0M390.1 155.6h0M393.5 159.1h0M393.1 158.1h0M388.5 159.7h0M396.8 152.2h0M381.7 152.3h0M393.8 151.0h0M393.6 156.5h0M385.7 156.8h0M395.6 155.9h0M384.4 154.7h0M373.0 148.5h0M386.7 157.6h0M393.9 152.5h0M407.0 155.5h0M385.7 156.1h0M394.0 144.1h0M406.0 148.5h0M397.4 157.3h0M378.8 154.5h0M378.9 157.8h0M394.0 156.8h0M385.4 156.5h0M393.5 156.2h0M389.1 155.4h0M384.6 155.8h0M390.0 154.1h0M380.4 154.0h0M386.0 152.6h0M404.2 157.6h0M386.4 154.4h0M377.0 149.3h0M389.9 158.3h0M394.8 151.2h0M388.7 159.5h0M396.4 156.5h0M398.9 153.6h0M385.7 147.6h0M393.2 158.8h0M372.4 153.5h0M384.2 149.8h0M386.4 156.2h0M386.5 147.6h0M408.9 151.3h0M396.2 149.0h0M393.4 159.1h0M389.5 156.7h0M373.2 146.8h0M400.4 154.2h0M371.8 151.9h0M382.6 156.4h0M394.5 158.1h0M394.0 151.1h0M369.4 153.7h0M369.3 154.4h0M407.1 155.8h0M382.2 156.6h0M403.4 144.7h0M390.0 158.4h0M379.6 157.0h0M402.0 156.2h0M402.8 155.0h0M380.1 152.3h0M389.2 153.0h0M397.5 154.4h0M391.1 150.9h0M374.5 156.4h0M395.7 147.4h0M392.4 152.3h0M375.8 147.2h0M381.2 156.9h0M388.2 156.4h0M397.1 157.3h0M405.9 152.6h0M389.0 152.5h0M398.8 158.8h0M390.0 157.7h0M394.3 157.2h0M379.0 152.0h0M383.0 156.4h0M400.2 155.1h0M392.8 157.3h0M395.5 152.4h0M395.6 151.5h0M381.7 156.0h0M380.0 154.2h0M390.2 150.3h0M387.3 158.6h0M381.5 150.6h0M399.0 157.1h0M378.6 154.6h0M392.2 157.0h0M404.2 147.4h0M384.5 156.0h0M383.6 158.9h0M382.8 151.7h0M409.6 154.9h0M390.4 155.2h0M380.2 156.7h0M375.8 156.9h0M383.0 152.7h0M390.6 156.0h0M378.5 157.3h0M383.5 159.1h0M381.6 157.4h0M373.6 148.9h0M380.0 151.9h0M388.2 159.3h0M401.8 151.5h0M395.6 155.2h0M396.1 150.3h0M385.2 158.0h0M386.3 156.1h0M380.7 146.4h0M391.7 149.1h0M379.1 157.2h0M404.1 155.9h0M394.0 152.9h0M407.1 156.4h0M378.6 151.4h0M385.6 143.3h0M385.5 152.7h0M391.8 156.4h0M380.2 157.0h0M399.5 151.6h0M369.2 152.5h0M379.1 153.3h0M405.3 153.1h0M397.5 158.8h0M367.4 147.1h0M397.0 155.2h0M406.6 148.7h0M372.1 152.4h0M390.8 156.4h0M400.3 156.3h0M393.9 157.8h0M376.6 148.5h0M388.2 157.7h0M391.1 152.7h0M393.2 158.3h0M386.0 151.2h0M394.7 155.2h0M389.4 156.3h0M407.1 145.4h0M397.2 157.9h0M387.7 153.9h0M395.8 152.6h0M393.3 158.8h0M396.8 150.2h0M403.6 151.0h0M394.5 155.0h0M407.8 158.0h0M376.7 156.5h0M400.0 157.5h0M389.1 153.9h0M394.2 156.3h0M377.3 157.6h0M403.1 159.0h0M393.8 155.3h0M391.1 156.7h0M380.5 150.7h0M377.6 151.5h0M372.0 153.9h0M375.4 154.4h0M383.9 153.4h0M396.1 151.8h0M398.4 156.3h0M385.6 153.9h0M406.2 150.3h0M376.6 158.4h0M390.1 158.0h0M380.3 151.1h0M395.3 147.8h0M398.3 156.6h0M372.6 145.2h0M389.1 155.8h0M377.8 150.6h0M374.3 157.7h0M389.9 149.8h0M393.4 158.5h0M381.4 156.0h0M390.4 158.6h0M388.5 155.1h0M387.9 152.4h0M399.7 154.5h0M392.6 153.9h0M407.3 157.5h0M401.4 153.8h0M371.9 157.0h0M382.6 153.3h0M383.5 157.2h0M383.7 156.3h0M390.5 157.0h0M394.3 157.0h0M408.3 148.8h0M383.2 156.3h0M398.0 152.5h0M385.6 155.8h0M384.2 156.7h0M404.3 147.7h0M374.8 152.1h0M399.3 146.4h0M370.9 154.1h0M394.6 157.6h0M411.7 150.6h0M388.4 156.0h0M379.4 151.0h0M387.4 156.6h0M389.2 159.6h0M401.0 155.1h0M396.3 158.3h0M388.3 157.9h0M387.6 158.6h0M377.8 157.4h0M388.2 155.1h0M383.2 151.6h0M382.9 154.5h0M383.3 155.7h0M395.1 156.0h0M386.2 154.0h0M394.4 155.4h0M382.8 157.6h0M390.1 159.3h0M393.6 159.3h0M408.2 157.0h0M400.6 159.2h0M383.8 148.1h0M408.9 150.9h0M374.8 156.2h0M395.1 157.6h0M398.0 156.2h0M387.1 158.9h0M390.5 153.0h0M406.4 155.2h0M386.1 155.7h0M387.5 159.1h0M398.2 158.0h0M401.2 156.6h0M374.0 156.7h0M385.2 156.4h0M393.2 152.6h0M407.2 150.0h0M390.4 157.7h0M405.8 147.8h0M389.1 155.8h0M383.5 157.4h0M394.3 150.8h0M374.9 151.9h0M393.8 155.3h0M391.0 158.7h0M388.9 152.6h0M385.9 154.4h0M396.3 150.6h0M385.1 155.0h0M388.1 152.5h0M406.7 154.6h0M387.9 156.6h0M381.5 153.9h0M382.6 157.3h0M405.6 155.6h0M390.6 157.8h0M370.1 147.8h0M395.8 152.3h0M400.0 159.2h0M394.7 155.9h0M390.6 159.6h0M403.5 148.2h0M390.1 148.6h0M371.6 152.4h0M382.4 150.5h0M381.5 156.2h0M391.0 159.5h0M390.7 151.0h0M389.3 159.6h0M386.2 154.6h0M381.4 148.6h0M393.9 156.9h0M395.5 156.4h0M398.0 152.8h0M374.3 156.9h0M377.9 147.8h0M372.5 155.4h0M401.3 151.7h0M386.4 149.3h0M405.9 155.1h0M392.2 157.7h0M399.8 154.5h0M401.3 157.9h0M403.0 147.4h0M387.1 151.9h0M385.5 159.3h0M386.2 157.0h0M384.9 148.6h0M392.5 157.8h0M396.0 155.2h0M387.2 151.5h0M406.1 158.5h0M378.5 150.9h0M379.8 142.9h0M380.9 153.7h0M379.9 156.9h0M394.1 153.1h0M403.9 145.5h0M386.0 158.9h0M391.7 156.5h0M391.8 156.3h0M385.6 158.6h0M386.0 159.4h0M399.0 154.3h0M373.2 142.1h0M375.1 154.9h0M382.1 152.3h0M401.7 151.8h0M392.8 159.2h0M394.2 154.8h0M383.2 157.3h0M375.5 153.9h0M407.1 148.7h0M386.5 158.9h0M387.6 148.2h0M398.8 154.6h0M402.0 152.6h0M379.1 145.5h0M387.5 155.7h0M396.3 155.5h0M389.3 153.4h0M407.3 154.9h0M409.5 155.9h0M379.2 155.7h0M387.5 158.4h0M400.6 155.4h0M389.1 153.2h0M389.3 157.5h0M402.3 148.7h0M396.0 151.2h0M380.1 157.5h0M383.7 152.7h0M396.1 157.9h0M394.1 152.0h0M394.4 157.8h0M395.5 157.2h0M377.1 151.7h0M386.7 157.6h0M393.9 153.4h0M390.1 155.0h0M380.8 155.3h0M381.4 151.6h0M404.6 153.7h0M403.6 155.5h0M407.3 156.7h0M396.2 155.3h0M385.4 158.2h0M392.4 155.9h0M381.5 156.3h0M380.3 155.2h0M373.5 154.7h0M380.7 147.3h0M401.3 156.3h0M401.3 157.2h0M389.2 159.2h0M384.1 150.6h0M393.7 155.5h0M381.6 157.0h0M386.2 155.9h0M393.0 156.6h0M395.6 157.4h0M385.6 155.6h0M392.8 156.1h0M373.5 157.9h0M387.4 155.8h0M390.2 156.3h0M386.3 158.7h0M379.3 153.4h0M384.6 155.1h0M391.3 158.8h0M379.3 158.3h0M384.0 155.9h0M392.8 152.4h0M391.8 157.0h0M382.5 155.4h0M393.0 158.3h0M395.1 146.6h0M402.1 149.6h0M404.9 150.0h0M380.7 154.6h0M383.4 155.6h0M401.9 157.7h0M381.2 155.9h0M395.2 158.4h0M410.2 151.1h0M395.2 156.0h0M378.6 155.6h0M391.0 155.3h0M399.5 155.3h0M388.2 152.0h0M375.7 156.9h0M400.1 157.9h0M386.8 153.0h0M385.1 155.6h0M392.8 154.5h0M390.1 153.5h0M373.6 151.2h0M381.7 154.5h0M382.8 154.3h0M398.7 155.0h0M376.2 157.4h0M395.5 152.6h0M370.6 158.3h0M386.7 157.3h0M407.8 156.9h0M375.7 158.9h0M398.4 151.3h0M381.3 149.4h0M392.2 151.8h0M395.4 158.5h0M408.9 152.1h0M394.2 154.5h0M406.8 152.8h0M397.4 148.8h0M403.0 155.7h0M379.6 156.5h0M381.3 154.0h0M390.9 159.4h0M396.8 156.5h0M382.7 158.1h0M376.8 158.2h0M384.2 158.0h0M393.3 154.3h0M393.4 153.0h0M376.9 158.1h0M385.2 151.7h0M374.9 153.5h0M389.8 152.8h0M394.0 153.3h0M393.4 154.5h0M404.7 151.4h0M399.6 153.9h0M376.4 155.5h0M406.2 150.5h0M399.8 151.0h0M389.1 147.2h0M390.9 152.4h0M390.6 153.9h0M404.1 148.7h0M380.7 154.3h0M371.2 154.4h0M393.9 154.2h0M383.1 150.3h0M384.6 157.9h0M387.3 158.9h0M388.4 156.3h0M409.5 156.2h0M400.0 152.2h0M385.2 152.2h0M389.8 152.7h0M371.1 144.1h0M371.7 154.1h0M386.2 158.6h0M388.1 154.3h0M372.6 151.7h0M407.0 157.0h0M383.0 146.1h0M393.0 157.7h0M410.4 152.0h0M396.3 156.5h0M398.3 156.1h0M399.2 147.8h0M405.3 154.8h0M395.4 158.1h0M388.2 155.1h0M389.4 159.0h0M369.2 154.1h0M392.2 154.4h0M404.6 155.7h0M401.4 155.4h0M388.9 151.5h0M384.6 153.4h0M374.5 147.1h0M387.3 155.1h0M387.1 156.7h0M370.5 153.3h0M398.7 158.5h0M396.9 156.0h0M377.8 158.5h0M399.3 154.6h0M388.7 157.1h0M374.3 154.5h0M389.3 156.8h0M376.0 155.6h0M393.2 154.2h0M395.6 156.8h0M394.6 159.3h0M393.0 154.0h0M387.6 156.7h0M380.7 149.8h0M381.1 152.5h0M404.3 154.5h0M392.9 155.6h0M380.2 156.4h0M387.4 158.8h0M393.3 155.4h0M402.0 155.0h0M384.1 156.4h0M369.4 156.6h0M410.9 154.1h0M389.8 157.8h0M401.9 151.8h0M408.2 152.0h0M375.8 153.8h0M390.5 153.7h0M392.1 152.9h0M391.8 155.7h0M375.0 156.2h0M400.4 152.7h0M380.1 152.0h0M402.8 149.6h0M389.6 153.0h0M395.3 147.9h0M402.8 154.0h0M391.7 147.1h0M408.1 145.5h0M409.2 156.2h0M386.5 158.7h0M385.7 156.1h0M379.4 157.7h0M387.7 156.9h0M400.0 157.2h0M389.8 155.6h0M389.7 157.2h0M402.8 152.1h0M371.9 155.9h0M402.5 149.5h0M409.1 148.0h0M372.5 153.0h0M373.7 154.9h0M379.0 153.8h0M391.6 158.9h0M388.3 158.7h0M386.6 151.4h0M385.9 156.9h0M382.3 153.7h0M391.3 159.0h0M398.0 156.8h0M395.6 150.0h0M396.1 153.8h0M383.2 157.8h0M403.2 150.3h0M372.8 152.4h0M390.6 150.6h0M383.4 157.5h0M391.6 150.9h0M392.7 158.0h0M393.2 157.0h0M382.1 155.3h0M390.2 156.4h0M397.6 157.5h0M385.5 158.5h0M382.5 155.4h0M391.0 156.2h0M403.2 151.1h0M398.6 153.1h0M402.6 145.5h0M392.5 155.7h0M404.2 153.2h0M398.0 152.4h0M399.4 151.2h0M403.3 156.8h0M384.6 157.2h0M379.3 159.2h0M392.1 154.6h0M377.3 151.3h0M386.6 153.6h0M374.2 156.1h0M380.5 158.4h0M378.9 154.1h0M393.1 154.1h0M384.1 155.0h0M387.3 157.3h0M378.3 149.4h0M389.6 152.4h0M399.0 152.4h0M406.4 146.6h0M392.1 157.5h0M386.6 152.7h0M379.2 157.2h0M384.5 151.5h0M400.9 147.8h0M399.3 151.9h0M397.4 152.2h0M386.3 149.4h0M377.3 152.9h0M392.5 154.2h0M392.8 149.0h0M383.7 151.3h0M406.4 153.1h0M373.1 157.2h0M376.5 152.8h0M402.0 156.8h0M392.5 154.2h0M394.2 153.7h0M382.6 157.8h0M380.1 153.1h0M385.4 154.7h0M386.4 152.9h0M387.7 159.5h0M390.6 156.2h0M402.0 152.7h0M392.3 152.5h0M377.9 155.0h0M388.0 156.9h0M387.4 148.2h0M396.6 152.0h0M391.4 155.3h0M382.5 150.2h0M408.5 148.7h0M390.8 149.8h0M410.8 152.1h0M368.2 154.6h0M400.8 151.5h0M375.4 155.0h0M374.9 150.7h0M384.3 157.5h0M398.5 152.2h0M397.2 154.5h0M397.9 157.3h0M378.4 147.1h0M385.8 154.6h0M380.2 155.1h0M377.9 153.4h0M393.1 157.9h0M396.5 148.8h0M376.5 156.6h0M396.6 158.7h0M399.1 157.7h0M388.7 157.7h0M405.0 155.8h0M392.4 157.6h0M390.9 158.6h0M372.3 147.7h0M391.7 151.6h0M389.2 157.8h0M385.3 154.6h0M411.0 147.1h0M406.8 148.2h0M400.0 152.1h0M390.9 159.4h0M383.7 151.3h0M407.7 157.1h0M385.8 152.2h0M385.5 158.4h0M386.7 155.4h0M392.6 158.7h0M395.7 149.0h0M383.1 154.0h0M390.5 157.6h0M395.3 158.9h0M399.3 152.5h0M376.3 157.5h0M378.2 153.0h0M395.6 155.1h0M382.1 157.7h0M387.3 149.2h0M382.3 155.5h0M411.0 153.8h0M375.5 157.0h0M397.5 155.1h0M379.1 151.2h0M383.5 156.8h0M387.4 158.5h0M393.1 159.1h0M380.1 151.2h0M386.4 154.7h0M388.6 158.6h0M388.5 158.5h0M385.2 153.3h0M388.8 159.1h0M395.8 159.1h0M400.2 152.1h0M383.1 154.4h0M403.0 155.9h0M393.6 156.9h0M383.5 149.1h0M402.8 156.4h0M373.3 154.2h0M384.3 155.8h0M397.9 157.6h0M381.4 156.3h0M396.1 146.4h0M388.2 156.0h0M390.0 155.0h0M410.4 154.3h0M400.4 144.5h0M392.1 156.5h0M379.2 155.2h0M392.4 147.5h0M372.0 156.1h0M375.9 151.6h0M375.5 150.9h0M401.4 154.9h0M385.9 151.1h0M383.4 154.2h0M379.3 153.6h0M381.2 155.5h0M379.9 157.8h0M385.5 153.6h0M395.2 159.2h0M401.9 152.7h0M395.2 159.2h0M396.5 154.3h0M392.8 154.3h0M405.0 156.5h0M384.5 158.7h0M409.3 152.4h0M379.8 149.4h0M409.1 151.4h0M385.9 157.9h0M377.8 155.3h0M406.2 154.5h0M382.1 157.0h0M391.0 155.4h0M393.9 156.4h0M397.7 156.2h0M405.3 144.1h0M384.7 148.2h0M371.8 147.2h0M392.8 158.0h0M387.1 159.5h0M387.3 151.8h0M380.3 152.4h0M387.2 157.2h0M390.8 157.1h0M390.4 157.9h0M401.9 148.8h0M401.1 152.2h0M410.9 155.3h0M387.5 148.6h0M401.4 153.8h0M387.2 156.2h0M384.6 158.8h0M379.0 150.1h0M383.6 158.6h0M393.9 158.3h0M376.7 152.1h0M397.2 150.9h0M387.6 159.4h0M395.1 154.1h0M394.5 147.8h0M373.6 156.7h0M381.1 151.7h0M398.3 149.8h0M371.8 155.4h0M372.6 151.6h0M379.9 155.0h0M402.2 149.9h0M393.2 158.6h0M392.3 158.4h0M401.5 156.7h0M373.1 144.8h0M400.6 152.8h0M391.8 150.4h0M404.2 157.9h0M382.3 159.1h0M408.8 158.1h0M409.0 153.8h0M402.4 155.6h0M381.8 152.0h0M390.9 158.7h0M404.1 156.2h0M401.3 154.6h0M395.8 157.7h0M380.1 146.8h0M375.9 152.5h0M380.9 156.6h0M398.1 159.1h0M399.3 151.8h0M395.8 157.0h0M386.9 158.6h0M370.9 157.8h0M391.2 157.9h0M387.9 154.7h0M391.5 155.9h0M378.1 143.6h0M394.7 158.5h0M396.4 150.3h0M395.1 150.3h0M399.9 155.5h0M390.5 155.6h0M384.2 157.9h0M377.4 156.6h0M389.6 157.4h0M390.9 157.9h0M389.5 147.8h0M405.7 157.0h0M377.5 157.2h0M401.3 153.4h0M395.7 154.7h0M400.2 155.4h0M374.2 153.2h0M388.2 150.2h0M371.6 153.3h0M394.9 152.5h0M390.6 159.2h0M385.2 153.4h0M389.4 157.9h0M404.4 153.5h0M389.8 156.2h0M382.9 143.6h0M401.4 150.9h0M379.6 150.3h0M375.8 154.6h0M383.0 158.9h0M391.1 158.7h0M377.5 156.7h0M382.2 153.2h0M375.5 154.4h0M384.0 157.7h0M393.8 147.1h0M388.6 158.6h0M395.0 145.5h0M390.9 159.4h0M384.7 151.7h0M387.2 148.3h0M383.2 148.9h0M399.3 156.0h0M382.4 158.7h0M382.1 158.2h0M393.7 158.5h0M392.4 159.1h0M372.9 145.6h0M382.3 149.4h0M380.3 158.2h0M406.0 150.9h0M384.1 150.2h0M404.2 155.2h0M378.2 153.0h0M398.1 158.5h0M368.6 145.9h0M374.6 155.2h0M400.3 155.8h0M404.2 155.7h0M393.2 159.5h0M387.5 158.3h0M377.2 153.8h0M383.7 157.4h0M369.6 157.6h0M391.8 150.9h0M383.9 153.0h0M389.6 158.7h0M388.6 158.9h0M389.3 159.2h0M380.0 157.5h0M397.9 157.6h0M386.6 152.9h0M398.7 155.0h0M368.3 151.9h0M388.4 158.8h0M394.2 148.8h0M390.9 158.7h0M373.8 152.5h0M388.6 159.4h0M387.2 152.6h0M384.5 154.2h0M388.7 153.4h0M386.4 157.5h0M389.8 158.5h0M389.9 159.3h0M378.2 152.3h0M392.9 148.6h0M391.5 154.2h0M388.0 153.5h0M387.2 156.5h0M376.0 156.0h0M397.1 156.0h0M394.2 151.8h0M401.4 153.7h0M400.0 157.8h0M388.0 159.3h0M387.9 153.4h0M375.3 157.2h0M402.8 153.4h0M384.3 153.3h0M378.6 156.5h0M386.2 155.5h0M402.2 154.0h0M376.1 156.9h0M411.0 153.1h0M382.6 157.4h0M389.3 157.1h0M405.6 155.5h0M390.5 157.3h0M398.1 151.8h0M403.1 159.0h0M403.0 157.0h0M393.3 156.4h0M388.2 155.6h0M386.2 152.9h0M373.8 152.0h0M394.7 154.1h0M391.3 153.3h0M389.5 157.6h0M395.7 153.5h0M380.8 158.4h0M387.2 156.6h0M386.9 155.1h0M399.2 152.8h0M393.0 157.5h0M399.4 157.0h0M379.8 156.3h0M395.4 158.0h0M388.4 157.3h0M397.9 157.4h0M400.5 153.0h0M385.2 158.0h0M380.7 154.0h0M382.8 156.6h0M395.0 156.1h0M397.7 157.0h0M404.4 153.4h0M393.8 149.3h0M381.1 156.7h0M372.6 152.3h0M385.9 156.3h0M385.3 154.7h0M385.4 155.6h0M399.2 149.7h0M387.3 153.8h0M397.7 157.4h0M383.3 152.7h0M376.2 155.4h0M390.6 157.1h0M388.3 156.0h0M397.6 155.2h0M390.3 154.2h0M389.0 158.0h0M395.2 158.1h0M390.1 147.2h0M393.3 157.4h0M387.1 156.6h0M375.6 154.9h0M392.4 146.5h0M394.2 154.1h0M390.1 150.3h0M392.5 157.3h0M402.0 155.7h0M375.0 151.7h0M390.9 153.5h0M392.6 154.5h0M380.5 150.5h0M385.0 157.5h0M379.2 152.3h0M407.8 147.9h0M393.9 159.3h0M374.6 156.6h0M390.9 157.8h0M386.0 158.7h0M381.7 157.6h0M401.8 154.1h0M398.0 157.0h0M385.4 158.8h0M372.2 153.4h0M410.3 153.9h0M404.7 149.5h0M409.8 154.8h0M376.7 151.7h0M389.7 153.7h0M406.8 154.8h0M405.8 157.5h0M381.5 155.8h0M378.3 150.8h0M371.3 153.8h0M387.7 154.5h0M395.0 156.1h0M399.7 157.5h0M392.2 158.6h0M378.3 155.5h0M387.9 155.6h0M390.2 152.0h0M374.1 155.4h0M382.2 155.1h0M390.1 150.9h0M401.5 156.5h0M381.7 154.7h0M392.4 158.3h0M389.7 156.1h0M395.5 158.4h0M384.2 158.9h0M380.5 153.7h0M397.6 154.3h0M384.4 153.0h0M405.3 148.2h0M404.3 143.7h0M381.4 157.6h0M397.4 151.7h0M388.1 153.6h0M399.6 156.0h0M371.1 156.4h0M401.9 155.5h0M387.1 156.7h0M381.0 154.0h0M368.5 156.6h0M381.7 149.7h0M392.0 155.3h0M401.4 154.9h0M385.0 148.4h0M392.5 152.3h0M384.4 156.4h0M398.0 159.1h0M391.6 155.9h0M406.6 153.8h0M392.5 155.9h0M374.0 156.3h0M392.9 158.7h0M403.8 151.5h0M388.2 156.4h0M382.1 153.8h0M375.2 152.8h0M401.1 153.7h0M392.3 157.0h0M398.9 158.5h0M382.6 154.8h0M384.3 155.9h0M385.7 156.8h0M390.4 159.7h0M390.2 157.1h0M411.3 149.3h0M385.1 157.5h0M394.5 157.0h0M390.6 157.4h0M395.8 156.6h0M378.4 158.9h0M398.2 157.6h0M395.7 154.1h0M386.9 153.6h0M385.4 154.9h0M403.5 150.2h0M396.9 154.1h0M408.8 151.7h0M390.4 157.6h0M381.9 155.1h0M376.1 150.2h0M387.7 156.8h0M398.4 158.8h0M397.9 157.8h0M379.2 154.2h0M385.7 156.2h0M395.4 153.1h0M382.3 154.4h0M396.8 150.4h0M405.4 148.4h0M379.7 156.2h0M382.2 153.7h0M383.7 152.6h0M400.3 155.2h0M397.7 158.5h0M378.6 157.5h0M394.8 158.1h0M387.3 149.2h0M378.3 150.9h0M405.1 147.4h0M403.2 150.0h0M367.8 152.8h0M395.2 148.5h0M390.5 152.1h0M397.6 156.1h0M380.0 152.7h0M403.4 156.1h0M400.7 154.7h0M392.9 144.8h0M385.2 153.9h0M379.0 153.3h0M370.6 152.4h0M408.5 151.3h0M398.4 155.2h0M392.0 158.8h0M379.4 153.3h0M382.9 157.4h0M395.6 155.7h0M375.5 153.7h0M387.5 152.9h0M385.4 151.0h0M409.5 155.3h0M387.7 152.8h0M404.7 157.0h0M373.1 152.4h0M381.9 157.0h0M379.3 150.2h0M384.6 157.1h0M391.1 152.9h0M376.2 152.9h0M395.7 152.0h0M386.9 158.6h0M392.2 152.1h0M398.0 157.9h0M392.5 149.3h0M376.8 153.2h0M375.6 156.9h0M393.5 154.5h0M401.3 153.4h0M389.5 155.8h0M396.8 152.2h0M375.8 156.2h0M387.6 158.5h0M389.9 157.6h0M389.6 158.0h0M396.9 156.7h0M373.1 148.0h0M392.7 146.1h0M392.8 158.3h0M372.4 154.8h0M377.2 154.2h0M391.5 155.1h0M388.9 155.5h0M369.8 156.6h0M402.4 155.2h0M393.1 152.7h0M395.1 153.9h0M399.3 155.8h0M392.3 151.5h0M391.7 159.4h0M392.6 152.3h0M374.2 154.8h0M406.0 157.2h0M370.5 148.1h0M411.2 149.9h0M405.0 149.2h0M381.8 151.5h0M369.9 153.7h0M368.6 153.1h0M400.1 147.8h0M392.8 158.2h0M392.8 159.4h0M376.4 153.8h0M396.2 151.7h0M404.0 149.2h0M396.3 157.6h0M389.2 158.1h0M378.1 149.9h0M379.9 153.9h0M394.5 154.2h0M383.4 150.3h0M391.4 158.6h0M379.4 159.2h0M379.2 155.2h0M397.1 155.1h0M392.2 157.8h0M372.4 150.5h0M392.3 154.5h0M391.2 159.0h0M390.8 151.7h0M386.9 158.5h0M378.3 154.0h0M399.1 153.2h0M406.3 155.3h0M397.5 155.8h0M371.9 154.2h0M391.8 153.6h0M397.7 157.5h0M397.1 156.0h0M396.4 156.1h0M391.7 159.2h0M377.5 153.7h0M403.2 155.0h0M392.0 151.2h0M405.0 155.1h0M387.8 157.5h0M403.9 153.7h0M382.5 158.5h0M389.4 153.7h0M387.6 152.5h0M401.7 156.0h0M387.7 155.1h0M370.3 151.9h0M386.6 151.7h0M398.4 156.2h0M374.9 153.1h0M397.6 149.8h0M377.9 152.9h0M398.6 152.8h0M397.5 157.3h0M390.9 157.3h0M385.3 157.2h0M390.0 157.2h0M371.4 148.6h0M392.7 154.2h0M392.1 156.0h0M380.5 157.7h0M387.6 157.6h0M384.0 155.1h0M367.9 152.2h0M387.2 154.5h0M399.5 151.6h0M403.0 154.2h0M394.5 158.4h0M397.3 146.7h0M370.6 150.1h0M401.0 151.1h0M389.3 153.7h0M406.5 155.1h0M383.9 144.7h0M382.1 153.4h0M386.0 157.2h0M384.2 158.7h0M393.7 157.8h0M384.0 158.3h0M376.4 157.1h0M387.9 154.9h0M386.9 156.3h0M379.4 154.7h0M380.6 155.6h0M383.7 154.3h0M370.7 147.1h0M392.4 153.0h0M411.6 149.1h0M392.4 157.8h0M392.4 152.5h0M387.5 152.9h0M409.3 153.3h0M393.3 157.4h0M380.5 151.8h0M377.1 147.4h0M393.8 150.8h0M390.1 155.6h0M387.1 157.1h0M391.4 158.8h0M384.7 154.7h0M377.6 153.8h0M379.9 157.9h0M392.9 157.9h0M383.0 150.0h0M378.1 154.7h0M391.9 153.3h0M400.0 150.4h0M386.7 156.3h0M398.1 151.0h0M394.1 154.8h0M382.4 153.3h0M400.4 155.9h0M402.3 150.9h0M392.8 158.7h0M371.9 149.2h0M386.1 155.8h0M390.1 158.4h0M393.4 155.2h0M386.5 155.4h0M376.3 150.4h0M389.5 159.6h0M395.8 157.9h0M383.4 148.7h0M385.4 149.7h0M396.9 149.1h0M376.9 152.0h0M383.8 153.6h0M389.5 148.5h0M385.8 157.0h0M393.7 157.7h0M398.7 159.3h0M388.8 156.4h0M397.8 155.2h0M395.0 158.7h0M371.6 154.0h0M406.0 156.7h0M390.1 157.6h0M387.1 150.5h0M397.9 144.1h0M383.7 158.4h0M399.2 156.6h0M389.0 152.5h0M378.4 153.8h0M402.9 153.6h0M402.5 157.1h0M387.6 148.6h0M376.1 156.7h0M381.2 146.9h0M375.2 153.5h0M373.8 150.9h0M370.2 154.7h0M407.3 153.2h0M385.7 157.7h0M392.1 158.0h0M393.4 155.5h0M379.8 157.2h0M385.4 156.5h0M398.7 150.0h0M389.2 159.4h0M397.3 153.8h0M389.3 153.7h0M397.6 153.7h0M387.3 157.7h0M407.0 156.8h0M385.3 156.5h0M400.9 151.5h0M380.3 152.7h0M379.9 154.5h0M373.7 152.2h0M382.1 156.1h0M393.3 153.8h0M393.2 149.2h0M397.4 149.6h0M406.1 150.5h0M393.8 156.3h0M379.5 155.1h0M398.6 153.2h0M383.3 156.1h0M394.8 151.4h0M387.4 155.9h0M388.4 156.1h0M381.9 151.1h0M377.9 156.7h0M391.8 153.0h0M405.9 157.6h0M371.6 148.5h0M380.9 154.8h0M404.1 151.3h0M404.8 150.3h0M390.0 155.6h0M400.9 153.3h0M389.4 158.1h0M410.8 152.6h0M392.5 158.7h0M404.9 149.7h0M367.9 156.3h0M389.9 154.2h0M390.8 155.0h0M382.8 155.0h0M394.1 157.5h0M410.0 150.4h0M385.0 158.5h0M373.9 154.2h0M404.6 156.5h0M388.1 154.2h0M390.8 153.9h0M385.3 158.1h0M397.3 158.7h0M407.0 151.8h0M401.8 149.6h0M380.0 155.8h0M398.2 157.7h0M393.2 158.6h0M408.7 154.2h0M381.3 156.0h0M391.1 153.1h0M379.4 148.5h0M400.8 154.5h0M379.2 153.6h0M370.2 156.1h0M395.6 152.8h0M384.7 157.0h0M378.3 149.0h0M406.3 156.9h0M403.0 156.4h0M385.1 154.9h0M391.8 149.0h0M400.0 151.3h0M387.3 158.8h0M372.8 157.7h0M393.7 147.8h0M381.9 149.3h0M385.3 155.0h0M395.5 148.9h0M377.6 152.6h0M372.3 147.8h0M394.2 156.7h0M400.3 158.8h0M384.5 158.2h0M395.4 151.1h0M376.0 154.9h0M398.3 156.6h0M404.8 156.2h0M376.9 155.9h0M384.1 157.5h0M378.6 154.4h0M380.9 149.6h0M381.8 158.1h0M397.7 153.1h0M393.9 159.1h0M395.8 158.8h0M387.0 152.6h0M370.2 147.7h0M382.1 155.6h0M397.8 152.0h0M391.4 150.4h0M402.0 154.6h0M384.8 157.6h0M379.3 148.2h0M387.5 158.1h0M391.8 155.7h0M381.0 149.6h0M384.1 148.0h0M390.9 157.2h0M372.3 154.3h0M390.8 154.4h0M396.0 153.5h0M385.0 157.4h0M385.2 158.5h0M405.5 151.4h0M368.8 146.8h0M409.6 157.3h0M380.0 155.0h0M368.9 151.7h0M393.0 158.3h0M385.7 155.3h0M393.3 155.0h0M396.9 157.6h0M394.3 155.4h0M397.2 151.7h0M381.8 157.8h0M389.8 149.6h0M374.1 150.9h0M398.4 155.2h0M370.4 147.6h0M388.4 155.0h0M381.0 149.1h0M393.7 157.4h0M406.7 155.8h0M397.0 158.6h0M392.2 155.1h0M389.3 153.4h0M400.5 148.5h0M376.1 154.7h0M384.2 156.7h0M389.7 156.0h0M388.6 158.2h0M378.5 157.6h0M391.6 156.6h0M387.8 157.6h0M372.2 154.3h0M404.8 155.9h0M377.8 156.0h0M394.7 150.0h0M370.7 150.5h0M393.9 151.1h0M391.1 159.4h0M395.2 145.1h0M382.3 152.7h0M385.4 154.9h0M387.9 152.1h0M387.9 151.5h0M388.9 156.3h0M379.6 154.3h0M377.5 153.8h0M385.5 150.6h0M377.9 154.6h0M386.4 157.6h0M384.2 153.8h0M407.4 155.7h0M385.8 149.7h0M370.9 157.2h0M397.8 153.4h0M390.2 158.1h0M395.4 147.5h0M396.2 154.0h0M380.2 155.5h0M381.3 155.4h0M406.8 154.1h0M368.3 156.4h0M380.0 156.0h0M401.3 152.2h0M380.1 154.6h0M385.7 154.0h0M380.9 158.5h0M384.3 157.3h0M398.5 156.6h0M387.0 152.4h0M383.8 149.5h0M405.4 146.6h0M371.2 156.4h0M382.3 151.3h0M393.9 155.7h0M388.4 150.8h0M389.0 155.5h0M386.7 155.1h0M383.7 157.1h0M397.7 155.0h0M395.7 154.5h0M376.1 152.2h0M397.0 156.4h0M391.0 150.2h0M391.2 157.7h0M376.8 149.8h0M389.7 155.5h0M374.6 155.7h0M395.4 155.4h0M384.0 158.9h0M381.7 156.5h0M390.8 155.5h0M408.8 153.2h0M379.2 154.4h0M398.0 153.8h0M397.8 156.8h0M374.7 151.4h0M396.7 155.1h0M404.6 153.3h0M390.7 159.4h0M392.2 158.0h0M396.1 153.6h0M385.9 148.5h0M372.3 153.1h0M398.5 154.3h0M401.8 155.9h0M378.4 156.8h0M375.1 153.4h0M388.7 155.9h0M368.9 152.1h0M386.1 155.8h0M389.7 153.7h0M389.8 158.9h0M400.1 156.2h0M380.6 156.2h0M385.2 149.6h0M384.3 157.2h0M389.7 157.5h0M385.3 156.9h0M392.8 149.4h0M379.4 152.2h0M378.3 157.4h0M370.4 153.6h0M383.6 158.4h0M403.5 152.5h0M377.3 152.3h0M377.9 155.0h0M390.7 153.8h0M380.5 154.6h0M383.1 158.1h0M395.3 157.8h0M376.0 155.5h0M381.6 153.1h0M394.1 152.8h0M399.1 154.1h0M387.3 156.5h0M386.0 157.5h0M410.9 145.7h0M390.5 148.1h0M385.8 154.3h0M399.7 150.5h0M394.6 154.9h0M369.3 156.6h0M390.1 153.7h0M379.0 158.1h0M378.1 149.9h0M393.6 156.0h0M386.4 158.9h0M398.8 156.5h0M378.0 154.1h0M385.6 157.5h0M394.4 155.9h0M399.9 149.8h0M379.6 151.3h0M406.7 151.6h0M395.2 159.2h0M398.4 150.8h0M385.8 157.8h0M381.7 148.5h0M386.4 157.1h0M407.4 158.8h0M372.6 152.4h0M384.5 152.0h0M392.1 157.8h0M393.7 155.9h0M377.8 157.6h0M398.1 154.5h0M391.3 156.6h0M382.7 156.8h0M375.0 151.6h0M374.6 157.4h0M385.9 154.4h0M396.4 147.2h0M392.0 150.2h0M390.5 158.6h0M390.8 151.3h0M378.4 155.5h0M403.6 152.4h0M398.8 151.7h0M383.4 150.1h0M387.0 154.7h0M393.7 153.6h0M382.5 143.9h0M381.7 158.2h0M385.8 156.7h0M381.7 156.9h0M404.6 158.5h0M403.5 155.7h0M393.2 154.8h0M393.7 158.2h0M382.4 157.3h0M397.4 158.0h0M387.6 159.5h0M383.4 155.9h0M385.8 154.1h0M384.8 157.0h0M392.7 156.0h0M388.2 158.1h0M374.2 156.2h0M400.0 157.0h0M386.3 158.9h0M399.0 152.1h0M389.5 159.5h0M384.7 147.7h0M391.9 158.4h0M399.9 156.2h0M402.9 158.6h0M388.4 149.5h0M399.4 154.0h0M402.0 153.8h0M381.4 158.2h0M396.5 158.0h0M382.1 155.1h0M398.5 153.7h0M376.6 154.5h0M384.5 154.5h0M390.8 152.2h0M386.4 154.6h0M400.2 153.6h0M376.5 154.4h0M393.8 152.6h0M381.8 157.4h0M393.7 155.2h0M372.4 152.2h0M406.4 157.2h0M405.6 153.4h0M382.5 153.0h0M381.1 152.9h0M371.4 151.4h0M403.0 153.5h0M390.2 155.4h0M387.3 158.8h0M390.8 155.3h0M392.9 147.4h0M391.2 156.6h0M374.1 150.6h0M375.8 152.5h0M382.7 158.4h0M396.9 155.4h0M390.6 153.1h0M394.7 148.5h0M382.8 150.2h0M391.2 158.7h0M388.9 157.8h0M387.8 156.4h0M394.4 155.7h0M388.9 158.0h0M400.0 153.9h0M386.1 155.6h0M395.8 154.3h0M376.6 150.2h0M396.9 157.8h0M377.7 156.9h0M380.0 152.4h0M402.5 152.9h0M397.0 152.4h0M402.0 157.3h0M393.9 155.4h0M405.9 158.0h0M392.0 154.7h0M395.7 156.1h0M380.1 155.3h0M393.0 157.2h0M375.9 155.1h0M394.4 158.0h0M384.2 157.5h0M402.2 150.1h0M369.3 156.2h0M391.7 155.7h0M398.5 157.8h0M380.6 156.8h0M374.2 154.9h0M385.2 157.7h0M369.3 158.2h0M375.0 157.1h0M400.0 152.3h0M386.0 157.1h0M390.2 159.0h0M388.9 150.5h0M371.2 154.0h0M395.2 159.3h0M394.1 156.6h0M392.5 152.9h0M395.5 156.1h0M396.8 158.0h0M406.1 155.6h0M406.8 147.7h0M392.9 157.0h0M385.8 155.6h0M388.5 158.7h0M410.3 152.1h0M405.7 154.7h0M374.2 157.3h0M394.1 153.8h0M392.2 157.7h0M379.2 156.8h0M397.8 153.1h0M383.5 157.8h0M405.9 154.3h0M382.3 159.3h0M402.0 152.4h0M378.4 154.3h0M394.6 158.0h0M396.1 159.0h0M374.8 156.0h0M383.1 157.4h0M376.7 156.6h0M402.0 156.6h0M395.5 157.2h0M396.1 154.8h0M398.7 157.9h0M398.5 155.4h0M402.7 157.3h0M400.5 154.1h0M384.5 157.5h0M380.8 158.4h0M393.9 157.5h0M397.6 158.2h0M397.1 157.4h0M392.6 156.2h0M404.6 147.3h0M375.7 153.1h0M381.9 155.1h0M376.1 157.0h0M395.1 158.7h0M378.0 147.2h0M395.7 157.3h0M379.2 153.2h0M385.8 158.0h0M396.9 158.3h0M386.1 158.4h0M410.3 153.9h0M400.2 155.0h0M381.4 154.2h0M389.3 159.5h0M388.3 157.2h0M392.0 152.1h0M381.7 156.7h0M386.9 157.9h0M380.1 152.9h0M386.1 153.4h0M379.8 157.9h0M401.7 148.5h0M367.8 152.7h0M388.1 155.3h0M403.3 158.3h0M392.6 156.1h0M387.3 151.5h0M390.7 155.4h0M374.9 152.7h0M386.1 153.3h0M393.1 158.7h0M377.9 154.2h0M399.3 153.5h0M382.2 158.5h0M388.9 156.2h0M394.5 153.2h0M408.8 154.0h0M395.7 155.5h0M403.7 151.4h0M391.9 156.3h0M382.1 153.1h0M410.6 154.3h0M377.5 152.5h0M387.1 155.1h0M382.0 153.0h0M386.6 154.7h0M380.2 156.1h0M400.9 145.4h0M383.4 156.4h0M395.7 157.0h0M391.3 154.9h0M388.2 151.9h0M391.0 158.2h0M394.9 148.9h0M392.8 151.6h0M402.7 155.1h0M403.4 150.1h0M375.8 155.2h0M401.0 152.6h0M391.8 154.1h0M386.4 155.4h0M380.9 155.3h0M380.4 156.0h0M381.1 155.4h0M394.9 157.9h0M384.4 153.2h0M377.7 152.2h0M391.3 156.7h0M372.8 144.6h0M369.5 157.4h0M399.7 149.3h0M395.9 158.9h0M395.9 155.9h0M403.9 156.2h0M392.1 157.8h0M379.5 143.9h0M389.1 158.3h0M389.5 155.1h0M401.2 155.0h0M382.3 154.0h0M388.3 151.3h0M369.1 157.8h0M389.0 151.8h0M407.9 155.3h0M381.5 156.0h0M382.4 157.1h0M391.2 156.7h0M385.4 155.8h0M398.3 144.6h0M383.0 157.7h0M402.5 151.9h0M390.1 157.8h0M405.0 153.9h0M400.4 152.8h0M401.0 154.8h0M406.1 152.3h0M394.2 148.2h0M393.2 158.1h0M401.8 153.1h0M389.3 158.5h0M399.6 153.3h0M374.8 149.7h0M383.0 157.2h0M384.3 154.0h0M393.6 156.6h0M387.2 154.6h0M394.5 155.5h0M386.6 155.0h0M391.3 155.9h0M395.6 155.7h0M410.0 148.1h0M388.2 159.1h0M383.8 154.8h0M402.2 154.8h0M391.4 151.4h0M401.4 151.4h0M388.5 156.1h0M369.5 154.3h0M376.8 157.5h0M387.9 149.5h0M399.8 157.4h0M371.4 152.8h0M404.2 150.4h0M388.4 157.2h0M388.6 155.1h0M404.7 151.0h0M388.0 156.2h0M400.4 157.0h0M373.7 148.3h0M394.8 155.6h0M406.1 151.7h0M397.1 153.8h0M390.3 151.1h0M391.9 155.8h0M388.8 152.5h0M385.8 154.1h0M383.1 157.5h0M394.3 149.4h0M403.7 154.7h0M379.3 156.5h0M398.1 152.1h0M384.2 151.8h0M400.1 155.3h0M409.4 151.8h0M388.3 154.3h0M387.6 159.4h0M393.6 157.3h0M368.5 150.9h0M385.4 157.6h0M391.5 157.6h0M384.0 155.5h0M401.2 154.6h0M374.5 151.7h0M401.7 155.4h0M391.5 156.1h0M392.8 159.3h0M371.8 155.9h0M402.7 157.9h0M392.3 155.6h0M386.3 152.9h0M407.6 154.1h0M394.4 150.1h0M380.8 149.6h0M394.6 158.0h0M392.1 158.9h0M404.3 152.1h0M388.8 158.8h0M386.8 149.5h0M390.6 155.7h0M395.4 154.7h0M388.7 151.2h0M402.5 150.4h0M373.8 157.1h0M382.9 148.6h0M386.8 153.9h0M383.6 153.5h0M397.8 157.3h0M372.3 152.1h0M378.4 155.2h0M376.9 153.3h0M394.5 153.8h0M405.2 145.9h0M400.6 152.8h0M394.4 155.8h0M398.5 157.2h0M376.6 152.7h0M394.4 151.2h0M387.5 152.6h0M391.9 152.7h0M396.9 153.0h0M387.4 158.3h0M400.4 154.9h0M382.9 153.3h0M377.0 156.5h0M391.6 155.3h0M373.9 153.5h0M388.2 154.6h0M406.4 154.0h0M386.8 158.3h0M385.8 155.0h0M402.2 149.5h0M386.5 150.7h0M386.4 152.8h0M393.7 153.8h0M402.1 150.7h0M400.7 156.0h0M394.8 157.2h0M394.6 154.2h0M379.8 154.3h0M386.3 152.1h0M390.4 157.8h0M386.0 155.6h0M396.6 155.7h0M387.7 156.5h0M394.3 152.2h0M374.0 155.8h0M371.6 154.3h0M385.8 151.1h0M391.9 154.9h0M398.8 158.6h0M410.4 153.1h0M394.1 150.4h0M388.9 158.6h0M408.6 159.1h0M391.9 154.1h0M388.3 149.1h0M384.4 159.3h0M382.3 149.3h0M374.9 152.6h0M379.1 154.7h0M387.3 159.4h0M405.8 154.0h0M408.3 149.0h0M403.6 157.0h0M406.4 154.1h0M396.3 154.4h0M391.0 149.9h0M404.2 154.0h0M398.0 157.2h0M380.8 156.3h0M410.1 152.0h0M410.2 153.8h0M390.9 149.9h0M397.9 155.0h0M374.9 157.8h0M394.5 156.5h0M386.4 154.2h0M378.4 148.7h0M402.3 149.8h0M405.9 156.8h0M390.7 154.1h0M391.2 159.2h0M375.5 152.8h0M398.9 144.6h0M386.6 159.2h0M380.0 158.5h0M401.8 150.9h0M402.5 155.9h0M390.6 149.9h0M380.0 151.1h0M374.1 153.8h0M395.3 155.4h0M391.6 157.5h0M377.5 152.1h0M409.0 155.6h0M380.9 156.2h0M383.9 158.3h0M392.1 156.2h0M405.6 150.1h0M399.0 155.1h0M395.4 158.1h0M375.9 156.4h0M387.2 152.1h0M382.8 158.0h0M380.9 157.1h0M399.7 150.6h0M387.9 153.6h0M381.3 154.2h0M396.2 152.2h0M372.1 154.4h0M397.6 155.9h0M375.7 159.0h0M382.6 155.2h0M397.9 154.8h0M397.0 155.6h0M388.8 158.5h0M392.7 152.4h0M398.3 153.9h0M401.8 158.2h0M392.2 157.5h0M376.7 152.2h0M403.6 148.8h0M407.1 159.1h0M398.4 147.3h0M401.9 153.2h0M379.3 158.8h0M406.9 157.1h0M405.4 157.3h0M382.4 151.6h0M390.9 155.5h0M377.1 155.8h0M385.5 151.7h0M409.9 155.4h0M392.5 159.4h0M375.0 154.7h0M393.2 154.5h0M394.2 152.9h0M391.2 159.2h0M403.4 155.6h0M394.2 157.5h0M395.5 158.7h0M397.2 148.3h0M389.1 155.3h0M382.0 158.1h0M371.6 155.1h0M400.6 156.0h0M402.3 154.1h0M389.6 156.8h0M382.9 158.0h0M387.7 149.6h0M396.5 156.6h0M385.2 157.4h0M386.3 151.7h0M398.5 152.7h0M390.9 155.4h0M374.1 153.3h0M390.8 157.8h0M406.1 154.9h0M401.5 152.8h0M388.9 155.1h0M396.9 152.4h0M407.9 151.3h0M396.2 153.5h0M394.8 151.9h0M386.6 155.0h0M390.5 158.2h0M382.7 148.7h0M381.8 151.5h0M388.4 154.9h0M397.3 156.4h0M403.0 150.7h0M386.1 156.2h0M379.2 158.7h0M383.9 152.7h0M404.2 152.8h0M394.6 155.0h0M403.2 153.8h0M373.6 154.6h0M386.8 155.3h0M378.7 155.7h0M399.3 156.8h0M390.2 156.8h0M379.4 151.9h0M394.0 158.7h0M404.6 148.4h0M380.7 155.5h0M372.2 154.9h0M391.9 155.9h0M390.1 158.4h0M378.9 153.0h0M385.0 152.5h0M399.1 157.8h0M379.9 158.0h0M368.7 157.4h0M395.8 158.1h0M381.8 157.3h0M382.8 147.0h0M397.3 147.2h0M367.4 152.9h0M375.3 151.8h0M376.2 158.1h0M401.5 154.9h0M381.8 151.7h0M389.9 159.6h0M385.6 149.8h0M405.1 157.7h0M405.5 156.9h0M392.1 151.2h0M392.7 156.8h0M399.7 156.8h0M396.1 158.4h0M382.3 152.1h0M381.2 156.7h0M404.4 155.6h0M385.4 156.7h0M386.0 158.9h0M392.6 156.7h0M383.7 157.8h0M390.2 154.8h0M383.0 158.1h0M394.9 155.7h0M399.9 159.1h0M377.2 154.3h0M375.8 149.5h0M391.4 157.5h0M402.0 156.0h0M399.5 159.1h0M378.1 157.4h0M379.7 155.5h0M389.6 159.0h0M387.0 155.7h0M399.8 153.4h0M370.0 154.1h0M395.5 154.7h0M379.0 156.9h0M390.7 155.1h0M396.7 157.2h0M385.8 154.7h0M390.2 156.6h0M404.7 158.2h0M389.6 156.4h0M401.9 153.0h0M376.3 155.1h0M383.8 155.9h0M394.2 154.7h0M399.4 149.6h0M394.1 157.8h0M387.4 154.7h0M405.5 154.3h0M372.1 152.9h0M383.0 155.0h0M409.1 157.6h0M401.7 151.3h0M389.2 153.9h0M391.0 141.8h0M410.8 148.9h0M406.8 158.1h0M408.8 156.9h0M399.0 155.8h0M384.4 158.1h0M387.7 153.3h0M375.7 153.0h0M398.2 155.1h0M389.9 159.5h0M395.2 143.4h0M397.6 156.5h0M388.3 158.2h0M403.6 157.1h0M409.6 147.9h0M368.3 153.4h0M399.4 153.2h0M371.9 155.5h0M377.1 157.0h0M392.7 159.3h0M383.9 156.7h0M401.4 154.1h0M381.4 156.0h0M391.0 155.9h0M381.7 156.6h0M383.1 151.5h0M383.2 144.4h0M392.4 157.7h0M370.8 157.1h0M387.1 155.2h0M385.0 156.4h0M392.8 159.0h0M377.6 156.8h0M387.7 156.6h0M398.9 157.3h0M371.5 156.4h0M391.7 151.0h0M394.7 155.0h0M390.5 159.4h0M384.2 155.2h0M391.5 152.4h0M400.9 157.2h0M391.2 159.6h0M402.2 155.4h0M382.2 158.1h0M385.5 155.8h0M393.8 149.7h0M386.4 157.5h0M387.4 153.4h0M384.2 158.0h0M390.8 154.9h0M409.2 154.2h0M405.8 157.7h0M385.0 158.1h0M374.1 152.7h0M391.2 158.8h0M409.6 155.5h0M371.4 151.0h0M384.9 156.7h0M386.8 153.5h0M400.0 158.0h0M398.4 155.6h0M393.3 154.6h0M385.7 156.5h0M384.1 149.6h0M383.4 156.6h0M392.3 157.5h0M395.6 154.2h0M388.9 159.0h0M391.4 159.4h0M391.0 155.5h0M401.3 157.9h0M379.1 154.9h0M398.0 149.2h0M371.8 154.7h0M405.6 155.1h0M387.9 158.1h0M395.4 154.7h0M389.0 152.7h0M389.7 159.5h0M381.4 158.0h0M375.8 155.1h0M406.0 158.0h0M398.3 155.1h0M392.5 153.4h0M388.8 146.4h0M388.1 158.5h0M373.9 157.2h0M394.7 149.8h0M382.7 157.8h0M390.3 151.2h0M390.6 154.2h0M396.6 159.1h0M391.7 152.2h0M386.2 157.7h0M398.2 154.1h0M405.0 154.9h0M383.7 154.3h0M368.4 155.6h0M395.0 158.3h0M406.3 155.8h0M369.0 151.2h0M392.5 155.3h0M378.6 147.2h0M382.6 150.3h0M407.7 155.3h0M386.5 156.5h0M393.2 155.5h0M402.3 154.6h0M396.2 154.0h0M380.9 147.6h0M405.5 157.6h0M401.3 154.7h0M411.2 152.9h0M410.8 152.8h0M386.7 158.5h0M393.6 156.9h0M373.5 149.3h0M400.4 156.3h0M372.2 154.7h0M382.5 152.8h0M379.1 150.7h0M383.9 151.7h0M383.0 156.1h0M371.4 150.5h0M383.3 156.6h0M409.1 141.7h0M408.2 154.3h0M401.0 155.6h0M385.0 159.3h0M401.1 149.5h0M384.7 155.9h0M395.3 156.5h0M386.6 153.6h0M384.2 157.8h0M406.4 155.0h0M399.5 154.5h0M390.1 157.3h0M407.5 154.1h0M394.7 157.0h0M397.1 155.1h0M397.3 156.4h0M374.9 156.1h0M404.3 156.6h0M387.5 155.8h0M384.3 155.9h0M404.6 151.5h0M379.3 158.6h0M383.4 154.7h0M375.8 154.8h0M388.6 150.7h0M388.2 159.4h0M387.0 158.1h0M392.6 155.9h0M389.7 155.6h0M398.6 157.5h0M394.5 155.7h0M390.4 154.3h0M385.6 149.8h0M393.0 156.6h0M390.7 152.6h0M409.9 149.9h0M405.4 148.2h0M399.9 153.2h0M383.0 154.8h0M386.0 150.9h0M372.7 151.8h0M375.6 152.5h0M406.1 154.7h0M383.2 148.2h0M376.6 157.9h0M400.7 155.7h0M384.2 158.2h0M389.1 154.8h0M381.7 156.8h0M404.0 154.3h0M391.6 150.1h0M384.8 151.9h0M393.7 155.2h0M388.9 158.5h0M404.1 156.2h0M408.2 156.3h0M377.6 157.9h0M376.5 152.6h0M392.3 154.5h0M397.4 151.8h0M407.6 154.7h0M392.2 157.5h0M399.4 156.1h0M377.3 154.3h0M388.4 155.0h0M368.3 153.0h0M393.6 155.1h0M389.8 144.1h0M388.4 155.3h0M409.0 155.7h0M388.6 158.6h0M403.5 154.0h0M382.8 157.5h0M386.2 148.1h0M411.4 154.9h0M378.6 149.0h0M384.9 157.8h0M391.2 155.9h0M407.5 150.9h0M377.5 154.6h0M385.9 156.0h0M375.0 158.9h0M379.0 150.0h0M402.6 148.7h0M388.5 156.0h0M392.5 154.3h0M374.3 154.1h0M382.8 157.5h0M401.1 157.9h0M387.6 154.5h0M387.0 144.0h0M379.5 152.4h0M406.8 151.9h0M381.0 152.5h0M383.8 151.5h0M404.7 153.9h0M411.7 156.3h0M376.6 155.4h0M381.2 151.0h0M374.9 155.7h0M395.3 152.1h0M380.9 154.9h0M384.2 154.8h0M383.8 152.7h0M397.8 158.1h0M410.1 155.3h0M391.7 146.4h0M399.4 150.5h0M382.8 156.6h0M388.8 156.4h0M377.1 155.8h0M394.0 151.6h0M392.6 151.5h0M403.9 156.4h0M400.6 156.7h0M402.6 156.1h0M387.7 157.6h0M383.4 157.8h0M407.0 155.4h0M377.2 155.5h0M399.9 152.0h0M397.3 157.9h0M387.0 155.8h0M368.8 156.6h0M370.4 152.1h0M396.6 150.3h0M403.0 156.8h0M391.6 152.1h0M403.4 155.4h0M391.5 157.0h0M387.2 154.1h0M394.9 156.2h0M385.4 157.7h0M387.5 150.1h0M401.2 157.2h0M380.0 151.1h0M403.1 156.3h0M381.1 155.1h0M393.6 150.1h0M405.6 156.5h0M369.9 154.5h0M402.5 155.3h0M386.7 158.8h0M389.8 156.9h0M405.8 155.4h0M379.6 150.9h0M399.5 158.4h0M396.3 158.4h0M386.8 152.7h0M406.0 155.9h0M409.8 156.8h0M393.8 151.9h0M384.6 154.7h0M399.9 151.2h0M401.9 154.0h0M388.6 158.0h0M405.7 155.0h0M386.4 153.9h0M383.3 155.0h0M388.1 156.1h0M378.4 152.4h0M383.6 151.9h0M396.8 154.9h0M381.4 157.5h0M399.9 156.7h0M389.9 146.8h0M389.1 158.2h0M401.6 151.8h0M397.2 154.1h0M396.2 155.4h0M379.2 153.7h0M408.2 154.6h0M390.5 158.0h0M397.9 148.4h0M389.1 152.5h0M380.0 148.8h0M385.4 155.4h0M392.6 154.5h0M389.0 157.3h0M398.6 158.7h0M393.5 157.8h0M387.0 146.1h0M381.5 157.5h0M371.5 157.6h0M381.6 157.9h0M385.1 151.2h0M377.9 156.2h0M391.8 149.0h0M386.0 158.4h0M395.0 159.1h0M390.6 158.5h0M381.4 155.0h0M404.1 156.3h0M384.4 156.5h0M387.0 158.8h0M394.2 148.1h0M404.1 158.5h0M380.7 152.4h0M387.9 153.7h0M375.6 151.7h0M397.6 152.7h0M396.2 157.1h0M393.0 157.6h0M370.9 151.5h0M388.2 154.7h0M376.5 155.3h0M393.5 152.4h0M386.2 158.7h0M395.8 155.5h0M390.0 155.2h0M393.8 157.2h0M373.0 156.9h0M380.5 157.5h0M378.9 156.2h0M381.2 154.0h0M379.5 156.1h0M385.4 155.3h0M375.9 155.4h0M385.4 148.4h0M380.1 152.5h0M369.5 156.1h0M389.1 159.4h0M395.4 152.1h0M396.5 147.7h0M392.4 158.8h0M387.3 154.1h0M382.9 157.4h0M392.1 154.5h0M390.2 156.2h0M397.2 147.3h0M383.2 157.3h0M375.6 152.8h0M394.2 157.7h0M375.1 158.4h0M399.6 158.4h0M407.9 153.1h0M386.5 153.7h0M397.6 156.1h0M396.4 152.8h0" stroke="#262626" stroke-width="1.15" stroke-linecap="round" fill="none" opacity="0.88"/>
<path d="M366.9 147.1h0M327.8 149.4h0M367.2 146.4h0M337.2 154.2h0M342.7 149.7h0M364.1 149.8h0M356.7 152.2h0M352.7 153.0h0M350.5 146.8h0M354.0 150.1h0M348.1 151.2h0M341.5 147.4h0M358.1 151.7h0M361.1 150.0h0M365.2 149.7h0M348.7 153.7h0M365.9 147.7h0M364.0 152.4h0M364.6 153.4h0M367.2 146.2h0M354.4 147.2h0M337.4 149.1h0M365.7 150.3h0M336.4 147.4h0M366.4 147.3h0M365.7 147.1h0M365.8 149.4h0M367.2 146.3h0M353.0 151.6h0M360.1 151.4h0M350.7 153.8h0M347.9 148.2h0M354.8 153.9h0M363.0 147.6h0M360.3 146.1h0M338.7 152.4h0M338.9 149.6h0M364.7 153.1h0M353.5 152.6h0M356.1 142.6h0M351.8 149.8h0M359.9 151.7h0M325.3 149.1h0M333.0 151.1h0M357.6 148.0h0M341.5 154.8h0M361.3 145.2h0M358.9 148.7h0M366.4 150.0h0M362.6 145.2h0M365.4 149.1h0M366.8 150.7h0M364.1 150.5h0M365.9 146.9h0M358.1 146.5h0M366.7 149.8h0M354.0 149.7h0M343.9 152.3h0M362.8 145.6h0M365.9 152.7h0M356.2 148.5h0M359.6 147.9h0M335.2 150.7h0M417.3 150.3h0M425.9 144.6h0M418.0 154.2h0M416.3 149.6h0M419.2 152.2h0M440.7 154.1h0M417.2 149.3h0M421.5 151.0h0M439.0 151.3h0M422.3 150.5h0M414.7 149.8h0M414.7 153.1h0M423.2 152.9h0M437.5 149.6h0M414.1 149.2h0M442.0 150.4h0M419.9 144.4h0M413.6 151.3h0M437.2 150.6h0M435.6 153.9h0M416.3 147.4h0M415.6 149.6h0M435.7 144.1h0M415.2 149.0h0M414.9 147.5h0M413.2 149.3h0M419.8 147.0h0M430.4 146.9h0M420.2 145.4h0M412.7 143.0h0M421.2 143.0h0M421.4 149.8h0M421.6 152.6h0M418.8 147.9h0M433.7 147.9h0M422.3 147.5h0M449.3 145.1h0M416.0 147.2h0M414.6 148.4h0M414.2 151.0h0M415.1 147.9h0M416.2 148.7h0M415.4 151.1h0M425.0 142.6h0M414.8 149.4h0M428.5 143.4h0M412.7 150.4h0M413.2 149.9h0M454.1 148.6h0M418.3 144.5h0M412.8 148.2h0M434.6 148.3h0M414.5 147.8h0M416.7 145.3h0M414.8 152.5h0M412.1 152.9h0M434.4 150.1h0M428.7 150.6h0M419.7 146.2h0M428.5 152.7h0M439.6 150.0h0M432.7 150.5h0M422.5 143.1h0M419.9 150.3h0M417.3 152.0h0M414.6 149.7h0M431.5 151.4h0M417.9 151.4h0M418.8 152.3h0M423.0 153.7h0M422.2 143.0h0M420.4 147.5h0M417.1 147.5h0M441.7 148.5h0M419.2 148.3h0M420.5 147.4h0M434.6 149.6h0M444.2 148.8h0M417.8 145.6h0M414.2 147.8h0M423.8 151.4h0M419.0 146.4h0M439.7 153.4h0M438.6 150.0h0M419.6 153.0h0M426.1 145.7h0M430.2 150.9h0M433.5 144.1h0M413.8 146.3h0M425.2 152.2h0M413.9 147.6h0M447.0 154.9h0M416.2 147.6h0M412.6 152.8h0M431.0 146.9h0M427.2 150.4h0M433.4 153.5h0M443.4 148.5h0M420.7 145.7h0M430.5 147.0h0M413.7 150.0h0M429.1 149.5h0M436.0 144.3h0M421.7 147.8h0M415.1 145.5h0M412.8 148.6h0M415.4 149.1h0M420.7 147.1h0M412.9 152.8h0M448.7 151.9h0M439.7 149.3h0M414.1 149.7h0M421.0 150.1h0M428.2 150.4h0M423.9 153.6h0M423.3 148.6h0M425.1 147.0h0M442.3 147.1h0M425.6 145.8h0M418.2 151.8h0M412.4 151.4h0M414.5 153.0h0M423.8 142.5h0M427.5 148.9h0M421.9 152.9h0M413.7 145.6h0M412.1 144.1h0M425.7 147.2h0M420.7 149.3h0M452.8 147.3h0M417.2 153.8h0M415.6 150.2h0M446.3 149.6h0M418.4 148.5h0M417.9 149.7h0M419.7 150.3h0M448.0 151.1h0M419.5 147.1h0M421.4 153.9h0M416.0 146.2h0M420.1 146.8h0M422.2 144.5h0M422.8 146.3h0M449.1 151.5h0M420.8 151.2h0M416.4 142.8h0M416.3 144.9h0M422.6 150.8h0M421.6 154.2h0M415.0 151.3h0M413.1 152.5h0M419.5 148.1h0M420.6 153.2h0M425.2 153.0h0M418.1 148.2h0M423.1 150.2h0M438.3 145.0h0M418.2 147.1h0M431.7 146.5h0M426.6 150.7h0M435.5 154.1h0M425.6 154.6h0M434.3 146.9h0M412.1 152.7h0M415.0 153.0h0M414.6 150.4h0M413.8 152.9h0M444.8 155.1h0M435.2 153.5h0M412.2 146.3h0M418.7 146.0h0M417.9 149.3h0M419.2 143.5h0M411.9 150.1h0M454.2 149.1h0M423.4 144.8h0M414.4 146.9h0M420.7 152.4h0M413.4 152.5h0M413.2 151.6h0M413.8 148.7h0M440.8 152.4h0M419.4 146.8h0M415.0 150.2h0M412.7 149.3h0M426.7 144.2h0M414.2 146.1h0M418.1 150.1h0M439.8 149.3h0M414.7 149.4h0" stroke="#18a528" stroke-width="1.15" stroke-linecap="round" fill="none" opacity="0.95"/>
<path d="M399.7 140.5h0M391.5 136.2h0M399.5 140.5h0M392.0 139.2h0M392.9 139.0h0M398.9 139.7h0M394.5 108.1h0M396.8 136.4h0M389.7 126.8h0M382.1 134.3h0M388.7 141.4h0M387.5 137.9h0M394.9 132.0h0M396.5 135.9h0M391.9 128.4h0M396.3 140.3h0M386.0 127.6h0M381.2 141.4h0M400.2 121.1h0M401.4 137.7h0M397.5 135.6h0M396.1 124.4h0M387.3 127.1h0M396.1 138.1h0M392.9 133.6h0M397.9 138.9h0M383.7 134.1h0M397.9 138.1h0M385.0 137.4h0M393.6 131.1h0M393.8 139.0h0M395.5 128.1h0M392.1 140.1h0M391.6 118.7h0M391.5 140.4h0M395.9 140.7h0M395.6 136.8h0M397.5 126.5h0M400.1 137.9h0M392.6 135.4h0M392.9 139.8h0M393.3 129.6h0M393.8 139.8h0M401.6 140.7h0M401.2 141.3h0M393.6 113.2h0M395.8 139.4h0M392.5 137.2h0M392.6 139.5h0M391.8 134.8h0M393.8 137.1h0M388.2 133.6h0M398.2 133.2h0M392.3 139.5h0M396.1 139.3h0M391.5 137.4h0M386.2 121.3h0M392.3 139.9h0M400.5 139.0h0M390.7 121.9h0M394.5 123.6h0M400.9 133.8h0M391.4 135.8h0M398.8 133.4h0M390.5 134.6h0M392.4 141.0h0M395.4 137.1h0M387.2 134.6h0M399.8 136.1h0M391.7 128.6h0M398.7 133.3h0M397.6 140.4h0M394.1 131.0h0M395.1 136.6h0M399.1 138.3h0M397.3 135.5h0M391.7 134.5h0M391.8 136.1h0M392.0 120.7h0M392.0 126.3h0M392.7 136.9h0M395.2 139.3h0M391.2 137.9h0M391.2 128.5h0M394.2 135.3h0M398.0 136.9h0M392.9 140.3h0M397.0 141.3h0M395.4 140.3h0M389.0 139.7h0M396.7 123.0h0M389.4 140.8h0M398.5 132.7h0M395.1 129.8h0M395.3 131.6h0M389.3 113.5h0M398.5 132.9h0M401.5 137.3h0M395.3 139.0h0M387.0 128.8h0M393.2 141.5h0M391.8 123.8h0M393.3 139.8h0M392.8 132.6h0M384.8 140.0h0M387.9 141.5h0M394.8 139.8h0M391.0 134.7h0M398.7 134.0h0M401.6 135.8h0M392.7 132.9h0M396.5 134.3h0M390.8 123.3h0M400.8 129.5h0M397.2 109.3h0M390.6 119.4h0M387.4 132.8h0M404.1 127.1h0M389.2 137.2h0M392.8 136.5h0M396.5 135.8h0M397.7 137.4h0M387.3 132.0h0M387.8 139.7h0M392.9 134.3h0M384.8 138.8h0M380.7 138.3h0M400.9 135.1h0M395.7 139.4h0M396.9 129.2h0M398.4 141.3h0M393.2 139.6h0M393.3 133.6h0M387.8 140.4h0M395.4 136.0h0M398.2 134.0h0M395.1 134.6h0M399.2 134.8h0M400.1 127.8h0M387.5 130.0h0M392.3 130.0h0M399.1 133.6h0M398.9 125.2h0M391.4 137.0h0M401.9 128.3h0M389.7 132.0h0M399.2 138.4h0M392.5 124.1h0M387.0 105.9h0M387.4 138.5h0M395.8 139.8h0M393.0 127.0h0M393.4 123.2h0M390.4 139.0h0M393.3 124.2h0M397.4 128.5h0M407.3 138.8h0M393.0 139.6h0M396.2 135.7h0M398.2 129.7h0M400.7 140.7h0M395.6 135.6h0M391.5 119.6h0M392.1 138.0h0M397.7 116.0h0M392.9 139.8h0M398.4 138.4h0M393.2 118.7h0M392.3 135.9h0M386.1 140.8h0M392.9 136.9h0M396.1 139.0h0M396.8 138.4h0M392.5 140.7h0M388.3 141.0h0M391.1 139.2h0M389.6 137.1h0M391.8 139.6h0M389.8 139.7h0M402.3 138.5h0M392.4 134.7h0M394.7 140.9h0M401.6 125.5h0M397.3 132.8h0M399.4 118.2h0M386.6 122.5h0M395.1 139.0h0M398.4 137.4h0M389.8 140.8h0M392.2 119.2h0M396.3 133.9h0M386.8 124.8h0M396.4 102.6h0M393.2 132.5h0M400.5 133.1h0M397.8 134.6h0M392.7 131.2h0M390.8 140.9h0M391.3 139.1h0M391.5 134.0h0M388.4 140.1h0M395.2 140.6h0M396.2 135.6h0M393.0 138.7h0M393.2 112.6h0M393.6 128.5h0M393.8 135.0h0M395.4 139.4h0M394.1 137.3h0M397.5 125.3h0M393.3 141.1h0M406.7 127.2h0M398.7 140.5h0M392.6 141.4h0M394.4 139.2h0M397.5 138.1h0M400.2 137.7h0M399.8 138.1h0M389.0 140.0h0M382.7 107.4h0M399.4 129.4h0M390.4 140.1h0M390.7 135.0h0M394.3 130.7h0M397.2 137.6h0M394.4 138.2h0M386.7 137.4h0M391.7 131.7h0M397.2 129.1h0M395.7 138.3h0M399.3 139.8h0M400.7 127.0h0M395.2 132.7h0M391.9 135.2h0M386.7 102.7h0M391.9 129.1h0M394.9 131.8h0M389.2 140.4h0M397.9 141.3h0M391.4 135.6h0M394.4 137.6h0M391.3 126.2h0M389.1 135.5h0M403.1 139.4h0M386.9 136.6h0M386.5 139.8h0M393.1 140.7h0M394.5 127.1h0M388.6 138.0h0M398.8 119.6h0M396.6 133.1h0M389.7 134.4h0M396.8 137.1h0M389.7 127.1h0M401.7 103.8h0M388.6 124.1h0M402.1 141.2h0M395.0 115.9h0M391.7 138.7h0M400.8 139.3h0M401.9 141.1h0M394.5 137.4h0M395.4 112.3h0M398.0 139.0h0M408.8 134.7h0M387.7 126.0h0M386.0 139.9h0M398.7 116.4h0M384.8 106.8h0M401.6 137.7h0M390.9 135.0h0M399.1 138.1h0M395.7 140.5h0M403.5 137.9h0M402.1 137.0h0M394.0 130.2h0M390.5 139.6h0M394.0 139.6h0M402.9 136.1h0M404.2 140.6h0M393.8 138.6h0M394.4 138.3h0M390.8 139.3h0M398.6 127.1h0M395.4 139.2h0M384.2 126.3h0M396.3 140.8h0M396.1 129.7h0M399.6 138.7h0M389.7 137.0h0M398.7 141.0h0M399.8 140.9h0M389.6 130.5h0M393.3 140.4h0M394.0 140.1h0M399.0 141.2h0M392.2 111.4h0M393.6 140.2h0M384.7 140.0h0M391.0 134.6h0M391.6 136.3h0M405.1 139.9h0M402.0 135.9h0M392.3 136.4h0M394.3 135.7h0M391.9 125.4h0M397.1 141.0h0M394.9 135.8h0M392.1 137.5h0M393.2 134.1h0M389.6 135.0h0M393.5 140.5h0M390.6 139.6h0M391.8 112.1h0M396.1 139.3h0M387.8 139.2h0M392.2 133.0h0M396.5 138.0h0M396.2 132.8h0M396.1 133.4h0M386.9 140.2h0M386.9 136.8h0M397.1 118.8h0M396.5 140.2h0M396.0 129.2h0M395.2 141.4h0M402.5 127.1h0M394.3 137.8h0M385.9 137.4h0M400.4 130.5h0M398.9 140.8h0M395.6 138.6h0M400.5 138.1h0M392.3 129.9h0M396.4 132.3h0M394.1 130.5h0M392.5 132.0h0M394.4 137.3h0M390.6 137.1h0M408.2 139.5h0M391.8 130.1h0M394.7 137.0h0M388.3 137.0h0M399.2 138.4h0M391.7 141.5h0M392.4 139.4h0M395.2 140.7h0M397.2 140.0h0M397.3 128.7h0M387.6 138.6h0M393.9 137.6h0M387.9 136.3h0M397.4 135.1h0M393.7 137.7h0M401.1 138.2h0M396.5 138.5h0M394.7 133.0h0M391.4 137.9h0M398.7 130.9h0M393.2 120.5h0M403.7 138.5h0M401.5 138.5h0M401.2 125.5h0M385.5 138.9h0M401.8 138.7h0M396.9 140.2h0M394.2 124.6h0M393.2 136.8h0M394.0 132.8h0M397.6 134.2h0M396.0 137.9h0M391.3 137.1h0M401.5 137.9h0M394.3 138.9h0M406.3 114.7h0M394.7 123.1h0M402.1 140.1h0M386.4 131.8h0M396.0 139.2h0M398.8 141.4h0M401.6 136.8h0M385.0 140.1h0M404.2 132.4h0M394.8 131.4h0M395.0 131.0h0M391.3 140.3h0M396.5 136.7h0M398.3 137.1h0M386.6 122.2h0M385.6 122.0h0M400.7 138.3h0M390.8 121.7h0M398.6 133.4h0M400.1 139.0h0M385.7 132.1h0M393.1 140.9h0M391.2 131.0h0M394.5 127.7h0M389.2 131.3h0M398.5 134.9h0M391.2 137.1h0M391.6 119.2h0M392.2 134.9h0M400.8 131.3h0M389.4 133.7h0M394.5 140.7h0M392.4 133.2h0M394.0 129.2h0M383.5 136.2h0M400.6 139.8h0M391.7 138.1h0M386.8 131.9h0M392.0 141.4h0M395.1 109.2h0M390.7 130.0h0M393.8 132.3h0M402.9 111.6h0M391.4 138.5h0M399.5 34.5h0M395.7 48.0h0M396.0 51.7h0M395.7 55.4h0M396.4 56.0h0M396.3 63.2h0M378.4 51.4h0M380.3 54.8h0M380.3 57.5h0M378.8 65.5h0M377.3 70.1h0M375.3 73.6h0M380.7 77.0h0M375.3 81.3h0M373.8 82.0h0M386.3 83.3h0M384.5 85.9h0M383.0 86.6h0M381.4 88.2h0M395.2 92.8h0M393.7 94.0h0M386.0 95.0h0M377.6 94.0h0M386.8 98.0h0M395.2 98.9h0M393.7 100.4h0M400.6 99.7h0M390.2 90.1h0M388.4 96.6h0M392.1 88.0h0M383.3 99.9h0M397.7 96.2h0" stroke="#2258f8" stroke-width="1.2" stroke-linecap="round" fill="none" opacity="0.62"/>
<path d="M358.5 115.5L354.6 125.5M314.2 130.4L332.3 134.3M370.8 134.9L363.2 133.6M431.9 128.9L430.6 128.4M466.4 133.1L440.1 136.6M312.0 142.1L345.5 138.5M469.5 152.8L440.0 139.1M346.5 86.5L357.5 114.3M351.8 97.2L349.8 130.4M367.6 99.7L360.0 114.1M407.6 94.2L413.6 111.4M426.1 96.0L415.1 120.4M333.2 107.2L351.3 129.1M346.7 107.2L340.7 115.3M370.3 107.2L366.1 109.9M395.2 107.2L416.3 116.4M410.6 106.8L413.6 108.7M419.0 106.3L413.7 122.7M442.6 104.5L446.4 109.1M312.5 115.5L329.2 138.8M339.1 115.5L338.2 119.6M378.0 115.5L366.9 134.0M400.5 115.5L419.9 131.0M414.4 115.0L416.5 121.9M439.5 114.5L429.7 134.3M451.2 109.3L424.7 111.7M309.4 119.5L334.4 116.6M324.0 123.0L339.9 134.5M356.3 123.0L356.8 126.2M366.5 123.0L362.4 125.1M382.4 123.0L359.9 132.9M430.2 122.0L425.9 127.7M453.6 118.7L426.5 123.8M324.0 130.9L337.1 137.1M343.6 130.8L345.3 131.4M367.6 129.9L364.1 130.3M411.2 125.4L412.4 124.9M449.9 126.8L436.6 135.9M463.8 126.8L448.4 130.6M315.8 135.6L344.4 134.7M335.8 135.5L342.8 135.3M380.9 133.1L366.6 128.4M327.1 140.4L341.5 135.8M364.4 140.4L363.9 139.7M400.6 140.4L414.1 136.1M413.8 142.8L416.5 139.7M443.7 139.6L436.3 139.5M458.8 139.1L426.1 137.4M309.4 149.1L350.0 139.4M340.0 145.1L348.9 140.4M351.2 145.1L351.8 141.0M377.6 148.1L362.9 140.5M429.8 143.2L433.0 139.5M445.0 144.6L431.2 137.6M463.5 144.6L431.8 136.4M327.9 152.7L348.2 139.1M345.2 152.7L355.0 140.2M362.8 152.7L366.1 140.4M400.4 151.9L412.7 139.6M418.5 150.6L416.5 141.5M434.4 152.8L422.6 139.2M450.1 152.8L420.1 138.6M309.2 160.2L349.5 138.2M327.6 160.2L331.6 139.8M350.5 160.2L359.9 141.2M373.6 160.2L365.8 141.0M400.9 160.2L414.4 139.6M418.6 158.9L414.9 140.5M439.4 160.3L438.2 138.7M464.2 160.3L427.7 135.5" stroke="#111" stroke-width="0.85" fill="none"/>
<path d="M358.5 115.5L358.7 117.1L357.2 116.6ZM314.2 130.4L315.9 129.9L315.5 131.5ZM370.8 134.9L369.2 135.4L369.4 133.8ZM431.9 128.9L430.2 129.1L430.8 127.6ZM466.4 133.1L465.0 134.1L464.8 132.5ZM312.0 142.1L313.4 141.2L313.6 142.8ZM469.5 152.8L467.8 152.8L468.4 151.4ZM346.5 86.5L347.8 87.5L346.3 88.1ZM351.8 97.2L352.5 98.7L350.9 98.6ZM367.6 99.7L367.6 101.3L366.2 100.6ZM407.6 94.2L408.8 95.4L407.3 95.9ZM426.1 96.0L426.2 97.7L424.7 97.1ZM333.2 107.2L334.8 107.9L333.5 108.9ZM346.7 107.2L346.4 108.9L345.1 108.0ZM370.3 107.2L369.4 108.7L368.6 107.4ZM395.2 107.2L396.9 107.1L396.3 108.6ZM410.6 106.8L412.3 106.9L411.4 108.2ZM419.0 106.3L419.3 108.0L417.8 107.5ZM442.6 104.5L444.2 105.1L443.0 106.1ZM312.5 115.5L314.0 116.2L312.7 117.1ZM339.1 115.5L339.6 117.1L338.0 116.7ZM378.0 115.5L378.0 117.1L376.6 116.3ZM400.5 115.5L402.1 115.8L401.1 117.0ZM414.4 115.0L415.6 116.1L414.0 116.6ZM439.5 114.5L439.6 116.2L438.1 115.5ZM451.2 109.3L449.8 110.3L449.7 108.7ZM309.4 119.5L310.8 118.5L311.0 120.1ZM324.0 123.0L325.7 123.3L324.8 124.6ZM356.3 123.0L357.3 124.4L355.7 124.7ZM366.5 123.0L365.5 124.4L364.8 123.0ZM382.4 123.0L381.3 124.4L380.7 122.9ZM430.2 122.0L429.9 123.6L428.6 122.7ZM453.6 118.7L452.3 119.7L452.0 118.1ZM324.0 130.9L325.7 130.9L325.0 132.3ZM343.6 130.8L345.3 130.6L344.8 132.1ZM367.6 129.9L366.2 130.9L366.0 129.3ZM411.2 125.4L412.2 124.1L412.9 125.6ZM449.9 126.8L449.1 128.4L448.2 127.0ZM463.8 126.8L462.5 128.0L462.1 126.4ZM315.8 135.6L317.3 134.7L317.3 136.3ZM335.8 135.5L337.3 134.7L337.4 136.3ZM380.9 133.1L379.2 133.4L379.7 131.8ZM327.1 140.4L328.3 139.2L328.8 140.7ZM364.4 140.4L362.9 139.7L364.2 138.8ZM400.6 140.4L401.8 139.2L402.3 140.8ZM413.8 142.8L414.2 141.2L415.4 142.2ZM443.7 139.6L442.2 140.4L442.2 138.8ZM458.8 139.1L457.2 139.8L457.3 138.2ZM309.4 149.1L310.7 148.0L311.1 149.6ZM340.0 145.1L341.0 143.6L341.7 145.1ZM351.2 145.1L350.6 143.4L352.2 143.7ZM377.6 148.1L375.9 148.1L376.6 146.7ZM429.8 143.2L430.2 141.5L431.4 142.6ZM445.0 144.6L443.3 144.6L444.0 143.2ZM463.5 144.6L461.8 145.0L462.2 143.4ZM327.9 152.7L328.7 151.2L329.6 152.5ZM345.2 152.7L345.5 151.0L346.8 152.0ZM362.8 152.7L362.4 151.0L363.9 151.4ZM400.4 151.9L400.9 150.3L402.0 151.5ZM418.5 150.6L417.4 149.3L419.0 148.9ZM434.4 152.8L432.8 152.1L434.0 151.1ZM450.1 152.8L448.4 152.8L449.1 151.4ZM309.2 160.2L310.1 158.8L310.9 160.2ZM327.6 160.2L327.1 158.6L328.7 158.9ZM350.5 160.2L350.5 158.6L351.9 159.3ZM373.6 160.2L372.3 159.2L373.8 158.6ZM400.9 160.2L401.0 158.6L402.4 159.4ZM418.6 158.9L417.5 157.6L419.1 157.3ZM439.4 160.3L438.5 158.9L440.1 158.8ZM464.2 160.3L462.5 160.2L463.4 158.8Z" fill="#111" stroke="#111" stroke-width="0.3"/>
<path d="M354.4 126.1h0M339.1 123.6h0M333.0 134.4h0M355.1 126.2h0M363.5 125.9h0M362.6 133.5h0M416.5 135.2h0M430.0 128.1h0M439.4 136.6h0M346.2 138.4h0M439.3 138.8h0M357.7 115.0h0M349.8 131.1h0M359.7 114.7h0M413.9 112.1h0M414.8 121.1h0M351.7 129.6h0M340.3 115.9h0M365.5 110.2h0M416.9 116.7h0M414.2 109.1h0M413.5 123.3h0M446.8 109.6h0M329.6 139.4h0M338.0 120.2h0M366.5 134.6h0M420.5 131.4h0M416.7 122.5h0M429.3 134.9h0M424.0 111.8h0M335.1 116.6h0M340.5 134.9h0M356.9 126.9h0M361.8 125.4h0M359.2 133.2h0M414.9 118.7h0M425.4 128.3h0M425.8 123.9h0M337.7 137.4h0M346.0 131.7h0M363.4 130.3h0M413.0 124.7h0M422.9 128.4h0M436.0 136.3h0M447.7 130.8h0M345.1 134.7h0M343.5 135.3h0M365.9 128.2h0M449.2 133.5h0M427.7 135.1h0M342.2 135.6h0M363.5 139.2h0M414.7 135.9h0M417.0 139.2h0M435.6 139.5h0M425.4 137.4h0M350.7 139.2h0M349.6 140.1h0M352.0 140.3h0M362.3 140.2h0M433.5 139.0h0M430.5 137.3h0M431.1 136.3h0M348.8 138.7h0M355.4 139.6h0M366.3 139.7h0M413.2 139.1h0M416.3 140.8h0M422.2 138.7h0M419.5 138.3h0M350.2 137.8h0M331.8 139.1h0M360.2 140.5h0M365.5 140.3h0M414.8 139.0h0M414.8 139.8h0M438.1 138.0h0M427.1 135.1h0M353.5 114.0h0M347.4 119.7h0M350.3 136.3h0M364.0 118.8h0M361.2 137.9h0M422.4 129.1h0M417.3 134.0h0M419.2 138.8h0M436.0 128.0h0M418.7 135.5h0" stroke="#ee2a24" stroke-width="1.15" stroke-linecap="round" fill="none" opacity="0.95"/>
<rect x="353.15" y="110.15" width="12.89" height="5.1" rx="0.9" fill="#fff" stroke="#a8a8a8" stroke-width="0.5"/>
<text x="359.60" y="114.25" font-size="4.45" text-anchor="middle" fill="#000" stroke="#000" stroke-width="0.1" >Bpifc</text>
<rect x="328.17" y="117.75" width="20.07" height="5.1" rx="0.9" fill="#fff" stroke="#a8a8a8" stroke-width="0.5"/>
<text x="338.20" y="121.85" font-size="4.45" text-anchor="middle" fill="#000" stroke="#000" stroke-width="0.1" >Chrna10</text>
<rect x="293.97" y="125.65" width="20.07" height="5.1" rx="0.9" fill="#fff" stroke="#a8a8a8" stroke-width="0.5"/>
<text x="304.00" y="129.75" font-size="4.45" text-anchor="middle" fill="#000" stroke="#000" stroke-width="0.1" >Gm8895</text>
<rect x="331.95" y="125.65" width="34.09" height="5.1" rx="0.9" fill="#fff" stroke="#a8a8a8" stroke-width="0.5"/>
<text x="349.00" y="129.75" font-size="4.45" text-anchor="middle" fill="#000" stroke="#000" stroke-width="0.1" >LOC118568423</text>
<rect x="361.55" y="125.65" width="11.90" height="5.1" rx="0.9" fill="#fff" stroke="#a8a8a8" stroke-width="0.5"/>
<text x="367.50" y="129.75" font-size="4.45" text-anchor="middle" fill="#000" stroke="#000" stroke-width="0.1" >Ccl2</text>
<rect x="371.00" y="133.25" width="11.41" height="5.1" rx="0.9" fill="#fff" stroke="#a8a8a8" stroke-width="0.5"/>
<text x="376.70" y="137.35" font-size="4.45" text-anchor="middle" fill="#000" stroke="#000" stroke-width="0.1" >Acsl</text>
<rect x="399.51" y="133.25" width="15.37" height="5.1" rx="0.9" fill="#fff" stroke="#a8a8a8" stroke-width="0.5"/>
<text x="407.20" y="137.35" font-size="4.45" text-anchor="middle" fill="#000" stroke="#000" stroke-width="0.1" >16033</text>
<rect x="429.69" y="129.15" width="17.01" height="5.1" rx="0.9" fill="#fff" stroke="#a8a8a8" stroke-width="0.5"/>
<text x="438.20" y="133.25" font-size="4.45" text-anchor="middle" fill="#000" stroke="#000" stroke-width="0.1" >Gm11c</text>
<rect x="466.57" y="129.15" width="20.07" height="5.1" rx="0.9" fill="#fff" stroke="#a8a8a8" stroke-width="0.5"/>
<text x="476.60" y="133.25" font-size="4.45" text-anchor="middle" fill="#000" stroke="#000" stroke-width="0.1" >Gm3770</text>
<rect x="293.03" y="140.65" width="18.75" height="5.1" rx="0.9" fill="#fff" stroke="#a8a8a8" stroke-width="0.5"/>
<text x="302.40" y="144.75" font-size="4.45" text-anchor="middle" fill="#000" stroke="#000" stroke-width="0.1" >Mir8110</text>
<rect x="464.13" y="152.95" width="22.54" height="5.1" rx="0.9" fill="#fff" stroke="#a8a8a8" stroke-width="0.5"/>
<text x="475.40" y="157.05" font-size="4.45" text-anchor="middle" fill="#000" stroke="#000" stroke-width="0.1" >Gm12599</text>
<rect x="335.37" y="81.15" width="20.07" height="5.1" rx="0.9" fill="#fff" stroke="#a8a8a8" stroke-width="0.5"/>
<text x="345.40" y="85.25" font-size="4.45" text-anchor="middle" fill="#000" stroke="#000" stroke-width="0.1" >Gm7582</text>
<rect x="343.33" y="91.85" width="17.35" height="5.1" rx="0.9" fill="#fff" stroke="#a8a8a8" stroke-width="0.5"/>
<text x="352.00" y="95.95" font-size="4.45" text-anchor="middle" fill="#000" stroke="#000" stroke-width="0.1" >Ifi27l2a</text>
<rect x="362.43" y="94.35" width="13.14" height="5.1" rx="0.9" fill="#fff" stroke="#a8a8a8" stroke-width="0.5"/>
<text x="369.00" y="98.45" font-size="4.45" text-anchor="middle" fill="#000" stroke="#000" stroke-width="0.1" >Slfn4</text>
<rect x="398.54" y="88.95" width="16.11" height="5.1" rx="0.9" fill="#fff" stroke="#a8a8a8" stroke-width="0.5"/>
<text x="406.60" y="93.05" font-size="4.45" text-anchor="middle" fill="#000" stroke="#000" stroke-width="0.1" >Isoc2b</text>
<rect x="420.73" y="90.75" width="13.14" height="5.1" rx="0.9" fill="#fff" stroke="#a8a8a8" stroke-width="0.5"/>
<text x="427.30" y="94.85" font-size="4.45" text-anchor="middle" fill="#000" stroke="#000" stroke-width="0.1" >Esp6</text>
<rect x="323.09" y="101.95" width="15.62" height="5.1" rx="0.9" fill="#fff" stroke="#a8a8a8" stroke-width="0.5"/>
<text x="330.90" y="106.05" font-size="4.45" text-anchor="middle" fill="#000" stroke="#000" stroke-width="0.1" >Bbox1</text>
<rect x="341.39" y="101.95" width="14.62" height="5.1" rx="0.9" fill="#fff" stroke="#a8a8a8" stroke-width="0.5"/>
<text x="348.70" y="106.05" font-size="4.45" text-anchor="middle" fill="#000" stroke="#000" stroke-width="0.1" >Acer1</text>
<rect x="366.77" y="101.95" width="15.86" height="5.1" rx="0.9" fill="#fff" stroke="#a8a8a8" stroke-width="0.5"/>
<text x="374.70" y="106.05" font-size="4.45" text-anchor="middle" fill="#000" stroke="#000" stroke-width="0.1" >Rsad2</text>
<rect x="380.84" y="101.95" width="16.11" height="5.1" rx="0.9" fill="#fff" stroke="#a8a8a8" stroke-width="0.5"/>
<text x="388.90" y="106.05" font-size="4.45" text-anchor="middle" fill="#000" stroke="#000" stroke-width="0.1" >Capn5</text>
<rect x="399.24" y="101.45" width="14.13" height="5.1" rx="0.9" fill="#fff" stroke="#a8a8a8" stroke-width="0.5"/>
<text x="406.30" y="105.55" font-size="4.45" text-anchor="middle" fill="#000" stroke="#000" stroke-width="0.1" >Cxcl5</text>
<rect x="413.21" y="101.05" width="13.39" height="5.1" rx="0.9" fill="#fff" stroke="#a8a8a8" stroke-width="0.5"/>
<text x="419.90" y="105.15" font-size="4.45" text-anchor="middle" fill="#000" stroke="#000" stroke-width="0.1" >H60c</text>
<rect x="430.37" y="99.15" width="20.07" height="5.1" rx="0.9" fill="#fff" stroke="#a8a8a8" stroke-width="0.5"/>
<text x="440.40" y="103.25" font-size="4.45" text-anchor="middle" fill="#000" stroke="#000" stroke-width="0.1" >Gm5086</text>
<rect x="300.47" y="110.15" width="20.07" height="5.1" rx="0.9" fill="#fff" stroke="#a8a8a8" stroke-width="0.5"/>
<text x="310.50" y="114.25" font-size="4.45" text-anchor="middle" fill="#000" stroke="#000" stroke-width="0.1" >Gm3264</text>
<rect x="322.75" y="110.15" width="34.09" height="5.1" rx="0.9" fill="#fff" stroke="#a8a8a8" stroke-width="0.5"/>
<text x="339.80" y="114.25" font-size="4.45" text-anchor="middle" fill="#000" stroke="#000" stroke-width="0.1" >LOC118568782</text>
<rect x="371.28" y="110.15" width="16.85" height="5.1" rx="0.9" fill="#fff" stroke="#a8a8a8" stroke-width="0.5"/>
<text x="379.70" y="114.25" font-size="4.45" text-anchor="middle" fill="#000" stroke="#000" stroke-width="0.1" >Them5</text>
<rect x="391.05" y="110.15" width="11.90" height="5.1" rx="0.9" fill="#fff" stroke="#a8a8a8" stroke-width="0.5"/>
<text x="397.00" y="114.25" font-size="4.45" text-anchor="middle" fill="#000" stroke="#000" stroke-width="0.1" >Ccl8</text>
<rect x="405.08" y="109.65" width="16.85" height="5.1" rx="0.9" fill="#fff" stroke="#a8a8a8" stroke-width="0.5"/>
<text x="413.50" y="113.75" font-size="4.45" text-anchor="middle" fill="#000" stroke="#000" stroke-width="0.1" >Cstdc6</text>
<rect x="434.95" y="109.25" width="11.90" height="5.1" rx="0.9" fill="#fff" stroke="#a8a8a8" stroke-width="0.5"/>
<text x="440.90" y="113.35" font-size="4.45" text-anchor="middle" fill="#000" stroke="#000" stroke-width="0.1" >Ccl3</text>
<rect x="451.43" y="105.75" width="22.54" height="5.1" rx="0.9" fill="#fff" stroke="#a8a8a8" stroke-width="0.5"/>
<text x="462.70" y="109.85" font-size="4.45" text-anchor="middle" fill="#000" stroke="#000" stroke-width="0.1" >Gm31090</text>
<rect x="295.58" y="117.75" width="13.64" height="5.1" rx="0.9" fill="#fff" stroke="#a8a8a8" stroke-width="0.5"/>
<text x="302.40" y="121.85" font-size="4.45" text-anchor="middle" fill="#000" stroke="#000" stroke-width="0.1" >Krt71</text>
<rect x="310.17" y="117.75" width="20.07" height="5.1" rx="0.9" fill="#fff" stroke="#a8a8a8" stroke-width="0.5"/>
<text x="320.20" y="121.85" font-size="4.45" text-anchor="middle" fill="#000" stroke="#000" stroke-width="0.1" >Krtap6-1</text>
<rect x="347.74" y="117.75" width="16.11" height="5.1" rx="0.9" fill="#fff" stroke="#a8a8a8" stroke-width="0.5"/>
<text x="355.80" y="121.85" font-size="4.45" text-anchor="middle" fill="#000" stroke="#000" stroke-width="0.1" >Krt33a</text>
<rect x="365.28" y="117.75" width="13.64" height="5.1" rx="0.9" fill="#fff" stroke="#a8a8a8" stroke-width="0.5"/>
<text x="372.10" y="121.85" font-size="4.45" text-anchor="middle" fill="#000" stroke="#000" stroke-width="0.1" >Cpa4</text>
<rect x="380.65" y="117.75" width="16.11" height="5.1" rx="0.9" fill="#fff" stroke="#a8a8a8" stroke-width="0.5"/>
<text x="388.70" y="121.85" font-size="4.45" text-anchor="middle" fill="#000" stroke="#000" stroke-width="0.1" >Dmbt1</text>
<rect x="399.29" y="117.25" width="14.63" height="5.1" rx="0.9" fill="#fff" stroke="#a8a8a8" stroke-width="0.5"/>
<text x="406.60" y="121.35" font-size="4.45" text-anchor="middle" fill="#000" stroke="#000" stroke-width="0.1" >Naip1</text>
<rect x="415.15" y="116.65" width="34.09" height="5.1" rx="0.9" fill="#fff" stroke="#a8a8a8" stroke-width="0.5"/>
<text x="432.20" y="120.75" font-size="4.45" text-anchor="middle" fill="#000" stroke="#000" stroke-width="0.1" >LOC115490344</text>
<rect x="451.73" y="113.35" width="32.94" height="5.1" rx="0.9" fill="#fff" stroke="#a8a8a8" stroke-width="0.5"/>
<text x="468.20" y="117.45" font-size="4.45" text-anchor="middle" fill="#000" stroke="#000" stroke-width="0.1" >4930556I23Rik</text>
<rect x="308.17" y="125.65" width="20.07" height="5.1" rx="0.9" fill="#fff" stroke="#a8a8a8" stroke-width="0.5"/>
<text x="318.20" y="129.75" font-size="4.45" text-anchor="middle" fill="#000" stroke="#000" stroke-width="0.1" >Gm9645</text>
<rect x="328.56" y="125.65" width="14.87" height="5.1" rx="0.9" fill="#fff" stroke="#a8a8a8" stroke-width="0.5"/>
<text x="336.00" y="129.75" font-size="4.45" text-anchor="middle" fill="#000" stroke="#000" stroke-width="0.1" >Oas1f</text>
<rect x="367.79" y="125.65" width="34.42" height="5.1" rx="0.9" fill="#fff" stroke="#a8a8a8" stroke-width="0.5"/>
<text x="385.00" y="129.75" font-size="4.45" text-anchor="middle" fill="#000" stroke="#000" stroke-width="0.1" >LOC101055676</text>
<rect x="395.53" y="125.65" width="18.34" height="5.1" rx="0.9" fill="#fff" stroke="#a8a8a8" stroke-width="0.5"/>
<text x="404.70" y="129.75" font-size="4.45" text-anchor="middle" fill="#000" stroke="#000" stroke-width="0.1" >S100a9</text>
<rect x="415.11" y="124.25" width="13.39" height="5.1" rx="0.9" fill="#fff" stroke="#a8a8a8" stroke-width="0.5"/>
<text x="421.80" y="128.35" font-size="4.45" text-anchor="middle" fill="#000" stroke="#000" stroke-width="0.1" >Xlr3a</text>
<rect x="442.73" y="121.55" width="22.54" height="5.1" rx="0.9" fill="#fff" stroke="#a8a8a8" stroke-width="0.5"/>
<text x="454.00" y="125.65" font-size="4.45" text-anchor="middle" fill="#000" stroke="#000" stroke-width="0.1" >Gm23630</text>
<rect x="463.73" y="121.55" width="22.54" height="5.1" rx="0.9" fill="#fff" stroke="#a8a8a8" stroke-width="0.5"/>
<text x="475.00" y="125.65" font-size="4.45" text-anchor="middle" fill="#000" stroke="#000" stroke-width="0.1" >Gm45999</text>
<rect x="301.98" y="133.25" width="13.64" height="5.1" rx="0.9" fill="#fff" stroke="#a8a8a8" stroke-width="0.5"/>
<text x="308.80" y="137.35" font-size="4.45" text-anchor="middle" fill="#000" stroke="#000" stroke-width="0.1" >Krt72</text>
<rect x="317.56" y="133.25" width="18.09" height="5.1" rx="0.9" fill="#fff" stroke="#a8a8a8" stroke-width="0.5"/>
<text x="326.60" y="137.35" font-size="4.45" text-anchor="middle" fill="#000" stroke="#000" stroke-width="0.1" >Pglyrp3</text>
<rect x="378.13" y="133.25" width="22.54" height="5.1" rx="0.9" fill="#fff" stroke="#a8a8a8" stroke-width="0.5"/>
<text x="389.40" y="137.35" font-size="4.45" text-anchor="middle" fill="#000" stroke="#000" stroke-width="0.1" >Gm52851</text>
<rect x="441.55" y="129.15" width="34.09" height="5.1" rx="0.9" fill="#fff" stroke="#a8a8a8" stroke-width="0.5"/>
<text x="458.60" y="133.25" font-size="4.45" text-anchor="middle" fill="#000" stroke="#000" stroke-width="0.1" >LOC118568591</text>
<rect x="419.43" y="133.85" width="18.34" height="5.1" rx="0.9" fill="#fff" stroke="#a8a8a8" stroke-width="0.5"/>
<text x="428.60" y="137.95" font-size="4.45" text-anchor="middle" fill="#000" stroke="#000" stroke-width="0.1" >Ctag2l2</text>
<rect x="307.22" y="140.65" width="22.96" height="5.1" rx="0.9" fill="#fff" stroke="#a8a8a8" stroke-width="0.5"/>
<text x="318.70" y="144.75" font-size="4.45" text-anchor="middle" fill="#000" stroke="#000" stroke-width="0.1" >Serpina11</text>
<rect x="357.45" y="140.65" width="18.09" height="5.1" rx="0.9" fill="#fff" stroke="#a8a8a8" stroke-width="0.5"/>
<text x="366.50" y="144.75" font-size="4.45" text-anchor="middle" fill="#000" stroke="#000" stroke-width="0.1" >Abca12</text>
<rect x="381.10" y="140.65" width="21.80" height="5.1" rx="0.9" fill="#fff" stroke="#a8a8a8" stroke-width="0.5"/>
<text x="392.00" y="144.75" font-size="4.45" text-anchor="middle" fill="#000" stroke="#000" stroke-width="0.1" >Atp6v1b1</text>
<rect x="403.72" y="143.05" width="15.37" height="5.1" rx="0.9" fill="#fff" stroke="#a8a8a8" stroke-width="0.5"/>
<text x="411.40" y="147.15" font-size="4.45" text-anchor="middle" fill="#000" stroke="#000" stroke-width="0.1" >Foxp4</text>
<rect x="443.93" y="137.05" width="13.14" height="5.1" rx="0.9" fill="#fff" stroke="#a8a8a8" stroke-width="0.5"/>
<text x="450.50" y="141.15" font-size="4.45" text-anchor="middle" fill="#000" stroke="#000" stroke-width="0.1" >Slfa1</text>
<rect x="458.97" y="137.05" width="20.07" height="5.1" rx="0.9" fill="#fff" stroke="#a8a8a8" stroke-width="0.5"/>
<text x="469.00" y="141.15" font-size="4.45" text-anchor="middle" fill="#000" stroke="#000" stroke-width="0.1" >Gm8618</text>
<rect x="295.58" y="148.25" width="13.64" height="5.1" rx="0.9" fill="#fff" stroke="#a8a8a8" stroke-width="0.5"/>
<text x="302.40" y="152.35" font-size="4.45" text-anchor="middle" fill="#000" stroke="#000" stroke-width="0.1" >Krt35</text>
<rect x="327.88" y="145.25" width="13.64" height="5.1" rx="0.9" fill="#fff" stroke="#a8a8a8" stroke-width="0.5"/>
<text x="334.70" y="149.35" font-size="4.45" text-anchor="middle" fill="#000" stroke="#000" stroke-width="0.1" >Krt83</text>
<rect x="339.43" y="145.25" width="22.54" height="5.1" rx="0.9" fill="#fff" stroke="#a8a8a8" stroke-width="0.5"/>
<text x="350.70" y="149.35" font-size="4.45" text-anchor="middle" fill="#000" stroke="#000" stroke-width="0.1" >Gm12121</text>
<rect x="365.79" y="148.25" width="34.42" height="5.1" rx="0.9" fill="#fff" stroke="#a8a8a8" stroke-width="0.5"/>
<text x="383.00" y="152.35" font-size="4.45" text-anchor="middle" fill="#000" stroke="#000" stroke-width="0.1" >LOC100039029</text>
<rect x="416.77" y="143.35" width="21.06" height="5.1" rx="0.9" fill="#fff" stroke="#a8a8a8" stroke-width="0.5"/>
<text x="427.30" y="147.45" font-size="4.45" text-anchor="middle" fill="#000" stroke="#000" stroke-width="0.1" >Catsperb</text>
<rect x="440.47" y="144.75" width="20.07" height="5.1" rx="0.9" fill="#fff" stroke="#a8a8a8" stroke-width="0.5"/>
<text x="450.50" y="148.85" font-size="4.45" text-anchor="middle" fill="#000" stroke="#000" stroke-width="0.1" >Gm3744</text>
<rect x="462.93" y="144.75" width="22.54" height="5.1" rx="0.9" fill="#fff" stroke="#a8a8a8" stroke-width="0.5"/>
<text x="474.20" y="148.85" font-size="4.45" text-anchor="middle" fill="#000" stroke="#000" stroke-width="0.1" >Gm52120</text>
<rect x="312.53" y="152.85" width="22.54" height="5.1" rx="0.9" fill="#fff" stroke="#a8a8a8" stroke-width="0.5"/>
<text x="323.80" y="156.95" font-size="4.45" text-anchor="middle" fill="#000" stroke="#000" stroke-width="0.1" >Gm40202</text>
<rect x="336.28" y="152.85" width="13.64" height="5.1" rx="0.9" fill="#fff" stroke="#a8a8a8" stroke-width="0.5"/>
<text x="343.10" y="156.95" font-size="4.45" text-anchor="middle" fill="#000" stroke="#000" stroke-width="0.1" >Krt26</text>
<rect x="350.73" y="152.85" width="22.54" height="5.1" rx="0.9" fill="#fff" stroke="#a8a8a8" stroke-width="0.5"/>
<text x="362.00" y="156.95" font-size="4.45" text-anchor="middle" fill="#000" stroke="#000" stroke-width="0.1" >Gm25606</text>
<rect x="387.57" y="152.15" width="20.07" height="5.1" rx="0.9" fill="#fff" stroke="#a8a8a8" stroke-width="0.5"/>
<text x="397.60" y="156.25" font-size="4.45" text-anchor="middle" fill="#000" stroke="#000" stroke-width="0.1" >Gm6644</text>
<rect x="409.07" y="150.75" width="20.07" height="5.1" rx="0.9" fill="#fff" stroke="#a8a8a8" stroke-width="0.5"/>
<text x="419.10" y="154.85" font-size="4.45" text-anchor="middle" fill="#000" stroke="#000" stroke-width="0.1" >Gm7361</text>
<rect x="426.93" y="152.95" width="19.74" height="5.1" rx="0.9" fill="#fff" stroke="#a8a8a8" stroke-width="0.5"/>
<text x="436.80" y="157.05" font-size="4.45" text-anchor="middle" fill="#000" stroke="#000" stroke-width="0.1" >Gm1175</text>
<rect x="444.63" y="152.95" width="22.54" height="5.1" rx="0.9" fill="#fff" stroke="#a8a8a8" stroke-width="0.5"/>
<text x="455.90" y="157.05" font-size="4.45" text-anchor="middle" fill="#000" stroke="#000" stroke-width="0.1" >Gm33515</text>
<rect x="292.93" y="160.45" width="22.54" height="5.1" rx="0.9" fill="#fff" stroke="#a8a8a8" stroke-width="0.5"/>
<text x="304.20" y="164.55" font-size="4.45" text-anchor="middle" fill="#000" stroke="#000" stroke-width="0.1" >Gm26962</text>
<rect x="315.83" y="160.45" width="22.54" height="5.1" rx="0.9" fill="#fff" stroke="#a8a8a8" stroke-width="0.5"/>
<text x="327.10" y="164.55" font-size="4.45" text-anchor="middle" fill="#000" stroke="#000" stroke-width="0.1" >Gm31941</text>
<rect x="341.64" y="160.45" width="15.12" height="5.1" rx="0.9" fill="#fff" stroke="#a8a8a8" stroke-width="0.5"/>
<text x="349.20" y="164.55" font-size="4.45" text-anchor="middle" fill="#000" stroke="#000" stroke-width="0.1" >Nr5a1</text>
<rect x="358.23" y="160.45" width="32.94" height="5.1" rx="0.9" fill="#fff" stroke="#a8a8a8" stroke-width="0.5"/>
<text x="374.70" y="164.55" font-size="4.45" text-anchor="middle" fill="#000" stroke="#000" stroke-width="0.1" >5730403I07Rik</text>
<rect x="390.67" y="160.45" width="16.86" height="5.1" rx="0.9" fill="#fff" stroke="#a8a8a8" stroke-width="0.5"/>
<text x="399.10" y="164.55" font-size="4.45" text-anchor="middle" fill="#000" stroke="#000" stroke-width="0.1" >Apol9b</text>
<rect x="411.66" y="159.15" width="14.87" height="5.1" rx="0.9" fill="#fff" stroke="#a8a8a8" stroke-width="0.5"/>
<text x="419.10" y="163.25" font-size="4.45" text-anchor="middle" fill="#000" stroke="#000" stroke-width="0.1" >Tex29</text>
<rect x="428.23" y="160.55" width="22.54" height="5.1" rx="0.9" fill="#fff" stroke="#a8a8a8" stroke-width="0.5"/>
<text x="439.50" y="164.65" font-size="4.45" text-anchor="middle" fill="#000" stroke="#000" stroke-width="0.1" >Gm32694</text>
<rect x="451.24" y="160.55" width="33.92" height="5.1" rx="0.9" fill="#fff" stroke="#a8a8a8" stroke-width="0.5"/>
<text x="468.20" y="164.65" font-size="4.45" text-anchor="middle" fill="#000" stroke="#000" stroke-width="0.1" >5430437J10Rik</text>
<line x1="291.9" y1="13.0" x2="291.9" y2="167.20000000000002" stroke="#606060" stroke-width="0.75"/>
<line x1="291.5" y1="166.8" x2="487.8" y2="166.8" stroke="#606060" stroke-width="0.75"/>
<line x1="290.0" y1="159.70" x2="291.9" y2="159.70" stroke="#444" stroke-width="0.6"/>
<text x="288.40" y="161.65" font-size="5.45" text-anchor="end" fill="#454545" stroke="#454545" stroke-width="0.12" >0.0</text>
<line x1="290.0" y1="124.70" x2="291.9" y2="124.70" stroke="#444" stroke-width="0.6"/>
<text x="288.40" y="126.65" font-size="5.45" text-anchor="end" fill="#454545" stroke="#454545" stroke-width="0.12" >2.5</text>
<line x1="290.0" y1="89.70" x2="291.9" y2="89.70" stroke="#444" stroke-width="0.6"/>
<text x="288.40" y="91.65" font-size="5.45" text-anchor="end" fill="#454545" stroke="#454545" stroke-width="0.12" >5.0</text>
<line x1="290.0" y1="54.70" x2="291.9" y2="54.70" stroke="#444" stroke-width="0.6"/>
<text x="288.40" y="56.65" font-size="5.45" text-anchor="end" fill="#454545" stroke="#454545" stroke-width="0.12" >7.5</text>
<line x1="290.0" y1="19.70" x2="291.9" y2="19.70" stroke="#444" stroke-width="0.6"/>
<text x="288.40" y="21.65" font-size="5.45" text-anchor="end" fill="#454545" stroke="#454545" stroke-width="0.12" >10.0</text>
<line x1="334.00" y1="166.8" x2="334.00" y2="168.70000000000002" stroke="#444" stroke-width="0.6"/>
<text x="334.00" y="174.30" font-size="5.45" text-anchor="middle" fill="#454545" stroke="#454545" stroke-width="0.12" >-5</text>
<line x1="389.60" y1="166.8" x2="389.60" y2="168.70000000000002" stroke="#444" stroke-width="0.6"/>
<text x="389.60" y="174.30" font-size="5.45" text-anchor="middle" fill="#454545" stroke="#454545" stroke-width="0.12" >0</text>
<line x1="445.20" y1="166.8" x2="445.20" y2="168.70000000000002" stroke="#444" stroke-width="0.6"/>
<text x="445.20" y="174.30" font-size="5.45" text-anchor="middle" fill="#454545" stroke="#454545" stroke-width="0.12" >5</text>
<text x="291.50" y="8.70" font-size="4.0" text-anchor="start" fill="#222" stroke="#222" font-style="italic" letter-spacing="0.55">FDM</text>
<g fill="#111" stroke="#111" stroke-width="0.12"><text x="368.87" y="181.9" font-size="5.65">Log</text><text x="378.39" y="183.0" font-size="3.7">2</text><text x="381.92" y="181.9" font-size="5.65">fold change</text></g>
<g transform="translate(273.00 89.0) rotate(-90)" fill="#111" stroke="#111" stroke-width="0.16"><text x="-10.87" y="0" font-size="5.5">- Log</text><text x="1.77" y="1.1" font-size="3.6">10</text><text x="7.20" y="0" font-size="5.5" font-style="italic">P</text></g>
<text x="487.80" y="191.50" font-size="4.36" text-anchor="end" fill="#111" stroke="#111" stroke-width="0.1" >total = 32653 variables</text>
<circle cx="501.3" cy="85.00" r="0.6" fill="#555"/>
<text x="542.70" y="86.30" font-size="3.72" text-anchor="end" fill="#111" stroke="#111" >NS</text>
<circle cx="501.3" cy="89.43" r="0.6" fill="#18a528"/>
<text x="542.7" y="90.73" font-size="3.72" text-anchor="end" fill="#111" stroke="#111">Log<tspan font-size="2.6" dy="0.7">2</tspan><tspan dy="-0.7"> FC</tspan></text>
<circle cx="501.3" cy="93.86" r="0.6" fill="#3c6cf6"/>
<text x="542.7" y="95.16" font-size="3.72" text-anchor="end" fill="#111" stroke="#111"><tspan font-style="italic">p</tspan>-value</text>
<circle cx="501.3" cy="98.29" r="0.6" fill="#ee2a24"/>
<text x="542.7" y="99.59" font-size="3.72" text-anchor="end" fill="#111" stroke="#111"><tspan font-style="italic">p</tspan> - value and log<tspan font-size="2.6" dy="0.7">2</tspan><tspan dy="-0.7"> FC</tspan></text>
</g>
<rect x="111.3" y="225.9" width="86.8" height="188.1" fill="#fff" stroke="#d4d4d4" stroke-width="0.5"/>
<line x1="144.30" y1="225.9" x2="144.30" y2="414.0" stroke="#f3f3f3" stroke-width="0.4"/>
<line x1="171.70" y1="225.9" x2="171.70" y2="414.0" stroke="#f3f3f3" stroke-width="0.4"/>
<line x1="130.60" y1="225.9" x2="130.60" y2="414.0" stroke="#e9e9e9" stroke-width="0.5"/>
<line x1="130.60" y1="414.0" x2="130.60" y2="415.0" stroke="#555" stroke-width="0.35"/>
<text x="130.60" y="418.70" font-size="3.5" text-anchor="middle" fill="#3a3a3a" stroke="#3a3a3a" >0.1</text>
<line x1="158.00" y1="225.9" x2="158.00" y2="414.0" stroke="#e9e9e9" stroke-width="0.5"/>
<line x1="158.00" y1="414.0" x2="158.00" y2="415.0" stroke="#555" stroke-width="0.35"/>
<text x="158.00" y="418.70" font-size="3.5" text-anchor="middle" fill="#3a3a3a" stroke="#3a3a3a" >0.2</text>
<line x1="185.40" y1="225.9" x2="185.40" y2="414.0" stroke="#e9e9e9" stroke-width="0.5"/>
<line x1="185.40" y1="414.0" x2="185.40" y2="415.0" stroke="#555" stroke-width="0.35"/>
<text x="185.40" y="418.70" font-size="3.5" text-anchor="middle" fill="#3a3a3a" stroke="#3a3a3a" >0.3</text>
<text x="111.30" y="217.90" font-size="4.72" text-anchor="start" fill="#1a1a1a" stroke="#1a1a1a" stroke-width="0.02" >Enriched Pathways in 'LIM vs. control'</text>
<text x="111.90" y="223.10" font-size="4.72" text-anchor="start" fill="#1a1a1a" stroke="#1a1a1a" stroke-width="0.02" >(eye genes)</text>
<line x1="111.3" y1="230.90" x2="198.1" y2="230.90" stroke="#e9e9e9" stroke-width="0.5"/>
<line x1="111.3" y1="240.25" x2="198.1" y2="240.25" stroke="#e9e9e9" stroke-width="0.5"/>
<line x1="111.3" y1="249.59" x2="198.1" y2="249.59" stroke="#e9e9e9" stroke-width="0.5"/>
<line x1="111.3" y1="258.94" x2="198.1" y2="258.94" stroke="#e9e9e9" stroke-width="0.5"/>
<line x1="111.3" y1="268.29" x2="198.1" y2="268.29" stroke="#e9e9e9" stroke-width="0.5"/>
<line x1="111.3" y1="277.63" x2="198.1" y2="277.63" stroke="#e9e9e9" stroke-width="0.5"/>
<line x1="111.3" y1="286.98" x2="198.1" y2="286.98" stroke="#e9e9e9" stroke-width="0.5"/>
<line x1="111.3" y1="296.33" x2="198.1" y2="296.33" stroke="#e9e9e9" stroke-width="0.5"/>
<line x1="111.3" y1="305.68" x2="198.1" y2="305.68" stroke="#e9e9e9" stroke-width="0.5"/>
<line x1="111.3" y1="315.02" x2="198.1" y2="315.02" stroke="#e9e9e9" stroke-width="0.5"/>
<line x1="111.3" y1="324.37" x2="198.1" y2="324.37" stroke="#e9e9e9" stroke-width="0.5"/>
<line x1="111.3" y1="333.72" x2="198.1" y2="333.72" stroke="#e9e9e9" stroke-width="0.5"/>
<line x1="111.3" y1="343.06" x2="198.1" y2="343.06" stroke="#e9e9e9" stroke-width="0.5"/>
<line x1="111.3" y1="352.41" x2="198.1" y2="352.41" stroke="#e9e9e9" stroke-width="0.5"/>
<line x1="111.3" y1="361.76" x2="198.1" y2="361.76" stroke="#e9e9e9" stroke-width="0.5"/>
<line x1="111.3" y1="371.11" x2="198.1" y2="371.11" stroke="#e9e9e9" stroke-width="0.5"/>
<line x1="111.3" y1="380.45" x2="198.1" y2="380.45" stroke="#e9e9e9" stroke-width="0.5"/>
<line x1="111.3" y1="389.80" x2="198.1" y2="389.80" stroke="#e9e9e9" stroke-width="0.5"/>
<line x1="111.3" y1="399.15" x2="198.1" y2="399.15" stroke="#e9e9e9" stroke-width="0.5"/>
<line x1="111.3" y1="408.49" x2="198.1" y2="408.49" stroke="#e9e9e9" stroke-width="0.5"/>
<line x1="110.3" y1="230.90" x2="111.3" y2="230.90" stroke="#555" stroke-width="0.35"/>
<text x="109.50" y="230.18" font-size="3.85" text-anchor="end" fill="#262626" stroke="#262626" stroke-width="0.02" >positive regulation of</text>
<text x="109.50" y="234.23" font-size="3.85" text-anchor="end" fill="#262626" stroke="#262626" stroke-width="0.02" >response to stimulus</text>
<circle cx="193.60" cy="230.90" r="3.09" fill="#ee1a5c"/>
<line x1="110.3" y1="240.25" x2="111.3" y2="240.25" stroke="#555" stroke-width="0.35"/>
<text x="109.50" y="239.52" font-size="3.85" text-anchor="end" fill="#262626" stroke="#262626" stroke-width="0.02" >positive regulation of</text>
<text x="109.50" y="243.57" font-size="3.85" text-anchor="end" fill="#262626" stroke="#262626" stroke-width="0.02" >signal transduction</text>
<circle cx="176.50" cy="240.25" r="2.73" fill="#d8349a"/>
<line x1="110.3" y1="249.59" x2="111.3" y2="249.59" stroke="#555" stroke-width="0.35"/>
<text x="109.50" y="246.84" font-size="3.85" text-anchor="end" fill="#262626" stroke="#262626" stroke-width="0.02" >anatomical structure</text>
<text x="109.50" y="250.89" font-size="3.85" text-anchor="end" fill="#262626" stroke="#262626" stroke-width="0.02" >formation involved in</text>
<text x="109.50" y="254.94" font-size="3.85" text-anchor="end" fill="#262626" stroke="#262626" stroke-width="0.02" >morphogenesis</text>
<circle cx="176.50" cy="249.59" r="2.73" fill="#c63ab4"/>
<line x1="110.3" y1="258.94" x2="111.3" y2="258.94" stroke="#555" stroke-width="0.35"/>
<text x="109.50" y="258.22" font-size="3.85" text-anchor="end" fill="#262626" stroke="#262626" stroke-width="0.02" >epithelial cell</text>
<text x="109.50" y="262.27" font-size="3.85" text-anchor="end" fill="#262626" stroke="#262626" stroke-width="0.02" >differentiation</text>
<circle cx="156.90" cy="258.94" r="2.37" fill="#b02fc6"/>
<line x1="110.3" y1="268.29" x2="111.3" y2="268.29" stroke="#555" stroke-width="0.35"/>
<text x="109.50" y="269.59" font-size="3.85" text-anchor="end" fill="#262626" stroke="#262626" stroke-width="0.02" >epidermal cell differentiation</text>
<circle cx="132.20" cy="268.29" r="1.91" fill="#f0223e"/>
<line x1="110.3" y1="277.63" x2="111.3" y2="277.63" stroke="#555" stroke-width="0.35"/>
<text x="109.50" y="278.94" font-size="3.85" text-anchor="end" fill="#262626" stroke="#262626" stroke-width="0.02" >keratinocyte differentiation</text>
<circle cx="130.00" cy="277.63" r="1.91" fill="#ff2c12"/>
<line x1="110.3" y1="286.98" x2="111.3" y2="286.98" stroke="#555" stroke-width="0.35"/>
<text x="109.50" y="286.26" font-size="3.85" text-anchor="end" fill="#262626" stroke="#262626" stroke-width="0.02" >negative regulation of</text>
<text x="109.50" y="290.31" font-size="3.85" text-anchor="end" fill="#262626" stroke="#262626" stroke-width="0.02" >response to external stimulus</text>
<circle cx="130.00" cy="286.98" r="1.91" fill="#e030a0"/>
<line x1="110.3" y1="296.33" x2="111.3" y2="296.33" stroke="#555" stroke-width="0.35"/>
<text x="109.50" y="295.60" font-size="3.85" text-anchor="end" fill="#262626" stroke="#262626" stroke-width="0.02" >regulation of myeloid cell</text>
<text x="109.50" y="299.65" font-size="3.85" text-anchor="end" fill="#262626" stroke="#262626" stroke-width="0.02" >differentiation</text>
<circle cx="124.90" cy="296.33" r="1.73" fill="#c42fc0"/>
<line x1="110.3" y1="305.68" x2="111.3" y2="305.68" stroke="#555" stroke-width="0.35"/>
<text x="109.50" y="304.95" font-size="3.85" text-anchor="end" fill="#262626" stroke="#262626" stroke-width="0.02" >intracellular receptor</text>
<text x="109.50" y="309.00" font-size="3.85" text-anchor="end" fill="#262626" stroke="#262626" stroke-width="0.02" >signaling pathway</text>
<circle cx="124.90" cy="305.68" r="1.73" fill="#1432ff"/>
<line x1="110.3" y1="315.02" x2="111.3" y2="315.02" stroke="#555" stroke-width="0.35"/>
<text x="109.50" y="316.32" font-size="3.85" text-anchor="end" fill="#262626" stroke="#262626" stroke-width="0.02" >regulation of viral process</text>
<circle cx="119.80" cy="315.02" r="1.55" fill="#f02462"/>
<line x1="110.3" y1="324.37" x2="111.3" y2="324.37" stroke="#555" stroke-width="0.35"/>
<text x="109.50" y="323.65" font-size="3.85" text-anchor="end" fill="#262626" stroke="#262626" stroke-width="0.02" >regulation of myeloid</text>
<text x="109.50" y="327.69" font-size="3.85" text-anchor="end" fill="#262626" stroke="#262626" stroke-width="0.02" >leukocyte differentiation</text>
<circle cx="119.80" cy="324.37" r="1.55" fill="#5a30f0"/>
<line x1="110.3" y1="333.72" x2="111.3" y2="333.72" stroke="#555" stroke-width="0.35"/>
<text x="109.50" y="332.99" font-size="3.85" text-anchor="end" fill="#262626" stroke="#262626" stroke-width="0.02" >negative regulation of viral</text>
<text x="109.50" y="337.04" font-size="3.85" text-anchor="end" fill="#262626" stroke="#262626" stroke-width="0.02" >process</text>
<circle cx="117.60" cy="333.72" r="1.46" fill="#ff2424"/>
<line x1="110.3" y1="343.06" x2="111.3" y2="343.06" stroke="#555" stroke-width="0.35"/>
<text x="109.50" y="342.34" font-size="3.85" text-anchor="end" fill="#262626" stroke="#262626" stroke-width="0.02" >positive regulation of Notch</text>
<text x="109.50" y="346.39" font-size="3.85" text-anchor="end" fill="#262626" stroke="#262626" stroke-width="0.02" >signaling pathway</text>
<circle cx="117.60" cy="343.06" r="1.46" fill="#f82634"/>
<line x1="110.3" y1="352.41" x2="111.3" y2="352.41" stroke="#555" stroke-width="0.35"/>
<text x="109.50" y="353.71" font-size="3.85" text-anchor="end" fill="#262626" stroke="#262626" stroke-width="0.02" >regulation of viral life cycle</text>
<circle cx="117.60" cy="352.41" r="1.46" fill="#c832d0"/>
<line x1="110.3" y1="361.76" x2="111.3" y2="361.76" stroke="#555" stroke-width="0.35"/>
<text x="109.50" y="363.06" font-size="3.85" text-anchor="end" fill="#262626" stroke="#262626" stroke-width="0.02" >isoprenoid metabolic process</text>
<circle cx="117.60" cy="361.76" r="1.46" fill="#a432e2"/>
<line x1="110.3" y1="371.11" x2="111.3" y2="371.11" stroke="#555" stroke-width="0.35"/>
<text x="109.50" y="372.41" font-size="3.85" text-anchor="end" fill="#262626" stroke="#262626" stroke-width="0.02" >response to chemokine</text>
<circle cx="115.10" cy="371.11" r="1.18" fill="#ff2630"/>
<line x1="110.3" y1="380.45" x2="111.3" y2="380.45" stroke="#555" stroke-width="0.35"/>
<text x="109.50" y="381.75" font-size="3.85" text-anchor="end" fill="#262626" stroke="#262626" stroke-width="0.02" >cellular response to chemokine</text>
<circle cx="115.10" cy="380.45" r="1.18" fill="#ff2630"/>
<line x1="110.3" y1="389.80" x2="111.3" y2="389.80" stroke="#555" stroke-width="0.35"/>
<text x="109.50" y="391.10" font-size="3.85" text-anchor="end" fill="#262626" stroke="#262626" stroke-width="0.02" >retinoid metabolic process</text>
<circle cx="115.10" cy="389.80" r="1.18" fill="#ff2630"/>
<line x1="110.3" y1="399.15" x2="111.3" y2="399.15" stroke="#555" stroke-width="0.35"/>
<text x="109.50" y="400.45" font-size="3.85" text-anchor="end" fill="#262626" stroke="#262626" stroke-width="0.02" >diterpenoid metabolic process</text>
<circle cx="115.10" cy="399.15" r="1.18" fill="#ff2638"/>
<line x1="110.3" y1="408.49" x2="111.3" y2="408.49" stroke="#555" stroke-width="0.35"/>
<text x="109.50" y="409.79" font-size="3.85" text-anchor="end" fill="#262626" stroke="#262626" stroke-width="0.02" >terpenoid metabolic process</text>
<circle cx="115.10" cy="408.49" r="1.18" fill="#f42870"/>
<text x="154.10" y="423.10" font-size="4.4" text-anchor="middle" fill="#111" stroke="#111" >Gene ratio</text>
<text x="203.10" y="291.90" font-size="3.6" text-anchor="start" fill="#111" stroke="#111" >Count</text>
<circle cx="206.3" cy="296.30" r="1.95" fill="#000"/>
<text x="211.80" y="297.30" font-size="2.8" text-anchor="start" fill="#222" stroke="#222" >10</text>
<circle cx="206.3" cy="302.30" r="2.3" fill="#000"/>
<text x="211.80" y="303.30" font-size="2.8" text-anchor="start" fill="#222" stroke="#222" >20</text>
<circle cx="206.3" cy="308.50" r="2.7" fill="#000"/>
<text x="211.80" y="309.50" font-size="2.8" text-anchor="start" fill="#222" stroke="#222" >30</text>
<text x="203.10" y="321.90" font-size="3.6" text-anchor="start" fill="#111" stroke="#111" >p.adjust</text>
<defs><linearGradient id="gb1" x1="0" y1="0" x2="0" y2="1"><stop offset="0" stop-color="#2222ff"/><stop offset="0.35" stop-color="#a030d8"/><stop offset="0.65" stop-color="#e82488"/><stop offset="1" stop-color="#ff1414"/></linearGradient></defs>
<rect x="202.9" y="323.6" width="5.5" height="27.3" fill="url(#gb1)"/>
<text x="210.20" y="329.20" font-size="2.8" text-anchor="start" fill="#222" stroke="#222" >6e-04</text>
<text x="210.20" y="337.10" font-size="2.8" text-anchor="start" fill="#222" stroke="#222" >4e-04</text>
<text x="210.20" y="344.80" font-size="2.8" text-anchor="start" fill="#222" stroke="#222" >2e-04</text>
<rect x="113.1" y="449.5" width="81.70000000000002" height="188.0" fill="#fff" stroke="#d4d4d4" stroke-width="0.5"/>
<line x1="134.90" y1="449.5" x2="134.90" y2="637.5" stroke="#f3f3f3" stroke-width="0.4"/>
<line x1="152.20" y1="449.5" x2="152.20" y2="637.5" stroke="#f3f3f3" stroke-width="0.4"/>
<line x1="169.50" y1="449.5" x2="169.50" y2="637.5" stroke="#f3f3f3" stroke-width="0.4"/>
<line x1="186.70" y1="449.5" x2="186.70" y2="637.5" stroke="#f3f3f3" stroke-width="0.4"/>
<line x1="126.30" y1="449.5" x2="126.30" y2="637.5" stroke="#e9e9e9" stroke-width="0.5"/>
<line x1="126.30" y1="637.5" x2="126.30" y2="638.5" stroke="#555" stroke-width="0.35"/>
<text x="126.30" y="642.40" font-size="3.5" text-anchor="middle" fill="#3a3a3a" stroke="#3a3a3a" >0.05</text>
<line x1="143.60" y1="449.5" x2="143.60" y2="637.5" stroke="#e9e9e9" stroke-width="0.5"/>
<line x1="143.60" y1="637.5" x2="143.60" y2="638.5" stroke="#555" stroke-width="0.35"/>
<text x="143.60" y="642.40" font-size="3.5" text-anchor="middle" fill="#3a3a3a" stroke="#3a3a3a" >0.10</text>
<line x1="160.90" y1="449.5" x2="160.90" y2="637.5" stroke="#e9e9e9" stroke-width="0.5"/>
<line x1="160.90" y1="637.5" x2="160.90" y2="638.5" stroke="#555" stroke-width="0.35"/>
<text x="160.90" y="642.40" font-size="3.5" text-anchor="middle" fill="#3a3a3a" stroke="#3a3a3a" >0.15</text>
<line x1="178.10" y1="449.5" x2="178.10" y2="637.5" stroke="#e9e9e9" stroke-width="0.5"/>
<line x1="178.10" y1="637.5" x2="178.10" y2="638.5" stroke="#555" stroke-width="0.35"/>
<text x="178.10" y="642.40" font-size="3.5" text-anchor="middle" fill="#3a3a3a" stroke="#3a3a3a" >0.20</text>
<text x="113.10" y="441.90" font-size="4.67" text-anchor="start" fill="#1a1a1a" stroke="#1a1a1a" stroke-width="0.02" >Enriched Pathways in 'FDM vs. control'</text>
<text x="113.70" y="447.10" font-size="4.67" text-anchor="start" fill="#1a1a1a" stroke="#1a1a1a" stroke-width="0.02" >(eye genes)</text>
<line x1="113.1" y1="454.50" x2="194.8" y2="454.50" stroke="#e9e9e9" stroke-width="0.5"/>
<line x1="113.1" y1="463.87" x2="194.8" y2="463.87" stroke="#e9e9e9" stroke-width="0.5"/>
<line x1="113.1" y1="473.24" x2="194.8" y2="473.24" stroke="#e9e9e9" stroke-width="0.5"/>
<line x1="113.1" y1="482.60" x2="194.8" y2="482.60" stroke="#e9e9e9" stroke-width="0.5"/>
<line x1="113.1" y1="491.97" x2="194.8" y2="491.97" stroke="#e9e9e9" stroke-width="0.5"/>
<line x1="113.1" y1="501.34" x2="194.8" y2="501.34" stroke="#e9e9e9" stroke-width="0.5"/>
<line x1="113.1" y1="510.71" x2="194.8" y2="510.71" stroke="#e9e9e9" stroke-width="0.5"/>
<line x1="113.1" y1="520.08" x2="194.8" y2="520.08" stroke="#e9e9e9" stroke-width="0.5"/>
<line x1="113.1" y1="529.44" x2="194.8" y2="529.44" stroke="#e9e9e9" stroke-width="0.5"/>
<line x1="113.1" y1="538.81" x2="194.8" y2="538.81" stroke="#e9e9e9" stroke-width="0.5"/>
<line x1="113.1" y1="548.18" x2="194.8" y2="548.18" stroke="#e9e9e9" stroke-width="0.5"/>
<line x1="113.1" y1="557.55" x2="194.8" y2="557.55" stroke="#e9e9e9" stroke-width="0.5"/>
<line x1="113.1" y1="566.92" x2="194.8" y2="566.92" stroke="#e9e9e9" stroke-width="0.5"/>
<line x1="113.1" y1="576.28" x2="194.8" y2="576.28" stroke="#e9e9e9" stroke-width="0.5"/>
<line x1="113.1" y1="585.65" x2="194.8" y2="585.65" stroke="#e9e9e9" stroke-width="0.5"/>
<line x1="113.1" y1="595.02" x2="194.8" y2="595.02" stroke="#e9e9e9" stroke-width="0.5"/>
<line x1="113.1" y1="604.39" x2="194.8" y2="604.39" stroke="#e9e9e9" stroke-width="0.5"/>
<line x1="113.1" y1="613.76" x2="194.8" y2="613.76" stroke="#e9e9e9" stroke-width="0.5"/>
<line x1="113.1" y1="623.12" x2="194.8" y2="623.12" stroke="#e9e9e9" stroke-width="0.5"/>
<line x1="113.1" y1="632.49" x2="194.8" y2="632.49" stroke="#e9e9e9" stroke-width="0.5"/>
<line x1="112.1" y1="454.50" x2="113.1" y2="454.50" stroke="#555" stroke-width="0.35"/>
<text x="111.30" y="455.80" font-size="3.85" text-anchor="end" fill="#262626" stroke="#262626" stroke-width="0.02" >neuron projection</text>
<circle cx="191.10" cy="454.50" r="3.00" fill="#ff2222"/>
<line x1="112.1" y1="463.87" x2="113.1" y2="463.87" stroke="#555" stroke-width="0.35"/>
<text x="111.30" y="462.99" font-size="3.85" text-anchor="end" fill="#262626" stroke="#262626" stroke-width="0.02" >plasma membrane bounded cell</text>
<text x="111.30" y="467.34" font-size="3.85" text-anchor="end" fill="#262626" stroke="#262626" stroke-width="0.02" >projection organization</text>
<circle cx="188.20" cy="463.87" r="2.82" fill="#7432e6"/>
<line x1="112.1" y1="473.24" x2="113.1" y2="473.24" stroke="#555" stroke-width="0.35"/>
<text x="111.30" y="474.54" font-size="3.85" text-anchor="end" fill="#262626" stroke="#262626" stroke-width="0.02" >neuron development</text>
<circle cx="183.50" cy="473.24" r="2.73" fill="#f82432"/>
<line x1="112.1" y1="482.60" x2="113.1" y2="482.60" stroke="#555" stroke-width="0.35"/>
<text x="111.30" y="483.90" font-size="3.85" text-anchor="end" fill="#262626" stroke="#262626" stroke-width="0.02" >nervous system process</text>
<circle cx="176.20" cy="482.60" r="2.55" fill="#c430d0"/>
<line x1="112.1" y1="491.97" x2="113.1" y2="491.97" stroke="#555" stroke-width="0.35"/>
<text x="111.30" y="493.27" font-size="3.85" text-anchor="end" fill="#262626" stroke="#262626" stroke-width="0.02" >sensory perception</text>
<circle cx="150.70" cy="491.97" r="2.18" fill="#ff2430"/>
<line x1="112.1" y1="501.34" x2="113.1" y2="501.34" stroke="#555" stroke-width="0.35"/>
<text x="111.30" y="500.47" font-size="3.85" text-anchor="end" fill="#262626" stroke="#262626" stroke-width="0.02" >regulation of cellular</text>
<text x="111.30" y="504.82" font-size="3.85" text-anchor="end" fill="#262626" stroke="#262626" stroke-width="0.02" >localization</text>
<circle cx="150.70" cy="501.34" r="2.18" fill="#1240ff"/>
<line x1="112.1" y1="510.71" x2="113.1" y2="510.71" stroke="#555" stroke-width="0.35"/>
<text x="111.30" y="509.83" font-size="3.85" text-anchor="end" fill="#262626" stroke="#262626" stroke-width="0.02" >sensory perception of light</text>
<text x="111.30" y="514.18" font-size="3.85" text-anchor="end" fill="#262626" stroke="#262626" stroke-width="0.02" >stimulus</text>
<circle cx="137.60" cy="510.71" r="1.91" fill="#ff2c22"/>
<line x1="112.1" y1="520.08" x2="113.1" y2="520.08" stroke="#555" stroke-width="0.35"/>
<text x="111.30" y="521.38" font-size="3.85" text-anchor="end" fill="#262626" stroke="#262626" stroke-width="0.02" >visual perception</text>
<circle cx="136.90" cy="520.08" r="1.91" fill="#ff2422"/>
<line x1="112.1" y1="529.44" x2="113.1" y2="529.44" stroke="#555" stroke-width="0.35"/>
<text x="111.30" y="530.74" font-size="3.85" text-anchor="end" fill="#262626" stroke="#262626" stroke-width="0.02" >response to light stimulus</text>
<circle cx="136.20" cy="529.44" r="1.82" fill="#d030b2"/>
<line x1="112.1" y1="538.81" x2="113.1" y2="538.81" stroke="#555" stroke-width="0.35"/>
<text x="111.30" y="540.11" font-size="3.85" text-anchor="end" fill="#262626" stroke="#262626" stroke-width="0.02" >photoreceptor cell cilium</text>
<circle cx="128.20" cy="538.81" r="1.64" fill="#ff2428"/>
<line x1="112.1" y1="548.18" x2="113.1" y2="548.18" stroke="#555" stroke-width="0.35"/>
<text x="111.30" y="549.48" font-size="3.85" text-anchor="end" fill="#262626" stroke="#262626" stroke-width="0.02" >photoreceptor outer segment</text>
<circle cx="124.20" cy="548.18" r="1.64" fill="#ff2a2a"/>
<line x1="112.1" y1="557.55" x2="113.1" y2="557.55" stroke="#555" stroke-width="0.35"/>
<text x="111.30" y="558.85" font-size="3.85" text-anchor="end" fill="#262626" stroke="#262626" stroke-width="0.02" >photoreceptor cell development</text>
<circle cx="123.80" cy="557.55" r="1.64" fill="#ff2630"/>
<line x1="112.1" y1="566.92" x2="113.1" y2="566.92" stroke="#555" stroke-width="0.35"/>
<text x="111.30" y="568.22" font-size="3.85" text-anchor="end" fill="#262626" stroke="#262626" stroke-width="0.02" >detection of abiotic stimulus</text>
<circle cx="123.10" cy="566.92" r="1.64" fill="#f23060"/>
<line x1="112.1" y1="576.28" x2="113.1" y2="576.28" stroke="#555" stroke-width="0.35"/>
<text x="111.30" y="577.58" font-size="3.85" text-anchor="end" fill="#262626" stroke="#262626" stroke-width="0.02" >detection of external stimulus</text>
<circle cx="123.10" cy="576.28" r="1.64" fill="#f03272"/>
<line x1="112.1" y1="585.65" x2="113.1" y2="585.65" stroke="#555" stroke-width="0.35"/>
<text x="111.30" y="586.95" font-size="3.85" text-anchor="end" fill="#262626" stroke="#262626" stroke-width="0.02" >retina homeostasis</text>
<circle cx="121.30" cy="585.65" r="1.55" fill="#f82642"/>
<line x1="112.1" y1="595.02" x2="113.1" y2="595.02" stroke="#555" stroke-width="0.35"/>
<text x="111.30" y="596.32" font-size="3.85" text-anchor="end" fill="#262626" stroke="#262626" stroke-width="0.02" >regulation of endocytosis</text>
<circle cx="121.30" cy="595.02" r="1.55" fill="#7442f0"/>
<line x1="112.1" y1="604.39" x2="113.1" y2="604.39" stroke="#555" stroke-width="0.35"/>
<text x="111.30" y="605.69" font-size="3.85" text-anchor="end" fill="#262626" stroke="#262626" stroke-width="0.02" >detection of light stimulus</text>
<circle cx="120.50" cy="604.39" r="1.55" fill="#ff2424"/>
<line x1="112.1" y1="613.76" x2="113.1" y2="613.76" stroke="#555" stroke-width="0.35"/>
<text x="111.30" y="615.06" font-size="3.85" text-anchor="end" fill="#262626" stroke="#262626" stroke-width="0.02" >photoreceptor cell maintenance</text>
<circle cx="119.10" cy="613.76" r="1.36" fill="#f03282"/>
<line x1="112.1" y1="623.12" x2="113.1" y2="623.12" stroke="#555" stroke-width="0.35"/>
<text x="111.30" y="624.42" font-size="3.85" text-anchor="end" fill="#262626" stroke="#262626" stroke-width="0.02" >phototransduction</text>
<circle cx="116.20" cy="623.12" r="1.09" fill="#ff2632"/>
<line x1="112.1" y1="632.49" x2="113.1" y2="632.49" stroke="#555" stroke-width="0.35"/>
<text x="111.30" y="633.79" font-size="3.85" text-anchor="end" fill="#262626" stroke="#262626" stroke-width="0.02" >detection of visible light</text>
<circle cx="116.20" cy="632.49" r="1.09" fill="#f02682"/>
<text x="153.35" y="648.00" font-size="4.4" text-anchor="middle" fill="#111" stroke="#111" >Gene ratio</text>
<text x="200.10" y="518.60" font-size="3.6" text-anchor="start" fill="#111" stroke="#111" >Count</text>
<circle cx="203.1" cy="523.20" r="2.1" fill="#000"/>
<text x="208.20" y="524.20" font-size="2.8" text-anchor="start" fill="#222" stroke="#222" >50</text>
<circle cx="203.1" cy="529.20" r="2.7" fill="#000"/>
<text x="208.20" y="530.20" font-size="2.8" text-anchor="start" fill="#222" stroke="#222" >100</text>
<text x="200.10" y="542.40" font-size="3.6" text-anchor="start" fill="#111" stroke="#111" >p.adjust</text>
<defs><linearGradient id="gb2" x1="0" y1="0" x2="0" y2="1"><stop offset="0" stop-color="#2222ff"/><stop offset="0.35" stop-color="#a030d8"/><stop offset="0.65" stop-color="#e82488"/><stop offset="1" stop-color="#ff1414"/></linearGradient></defs>
<rect x="200.1" y="544.0" width="5.6" height="27.9" fill="url(#gb2)"/>
<text x="207.20" y="545.80" font-size="2.8" text-anchor="start" fill="#222" stroke="#222" >0.00125</text>
<text x="207.20" y="551.20" font-size="2.8" text-anchor="start" fill="#222" stroke="#222" >0.00100</text>
<text x="207.20" y="556.60" font-size="2.8" text-anchor="start" fill="#222" stroke="#222" >0.00075</text>
<text x="207.20" y="562.00" font-size="2.8" text-anchor="start" fill="#222" stroke="#222" >0.00050</text>
<text x="207.20" y="567.30" font-size="2.8" text-anchor="start" fill="#222" stroke="#222" >0.00025</text>
<rect x="425.1" y="220.2" width="95.89999999999998" height="121.30000000000001" fill="#fff" stroke="#d9d9d9" stroke-width="0.5"/>
<line x1="450.50" y1="220.2" x2="450.50" y2="341.5" stroke="#ececec" stroke-width="0.45"/>
<line x1="450.50" y1="341.5" x2="450.50" y2="342.5" stroke="#666" stroke-width="0.35"/>
<line x1="494.60" y1="220.2" x2="494.60" y2="341.5" stroke="#ececec" stroke-width="0.45"/>
<line x1="494.60" y1="341.5" x2="494.60" y2="342.5" stroke="#666" stroke-width="0.35"/>
<text x="450.50" y="347.20" font-size="3.8" text-anchor="middle" fill="#484848" stroke="#484848" stroke-width="0.03" >Upregulation in LIM</text>
<text x="494.60" y="347.20" font-size="3.8" text-anchor="middle" fill="#484848" stroke="#484848" stroke-width="0.03" >Downregulation in LIM</text>
<text x="425.10" y="211.10" font-size="4.78" text-anchor="start" fill="#1a1a1a" stroke="#1a1a1a" stroke-width="0.02" >Enriched Pathways in LIM vs. Ctrl</text>
<text x="425.10" y="216.60" font-size="4.78" text-anchor="start" fill="#1a1a1a" stroke="#1a1a1a" stroke-width="0.02" >w/ immune genes (GO BP)</text>
<line x1="425.1" y1="222.90" x2="521.0" y2="222.90" stroke="#ececec" stroke-width="0.45"/>
<line x1="424.1" y1="222.90" x2="425.1" y2="222.90" stroke="#666" stroke-width="0.35"/>
<text x="423.50" y="224.45" font-size="4.44" text-anchor="end" fill="#484848" stroke="#484848" stroke-width="0.03" >vesicle-mediated transport</text>
<line x1="425.1" y1="229.31" x2="521.0" y2="229.31" stroke="#ececec" stroke-width="0.45"/>
<line x1="424.1" y1="229.31" x2="425.1" y2="229.31" stroke="#666" stroke-width="0.35"/>
<text x="423.50" y="230.86" font-size="4.44" text-anchor="end" fill="#484848" stroke="#484848" stroke-width="0.03" >positive regulation of immune response</text>
<line x1="425.1" y1="235.71" x2="521.0" y2="235.71" stroke="#ececec" stroke-width="0.45"/>
<line x1="424.1" y1="235.71" x2="425.1" y2="235.71" stroke="#666" stroke-width="0.35"/>
<text x="423.50" y="237.26" font-size="4.44" text-anchor="end" fill="#484848" stroke="#484848" stroke-width="0.03" >leukocyte mediated immunity</text>
<line x1="425.1" y1="242.12" x2="521.0" y2="242.12" stroke="#ececec" stroke-width="0.45"/>
<line x1="424.1" y1="242.12" x2="425.1" y2="242.12" stroke="#666" stroke-width="0.35"/>
<text x="423.50" y="243.67" font-size="4.44" text-anchor="end" fill="#484848" stroke="#484848" stroke-width="0.03" >adaptive immune response</text>
<line x1="425.1" y1="248.52" x2="521.0" y2="248.52" stroke="#ececec" stroke-width="0.45"/>
<line x1="424.1" y1="248.52" x2="425.1" y2="248.52" stroke="#666" stroke-width="0.35"/>
<text x="423.50" y="250.07" font-size="4.44" text-anchor="end" fill="#484848" stroke="#484848" stroke-width="0.03" >T cell activation</text>
<line x1="425.1" y1="254.93" x2="521.0" y2="254.93" stroke="#ececec" stroke-width="0.45"/>
<line x1="424.1" y1="254.93" x2="425.1" y2="254.93" stroke="#666" stroke-width="0.35"/>
<text x="423.50" y="256.48" font-size="4.44" text-anchor="end" fill="#484848" stroke="#484848" stroke-width="0.03" >regulation of immune effector process</text>
<line x1="425.1" y1="261.34" x2="521.0" y2="261.34" stroke="#ececec" stroke-width="0.45"/>
<line x1="424.1" y1="261.34" x2="425.1" y2="261.34" stroke="#666" stroke-width="0.35"/>
<text x="423.50" y="262.89" font-size="4.44" text-anchor="end" fill="#484848" stroke="#484848" stroke-width="0.03" >positive regulation of response to external stimulus</text>
<line x1="425.1" y1="267.74" x2="521.0" y2="267.74" stroke="#ececec" stroke-width="0.45"/>
<line x1="424.1" y1="267.74" x2="425.1" y2="267.74" stroke="#666" stroke-width="0.35"/>
<text x="423.50" y="269.29" font-size="4.44" text-anchor="end" fill="#484848" stroke="#484848" stroke-width="0.03" >positive regulation of cytokine production</text>
<line x1="425.1" y1="274.15" x2="521.0" y2="274.15" stroke="#ececec" stroke-width="0.45"/>
<line x1="424.1" y1="274.15" x2="425.1" y2="274.15" stroke="#666" stroke-width="0.35"/>
<text x="423.50" y="275.70" font-size="4.44" text-anchor="end" fill="#484848" stroke="#484848" stroke-width="0.03" >regulation of defense response</text>
<line x1="425.1" y1="280.55" x2="521.0" y2="280.55" stroke="#ececec" stroke-width="0.45"/>
<line x1="424.1" y1="280.55" x2="425.1" y2="280.55" stroke="#666" stroke-width="0.35"/>
<text x="423.50" y="282.10" font-size="4.44" text-anchor="end" fill="#484848" stroke="#484848" stroke-width="0.03" >positive regulation of intracellular signal transduction</text>
<line x1="425.1" y1="286.96" x2="521.0" y2="286.96" stroke="#ececec" stroke-width="0.45"/>
<line x1="424.1" y1="286.96" x2="425.1" y2="286.96" stroke="#666" stroke-width="0.35"/>
<text x="423.50" y="288.51" font-size="4.44" text-anchor="end" fill="#484848" stroke="#484848" stroke-width="0.03" >response to virus</text>
<line x1="425.1" y1="293.37" x2="521.0" y2="293.37" stroke="#ececec" stroke-width="0.45"/>
<line x1="424.1" y1="293.37" x2="425.1" y2="293.37" stroke="#666" stroke-width="0.35"/>
<text x="423.50" y="294.92" font-size="4.44" text-anchor="end" fill="#484848" stroke="#484848" stroke-width="0.03" >defense response to virus</text>
<line x1="425.1" y1="299.77" x2="521.0" y2="299.77" stroke="#ececec" stroke-width="0.45"/>
<line x1="424.1" y1="299.77" x2="425.1" y2="299.77" stroke="#666" stroke-width="0.35"/>
<text x="423.50" y="301.32" font-size="4.44" text-anchor="end" fill="#484848" stroke="#484848" stroke-width="0.03" >defense response to symbiont</text>
<line x1="425.1" y1="306.18" x2="521.0" y2="306.18" stroke="#ececec" stroke-width="0.45"/>
<line x1="424.1" y1="306.18" x2="425.1" y2="306.18" stroke="#666" stroke-width="0.35"/>
<text x="423.50" y="307.73" font-size="4.44" text-anchor="end" fill="#484848" stroke="#484848" stroke-width="0.03" >lipid metabolic process</text>
<line x1="425.1" y1="312.58" x2="521.0" y2="312.58" stroke="#ececec" stroke-width="0.45"/>
<line x1="424.1" y1="312.58" x2="425.1" y2="312.58" stroke="#666" stroke-width="0.35"/>
<text x="423.50" y="314.13" font-size="4.44" text-anchor="end" fill="#484848" stroke="#484848" stroke-width="0.03" >viral process</text>
<line x1="425.1" y1="318.99" x2="521.0" y2="318.99" stroke="#ececec" stroke-width="0.45"/>
<line x1="424.1" y1="318.99" x2="425.1" y2="318.99" stroke="#666" stroke-width="0.35"/>
<text x="423.50" y="320.54" font-size="4.44" text-anchor="end" fill="#484848" stroke="#484848" stroke-width="0.03" >viral life cycle</text>
<line x1="425.1" y1="325.40" x2="521.0" y2="325.40" stroke="#ececec" stroke-width="0.45"/>
<line x1="424.1" y1="325.40" x2="425.1" y2="325.40" stroke="#666" stroke-width="0.35"/>
<text x="423.50" y="326.95" font-size="4.44" text-anchor="end" fill="#484848" stroke="#484848" stroke-width="0.03" >pattern recognition receptor signaling pathway</text>
<line x1="425.1" y1="331.80" x2="521.0" y2="331.80" stroke="#ececec" stroke-width="0.45"/>
<line x1="424.1" y1="331.80" x2="425.1" y2="331.80" stroke="#666" stroke-width="0.35"/>
<text x="423.50" y="333.35" font-size="4.44" text-anchor="end" fill="#484848" stroke="#484848" stroke-width="0.03" >regulation of viral process</text>
<line x1="425.1" y1="338.21" x2="521.0" y2="338.21" stroke="#ececec" stroke-width="0.45"/>
<line x1="424.1" y1="338.21" x2="425.1" y2="338.21" stroke="#666" stroke-width="0.35"/>
<text x="423.50" y="339.76" font-size="4.44" text-anchor="end" fill="#484848" stroke="#484848" stroke-width="0.03" >regulation of viral life cycle</text>
<circle cx="450.50" cy="222.90" r="2.25" fill="#0b6b2c"/>
<circle cx="450.50" cy="229.31" r="2.25" fill="#0b6b2c"/>
<circle cx="450.50" cy="235.71" r="2.25" fill="#0b6b2c"/>
<circle cx="450.50" cy="242.12" r="2.25" fill="#0b6b2c"/>
<circle cx="450.50" cy="248.52" r="2.25" fill="#0b6b2c"/>
<circle cx="450.50" cy="254.93" r="2.25" fill="#0b6b2c"/>
<circle cx="450.50" cy="261.34" r="2.25" fill="#0b6b2c"/>
<circle cx="450.50" cy="267.74" r="2.25" fill="#0b6b2c"/>
<circle cx="450.50" cy="274.15" r="2.25" fill="#0b6b2c"/>
<circle cx="450.50" cy="280.55" r="2.25" fill="#0b6b2c"/>
<circle cx="494.60" cy="274.15" r="1.30" fill="#8fd31f"/>
<circle cx="494.60" cy="286.96" r="1.35" fill="#0b6b2c"/>
<circle cx="494.60" cy="293.37" r="1.30" fill="#0b6b2c"/>
<circle cx="494.60" cy="299.77" r="1.30" fill="#10702c"/>
<circle cx="494.60" cy="306.18" r="1.26" fill="#6fc032"/>
<circle cx="494.60" cy="312.58" r="0.99" fill="#2f8f35"/>
<circle cx="494.60" cy="318.99" r="0.90" fill="#1c7a30"/>
<circle cx="494.60" cy="325.40" r="0.90" fill="#1c7a30"/>
<circle cx="494.60" cy="331.80" r="0.72" fill="#2a8a34"/>
<circle cx="494.60" cy="338.21" r="0.68" fill="#2a8a34"/>
<text x="526.30" y="248.20" font-size="3.5" text-anchor="start" fill="#111" stroke="#111" >pvalue</text>
<defs><linearGradient id="gc1" x1="0" y1="0" x2="0" y2="1"><stop offset="0" stop-color="#9bdc1c"/><stop offset="1" stop-color="#0b6b2c"/></linearGradient></defs>
<rect x="526.3" y="250.0" width="5.5" height="27.0" fill="url(#gc1)"/>
<text x="533.50" y="255.30" font-size="2.8" text-anchor="start" fill="#222" stroke="#222" >0.020</text>
<text x="533.50" y="260.80" font-size="2.8" text-anchor="start" fill="#222" stroke="#222" >0.015</text>
<text x="533.50" y="266.70" font-size="2.8" text-anchor="start" fill="#222" stroke="#222" >0.010</text>
<text x="533.50" y="272.50" font-size="2.8" text-anchor="start" fill="#222" stroke="#222" >0.005</text>
<text x="526.30" y="287.00" font-size="3.5" text-anchor="start" fill="#111" stroke="#111" >Count</text>
<circle cx="529.2" cy="291.90" r="1.0" fill="#000"/>
<text x="533.50" y="292.90" font-size="2.8" text-anchor="start" fill="#222" stroke="#222" >20</text>
<circle cx="529.2" cy="297.50" r="1.4" fill="#000"/>
<text x="533.50" y="298.50" font-size="2.8" text-anchor="start" fill="#222" stroke="#222" >30</text>
<circle cx="529.2" cy="302.90" r="1.8" fill="#000"/>
<text x="533.50" y="303.90" font-size="2.8" text-anchor="start" fill="#222" stroke="#222" >40</text>
<circle cx="529.2" cy="308.40" r="2.1" fill="#000"/>
<text x="533.50" y="309.40" font-size="2.8" text-anchor="start" fill="#222" stroke="#222" >50</text>
<circle cx="529.2" cy="313.80" r="2.4" fill="#000"/>
<text x="533.50" y="314.80" font-size="2.8" text-anchor="start" fill="#222" stroke="#222" >60</text>
<rect x="421.3" y="366.0" width="104.69999999999999" height="121.39999999999998" fill="#fff" stroke="#d9d9d9" stroke-width="0.5"/>
<line x1="449.60" y1="366.0" x2="449.60" y2="487.4" stroke="#ececec" stroke-width="0.45"/>
<line x1="449.60" y1="487.4" x2="449.60" y2="488.4" stroke="#666" stroke-width="0.35"/>
<line x1="497.40" y1="366.0" x2="497.40" y2="487.4" stroke="#ececec" stroke-width="0.45"/>
<line x1="497.40" y1="487.4" x2="497.40" y2="488.4" stroke="#666" stroke-width="0.35"/>
<text x="449.60" y="493.90" font-size="3.8" text-anchor="middle" fill="#484848" stroke="#484848" stroke-width="0.03" >Upregulation in FDM</text>
<text x="497.40" y="493.90" font-size="3.8" text-anchor="middle" fill="#484848" stroke="#484848" stroke-width="0.03" >Downregulation in FDM</text>
<text x="421.30" y="357.60" font-size="4.78" text-anchor="start" fill="#1a1a1a" stroke="#1a1a1a" stroke-width="0.02" >Enriched Pathways in FDM vs. Ctrl</text>
<text x="421.30" y="363.00" font-size="4.78" text-anchor="start" fill="#1a1a1a" stroke="#1a1a1a" stroke-width="0.02" >w/ immune genes (GO BP)</text>
<line x1="421.3" y1="369.30" x2="526.0" y2="369.30" stroke="#ececec" stroke-width="0.45"/>
<line x1="420.3" y1="369.30" x2="421.3" y2="369.30" stroke="#666" stroke-width="0.35"/>
<text x="419.70" y="370.85" font-size="4.44" text-anchor="end" fill="#484848" stroke="#484848" stroke-width="0.03" >cell-cell adhesion</text>
<line x1="421.3" y1="375.37" x2="526.0" y2="375.37" stroke="#ececec" stroke-width="0.45"/>
<line x1="420.3" y1="375.37" x2="421.3" y2="375.37" stroke="#666" stroke-width="0.35"/>
<text x="419.70" y="376.92" font-size="4.44" text-anchor="end" fill="#484848" stroke="#484848" stroke-width="0.03" >T cell activation</text>
<line x1="421.3" y1="381.44" x2="526.0" y2="381.44" stroke="#ececec" stroke-width="0.45"/>
<line x1="420.3" y1="381.44" x2="421.3" y2="381.44" stroke="#666" stroke-width="0.35"/>
<text x="419.70" y="382.99" font-size="4.44" text-anchor="end" fill="#484848" stroke="#484848" stroke-width="0.03" >cellular response to cytokine stimulus</text>
<line x1="421.3" y1="387.50" x2="526.0" y2="387.50" stroke="#ececec" stroke-width="0.45"/>
<line x1="420.3" y1="387.50" x2="421.3" y2="387.50" stroke="#666" stroke-width="0.35"/>
<text x="419.70" y="389.05" font-size="4.44" text-anchor="end" fill="#484848" stroke="#484848" stroke-width="0.03" >positive regulation of cell population proliferation</text>
<line x1="421.3" y1="393.57" x2="526.0" y2="393.57" stroke="#ececec" stroke-width="0.45"/>
<line x1="420.3" y1="393.57" x2="421.3" y2="393.57" stroke="#666" stroke-width="0.35"/>
<text x="419.70" y="395.12" font-size="4.44" text-anchor="end" fill="#484848" stroke="#484848" stroke-width="0.03" >regulation of locomotion</text>
<line x1="421.3" y1="399.64" x2="526.0" y2="399.64" stroke="#ececec" stroke-width="0.45"/>
<line x1="420.3" y1="399.64" x2="421.3" y2="399.64" stroke="#666" stroke-width="0.35"/>
<text x="419.70" y="401.19" font-size="4.44" text-anchor="end" fill="#484848" stroke="#484848" stroke-width="0.03" >regulation of defense response</text>
<line x1="421.3" y1="405.71" x2="526.0" y2="405.71" stroke="#ececec" stroke-width="0.45"/>
<line x1="420.3" y1="405.71" x2="421.3" y2="405.71" stroke="#666" stroke-width="0.35"/>
<text x="419.70" y="407.26" font-size="4.44" text-anchor="end" fill="#484848" stroke="#484848" stroke-width="0.03" >regulation of cell motility</text>
<line x1="421.3" y1="411.78" x2="526.0" y2="411.78" stroke="#ececec" stroke-width="0.45"/>
<line x1="420.3" y1="411.78" x2="421.3" y2="411.78" stroke="#666" stroke-width="0.35"/>
<text x="419.70" y="413.33" font-size="4.44" text-anchor="end" fill="#484848" stroke="#484848" stroke-width="0.03" >regulation of cell migration</text>
<line x1="421.3" y1="417.84" x2="526.0" y2="417.84" stroke="#ececec" stroke-width="0.45"/>
<line x1="420.3" y1="417.84" x2="421.3" y2="417.84" stroke="#666" stroke-width="0.35"/>
<text x="419.70" y="419.39" font-size="4.44" text-anchor="end" fill="#484848" stroke="#484848" stroke-width="0.03" >positive regulation of immune response</text>
<line x1="421.3" y1="423.91" x2="526.0" y2="423.91" stroke="#ececec" stroke-width="0.45"/>
<line x1="420.3" y1="423.91" x2="421.3" y2="423.91" stroke="#666" stroke-width="0.35"/>
<text x="419.70" y="425.46" font-size="4.44" text-anchor="end" fill="#484848" stroke="#484848" stroke-width="0.03" >regulation of lymphocyte activation</text>
<line x1="421.3" y1="429.98" x2="526.0" y2="429.98" stroke="#ececec" stroke-width="0.45"/>
<line x1="420.3" y1="429.98" x2="421.3" y2="429.98" stroke="#666" stroke-width="0.35"/>
<text x="419.70" y="431.53" font-size="4.44" text-anchor="end" fill="#484848" stroke="#484848" stroke-width="0.03" >small molecule metabolic process</text>
<line x1="421.3" y1="436.05" x2="526.0" y2="436.05" stroke="#ececec" stroke-width="0.45"/>
<line x1="420.3" y1="436.05" x2="421.3" y2="436.05" stroke="#666" stroke-width="0.35"/>
<text x="419.70" y="437.60" font-size="4.44" text-anchor="end" fill="#484848" stroke="#484848" stroke-width="0.03" >response to virus</text>
<line x1="421.3" y1="442.12" x2="526.0" y2="442.12" stroke="#ececec" stroke-width="0.45"/>
<line x1="420.3" y1="442.12" x2="421.3" y2="442.12" stroke="#666" stroke-width="0.35"/>
<text x="419.70" y="443.67" font-size="4.44" text-anchor="end" fill="#484848" stroke="#484848" stroke-width="0.03" >regulation of response to biotic stimulus</text>
<line x1="421.3" y1="448.18" x2="526.0" y2="448.18" stroke="#ececec" stroke-width="0.45"/>
<line x1="420.3" y1="448.18" x2="421.3" y2="448.18" stroke="#666" stroke-width="0.35"/>
<text x="419.70" y="449.73" font-size="4.44" text-anchor="end" fill="#484848" stroke="#484848" stroke-width="0.03" >defense response to virus</text>
<line x1="421.3" y1="454.25" x2="526.0" y2="454.25" stroke="#ececec" stroke-width="0.45"/>
<line x1="420.3" y1="454.25" x2="421.3" y2="454.25" stroke="#666" stroke-width="0.35"/>
<text x="419.70" y="455.80" font-size="4.44" text-anchor="end" fill="#484848" stroke="#484848" stroke-width="0.03" >defense response to symbiont</text>
<line x1="421.3" y1="460.32" x2="526.0" y2="460.32" stroke="#ececec" stroke-width="0.45"/>
<line x1="420.3" y1="460.32" x2="421.3" y2="460.32" stroke="#666" stroke-width="0.35"/>
<text x="419.70" y="461.87" font-size="4.44" text-anchor="end" fill="#484848" stroke="#484848" stroke-width="0.03" >regulation of innate immune response</text>
<line x1="421.3" y1="466.39" x2="526.0" y2="466.39" stroke="#ececec" stroke-width="0.45"/>
<line x1="420.3" y1="466.39" x2="421.3" y2="466.39" stroke="#666" stroke-width="0.35"/>
<text x="419.70" y="467.94" font-size="4.44" text-anchor="end" fill="#484848" stroke="#484848" stroke-width="0.03" >viral process</text>
<line x1="421.3" y1="472.46" x2="526.0" y2="472.46" stroke="#ececec" stroke-width="0.45"/>
<line x1="420.3" y1="472.46" x2="421.3" y2="472.46" stroke="#666" stroke-width="0.35"/>
<text x="419.70" y="474.01" font-size="4.44" text-anchor="end" fill="#484848" stroke="#484848" stroke-width="0.03" >multicellular organismal homeostasis</text>
<line x1="421.3" y1="478.52" x2="526.0" y2="478.52" stroke="#ececec" stroke-width="0.45"/>
<line x1="420.3" y1="478.52" x2="421.3" y2="478.52" stroke="#666" stroke-width="0.35"/>
<text x="419.70" y="480.07" font-size="4.44" text-anchor="end" fill="#484848" stroke="#484848" stroke-width="0.03" >viral life cycle</text>
<line x1="421.3" y1="484.59" x2="526.0" y2="484.59" stroke="#ececec" stroke-width="0.45"/>
<line x1="420.3" y1="484.59" x2="421.3" y2="484.59" stroke="#666" stroke-width="0.35"/>
<text x="419.70" y="486.14" font-size="4.44" text-anchor="end" fill="#484848" stroke="#484848" stroke-width="0.03" >pattern recognition receptor signaling pathway</text>
<circle cx="449.60" cy="369.30" r="2.16" fill="#0b6b2c"/>
<circle cx="449.60" cy="375.37" r="2.16" fill="#0b6b2c"/>
<circle cx="449.60" cy="381.44" r="2.16" fill="#0b6b2c"/>
<circle cx="449.60" cy="387.50" r="2.16" fill="#0b6b2c"/>
<circle cx="449.60" cy="393.57" r="2.16" fill="#0b6b2c"/>
<circle cx="449.60" cy="399.64" r="2.16" fill="#0b6b2c"/>
<circle cx="449.60" cy="405.71" r="2.16" fill="#0b6b2c"/>
<circle cx="449.60" cy="411.78" r="2.16" fill="#0b6b2c"/>
<circle cx="449.60" cy="417.84" r="2.12" fill="#8ed41e"/>
<circle cx="449.60" cy="423.91" r="2.07" fill="#7cc828"/>
<circle cx="497.40" cy="429.98" r="1.40" fill="#0b6b2c"/>
<circle cx="497.40" cy="436.05" r="1.40" fill="#0b6b2c"/>
<circle cx="497.40" cy="442.12" r="1.35" fill="#0b6b2c"/>
<circle cx="497.40" cy="448.18" r="1.30" fill="#0b6b2c"/>
<circle cx="497.40" cy="454.25" r="1.30" fill="#0b6b2c"/>
<circle cx="497.40" cy="460.32" r="1.17" fill="#10702c"/>
<circle cx="497.40" cy="466.39" r="1.03" fill="#1c7a30"/>
<circle cx="497.40" cy="472.46" r="0.90" fill="#8fd31f"/>
<circle cx="497.40" cy="478.52" r="0.77" fill="#1c7a30"/>
<circle cx="497.40" cy="484.59" r="0.63" fill="#1c7a30"/>
<text x="531.20" y="396.90" font-size="3.5" text-anchor="start" fill="#111" stroke="#111" >pvalue</text>
<defs><linearGradient id="gc2" x1="0" y1="0" x2="0" y2="1"><stop offset="0" stop-color="#9bdc1c"/><stop offset="1" stop-color="#0b6b2c"/></linearGradient></defs>
<rect x="531.2" y="398.7" width="5.8" height="27.3" fill="url(#gc2)"/>
<text x="538.70" y="400.90" font-size="2.8" text-anchor="start" fill="#222" stroke="#222" >0.012</text>
<text x="538.70" y="406.80" font-size="2.8" text-anchor="start" fill="#222" stroke="#222" >0.009</text>
<text x="538.70" y="413.80" font-size="2.8" text-anchor="start" fill="#222" stroke="#222" >0.006</text>
<text x="538.70" y="420.50" font-size="2.8" text-anchor="start" fill="#222" stroke="#222" >0.003</text>
<text x="531.20" y="436.00" font-size="3.5" text-anchor="start" fill="#111" stroke="#111" >Count</text>
<circle cx="533.8" cy="440.80" r="0.7" fill="#000"/>
<text x="538.70" y="441.80" font-size="2.8" text-anchor="start" fill="#222" stroke="#222" >20</text>
<circle cx="533.8" cy="446.10" r="1.3" fill="#000"/>
<text x="538.70" y="447.10" font-size="2.8" text-anchor="start" fill="#222" stroke="#222" >40</text>
<circle cx="533.8" cy="451.70" r="1.8" fill="#000"/>
<text x="538.70" y="452.70" font-size="2.8" text-anchor="start" fill="#222" stroke="#222" >60</text>
<circle cx="533.8" cy="457.00" r="2.2" fill="#000"/>
<text x="538.70" y="458.00" font-size="2.8" text-anchor="start" fill="#222" stroke="#222" >80</text>
<rect x="426.5" y="510.0" width="79.89999999999998" height="126.60000000000002" fill="#fff" stroke="#d9d9d9" stroke-width="0.5"/>
<line x1="448.30" y1="510.0" x2="448.30" y2="636.6" stroke="#ececec" stroke-width="0.45"/>
<line x1="448.30" y1="636.6" x2="448.30" y2="637.6" stroke="#666" stroke-width="0.35"/>
<line x1="484.80" y1="510.0" x2="484.80" y2="636.6" stroke="#ececec" stroke-width="0.45"/>
<line x1="484.80" y1="636.6" x2="484.80" y2="637.6" stroke="#666" stroke-width="0.35"/>
<text x="448.30" y="643.70" font-size="3.8" text-anchor="middle" fill="#484848" stroke="#484848" stroke-width="0.03" >Upregulation in LIM</text>
<text x="484.80" y="643.70" font-size="3.8" text-anchor="middle" fill="#484848" stroke="#484848" stroke-width="0.03" >Upregulation in FDM</text>
<text x="426.50" y="507.00" font-size="4.78" text-anchor="start" fill="#1a1a1a" stroke="#1a1a1a" stroke-width="0.02" >Enriched Pathways related to inflammation</text>
<line x1="426.5" y1="514.60" x2="506.4" y2="514.60" stroke="#ececec" stroke-width="0.45"/>
<line x1="425.5" y1="514.60" x2="426.5" y2="514.60" stroke="#666" stroke-width="0.35"/>
<text x="424.90" y="516.15" font-size="4.44" text-anchor="end" fill="#484848" stroke="#484848" stroke-width="0.03" >inflammatory response</text>
<line x1="426.5" y1="522.50" x2="506.4" y2="522.50" stroke="#ececec" stroke-width="0.45"/>
<line x1="425.5" y1="522.50" x2="426.5" y2="522.50" stroke="#666" stroke-width="0.35"/>
<text x="424.90" y="524.05" font-size="4.44" text-anchor="end" fill="#484848" stroke="#484848" stroke-width="0.03" >regulation of inflammatory response</text>
<line x1="426.5" y1="530.40" x2="506.4" y2="530.40" stroke="#ececec" stroke-width="0.45"/>
<line x1="425.5" y1="530.40" x2="426.5" y2="530.40" stroke="#666" stroke-width="0.35"/>
<text x="424.90" y="531.95" font-size="4.44" text-anchor="end" fill="#484848" stroke="#484848" stroke-width="0.03" >acute inflammatory response</text>
<line x1="426.5" y1="538.30" x2="506.4" y2="538.30" stroke="#ececec" stroke-width="0.45"/>
<line x1="425.5" y1="538.30" x2="426.5" y2="538.30" stroke="#666" stroke-width="0.35"/>
<text x="424.90" y="539.85" font-size="4.44" text-anchor="end" fill="#484848" stroke="#484848" stroke-width="0.03" >positive regulation of inflammatory response</text>
<line x1="426.5" y1="546.20" x2="506.4" y2="546.20" stroke="#ececec" stroke-width="0.45"/>
<line x1="425.5" y1="546.20" x2="426.5" y2="546.20" stroke="#666" stroke-width="0.35"/>
<text x="424.90" y="547.75" font-size="4.44" text-anchor="end" fill="#484848" stroke="#484848" stroke-width="0.03" >regulation of acute inflammatory response</text>
<line x1="426.5" y1="554.10" x2="506.4" y2="554.10" stroke="#ececec" stroke-width="0.45"/>
<line x1="425.5" y1="554.10" x2="426.5" y2="554.10" stroke="#666" stroke-width="0.35"/>
<text x="424.90" y="555.65" font-size="4.44" text-anchor="end" fill="#484848" stroke="#484848" stroke-width="0.03" >inflammatory response to antigenic stimulus</text>
<line x1="426.5" y1="562.00" x2="506.4" y2="562.00" stroke="#ececec" stroke-width="0.45"/>
<line x1="425.5" y1="562.00" x2="426.5" y2="562.00" stroke="#666" stroke-width="0.35"/>
<text x="424.90" y="563.55" font-size="4.44" text-anchor="end" fill="#484848" stroke="#484848" stroke-width="0.03" >regulation of inflammatory response to antigenic stimulus</text>
<line x1="426.5" y1="569.90" x2="506.4" y2="569.90" stroke="#ececec" stroke-width="0.45"/>
<line x1="425.5" y1="569.90" x2="426.5" y2="569.90" stroke="#666" stroke-width="0.35"/>
<text x="424.90" y="571.45" font-size="4.44" text-anchor="end" fill="#484848" stroke="#484848" stroke-width="0.03" >positive regulation of acute inflammatory response</text>
<line x1="426.5" y1="577.80" x2="506.4" y2="577.80" stroke="#ececec" stroke-width="0.45"/>
<line x1="425.5" y1="577.80" x2="426.5" y2="577.80" stroke="#666" stroke-width="0.35"/>
<text x="424.90" y="579.35" font-size="4.44" text-anchor="end" fill="#484848" stroke="#484848" stroke-width="0.03" >acute inflammatory response to antigenic stimulus</text>
<line x1="426.5" y1="585.70" x2="506.4" y2="585.70" stroke="#ececec" stroke-width="0.45"/>
<line x1="425.5" y1="585.70" x2="426.5" y2="585.70" stroke="#666" stroke-width="0.35"/>
<text x="424.90" y="587.25" font-size="4.44" text-anchor="end" fill="#484848" stroke="#484848" stroke-width="0.03" >regulation of acute inflammatory response to antigenic stimulus</text>
<line x1="426.5" y1="593.60" x2="506.4" y2="593.60" stroke="#ececec" stroke-width="0.45"/>
<line x1="425.5" y1="593.60" x2="426.5" y2="593.60" stroke="#666" stroke-width="0.35"/>
<text x="424.90" y="595.15" font-size="4.44" text-anchor="end" fill="#484848" stroke="#484848" stroke-width="0.03" >production of molecular mediator involved in inflammatory response</text>
<line x1="426.5" y1="601.50" x2="506.4" y2="601.50" stroke="#ececec" stroke-width="0.45"/>
<line x1="425.5" y1="601.50" x2="426.5" y2="601.50" stroke="#666" stroke-width="0.35"/>
<text x="424.90" y="603.05" font-size="4.44" text-anchor="end" fill="#484848" stroke="#484848" stroke-width="0.03" >neuroinflammatory response</text>
<line x1="426.5" y1="609.40" x2="506.4" y2="609.40" stroke="#ececec" stroke-width="0.45"/>
<line x1="425.5" y1="609.40" x2="426.5" y2="609.40" stroke="#666" stroke-width="0.35"/>
<text x="424.90" y="610.95" font-size="4.44" text-anchor="end" fill="#484848" stroke="#484848" stroke-width="0.03" >regulation of cytokine production involved in inflammatory response</text>
<line x1="426.5" y1="617.30" x2="506.4" y2="617.30" stroke="#ececec" stroke-width="0.45"/>
<line x1="425.5" y1="617.30" x2="426.5" y2="617.30" stroke="#666" stroke-width="0.35"/>
<text x="424.90" y="618.85" font-size="4.44" text-anchor="end" fill="#484848" stroke="#484848" stroke-width="0.03" >positive regulation of inflammatory response to antigenic stimulus</text>
<line x1="426.5" y1="625.20" x2="506.4" y2="625.20" stroke="#ececec" stroke-width="0.45"/>
<line x1="425.5" y1="625.20" x2="426.5" y2="625.20" stroke="#666" stroke-width="0.35"/>
<text x="424.90" y="626.75" font-size="4.44" text-anchor="end" fill="#484848" stroke="#484848" stroke-width="0.03" >leukocyte migration involved in inflammatory response</text>
<line x1="426.5" y1="633.10" x2="506.4" y2="633.10" stroke="#ececec" stroke-width="0.45"/>
<line x1="425.5" y1="633.10" x2="426.5" y2="633.10" stroke="#666" stroke-width="0.35"/>
<text x="424.90" y="634.65" font-size="4.44" text-anchor="end" fill="#484848" stroke="#484848" stroke-width="0.03" >negative regulation of inflammatory response to antigenic stimulus</text>
<circle cx="448.30" cy="514.60" r="2.21" fill="#ff5a12"/>
<circle cx="484.80" cy="514.60" r="2.21" fill="#ff5a12"/>
<circle cx="448.30" cy="522.50" r="1.53" fill="#ff6412"/>
<circle cx="484.80" cy="522.50" r="1.89" fill="#ff5a12"/>
<circle cx="448.30" cy="530.40" r="1.48" fill="#ff7214"/>
<circle cx="484.80" cy="530.40" r="1.71" fill="#ff5a12"/>
<circle cx="448.30" cy="538.30" r="1.35" fill="#ff6412"/>
<circle cx="484.80" cy="538.30" r="1.44" fill="#ff5a12"/>
<circle cx="448.30" cy="546.20" r="1.17" fill="#ff7a14"/>
<circle cx="448.30" cy="554.10" r="1.17" fill="#ff7a14"/>
<circle cx="448.30" cy="562.00" r="1.12" fill="#ff8016"/>
<circle cx="448.30" cy="569.90" r="1.17" fill="#ff7a14"/>
<circle cx="448.30" cy="577.80" r="1.17" fill="#ff6e14"/>
<circle cx="448.30" cy="585.70" r="1.12" fill="#ff7a14"/>
<circle cx="448.30" cy="593.60" r="1.22" fill="#ffb020"/>
<circle cx="484.80" cy="601.50" r="1.17" fill="#ff6412"/>
<circle cx="448.30" cy="609.40" r="1.03" fill="#ffbc28"/>
<circle cx="448.30" cy="617.30" r="1.03" fill="#ff8016"/>
<circle cx="448.30" cy="625.20" r="1.03" fill="#ff9018"/>
<circle cx="448.30" cy="633.10" r="0.72" fill="#ffbc28"/>
<text x="511.50" y="546.90" font-size="3.5" text-anchor="start" fill="#111" stroke="#111" >pvalue</text>
<defs><linearGradient id="gc3" x1="0" y1="0" x2="0" y2="1"><stop offset="0" stop-color="#ffc400"/><stop offset="1" stop-color="#ff5a08"/></linearGradient></defs>
<rect x="511.5" y="548.4" width="5.6" height="27.6" fill="url(#gc3)"/>
<text x="518.80" y="556.80" font-size="2.8" text-anchor="start" fill="#222" stroke="#222" >0.15</text>
<text x="518.80" y="566.90" font-size="2.8" text-anchor="start" fill="#222" stroke="#222" >0.05</text>
<text x="511.50" y="585.70" font-size="3.5" text-anchor="start" fill="#111" stroke="#111" >Count</text>
<circle cx="514.3" cy="590.60" r="1.3" fill="#000"/>
<text x="518.80" y="591.60" font-size="2.8" text-anchor="start" fill="#222" stroke="#222" >10</text>
<circle cx="514.3" cy="596.10" r="1.8" fill="#000"/>
<text x="518.80" y="597.10" font-size="2.8" text-anchor="start" fill="#222" stroke="#222" >20</text>
<circle cx="514.3" cy="601.70" r="2.3" fill="#000"/>
<text x="518.80" y="602.70" font-size="2.8" text-anchor="start" fill="#222" stroke="#222" >30</text>
</svg>
</body></html>
